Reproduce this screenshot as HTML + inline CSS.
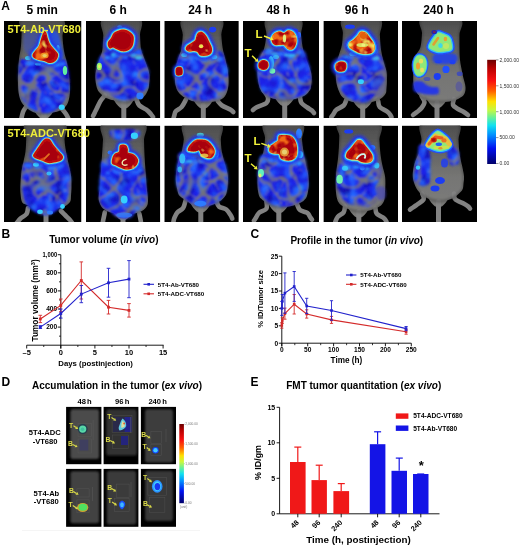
<!DOCTYPE html>
<html><head><meta charset="utf-8"><title>Figure</title>
<style>html,body{margin:0;padding:0;background:#fff;width:520px;height:547px;overflow:hidden}
svg{display:block;font-family:'Liberation Sans', Arial, sans-serif}</style></head>
<body><svg width="520" height="547" viewBox="0 0 520 547">
<rect width="520" height="547" fill="#fff"/>
<defs>
<linearGradient id="jet" x1="0" y1="0" x2="0" y2="1">
<stop offset="0" stop-color="#6a0000"/><stop offset="0.08" stop-color="#b80000"/><stop offset="0.2" stop-color="#f81010"/><stop offset="0.3" stop-color="#ff6000"/>
<stop offset="0.4" stop-color="#ffe000"/><stop offset="0.48" stop-color="#c8f840"/><stop offset="0.56" stop-color="#60f0a0"/><stop offset="0.63" stop-color="#10e0f0"/>
<stop offset="0.72" stop-color="#0090ff"/><stop offset="0.85" stop-color="#0010f0"/><stop offset="1" stop-color="#00006a"/>
</linearGradient>
<linearGradient id="mg" x1="0" y1="0" x2="0" y2="1"><stop offset="0" stop-color="#4a4a4a"/><stop offset="0.3" stop-color="#5f5f5f"/><stop offset="0.7" stop-color="#767674"/><stop offset="1" stop-color="#7a7a7a"/></linearGradient>
<filter id="b1" x="-100%" y="-100%" width="300%" height="300%"><feGaussianBlur stdDeviation="1"/></filter>
<filter id="b05" x="-100%" y="-100%" width="300%" height="300%"><feGaussianBlur stdDeviation="0.5"/></filter>
<filter id="b15" x="-100%" y="-100%" width="300%" height="300%"><feGaussianBlur stdDeviation="1.5"/></filter>
<filter id="b2" x="-30%" y="-30%" width="160%" height="160%"><feGaussianBlur stdDeviation="2"/></filter>
</defs>
<text x="1.2" y="9.8" font-size="12" font-weight="bold" text-anchor="start" fill="#000" >A</text>
<text x="26.6" y="13.8" font-size="12" font-weight="bold" text-anchor="start" fill="#000" >5 min</text>
<text x="109.6" y="13.8" font-size="12" font-weight="bold" text-anchor="start" fill="#000" >6 h</text>
<text x="188.2" y="13.8" font-size="12" font-weight="bold" text-anchor="start" fill="#000" >24 h</text>
<text x="266.4" y="13.8" font-size="12" font-weight="bold" text-anchor="start" fill="#000" >48 h</text>
<text x="344.8" y="13.8" font-size="12" font-weight="bold" text-anchor="start" fill="#000" >96 h</text>
<text x="423.2" y="13.8" font-size="12" font-weight="bold" text-anchor="start" fill="#000" >240 h</text>
<clipPath id="pc0"><rect x="0" y="0" width="77.50" height="97.00"/></clipPath>
<g transform="translate(4,21)"><g clip-path="url(#pc0)">
<rect width="77.50" height="97.00" fill="#000"/>
<g filter="url(#b05)">
<path d="M18.0,-2.0 C24.7,-4.0 51.2,-4.8 58.0,-2.0 C64.8,0.8 58.2,9.7 58.5,15.0 C58.8,20.3 59.2,25.5 60.0,30.0 C60.8,34.5 62.2,37.8 63.0,42.0 C63.8,46.2 64.5,50.7 65.0,55.0 C65.5,59.3 66.0,64.2 66.0,68.0 C66.0,71.8 65.7,75.2 65.0,78.0 C64.3,80.8 63.7,83.0 62.0,85.0 C60.3,87.0 57.8,88.8 55.0,90.0 C52.2,91.2 48.8,91.7 45.0,92.0 C41.2,92.3 35.5,92.7 32.0,92.0 C28.5,91.3 26.3,89.7 24.0,88.0 C21.7,86.3 19.5,84.3 18.0,82.0 C16.5,79.7 15.7,77.3 15.0,74.0 C14.3,70.7 14.1,66.0 14.0,62.0 C13.9,58.0 14.0,54.0 14.2,50.0 C14.4,46.0 14.5,42.2 15.0,38.0 C15.5,33.8 16.6,29.7 17.0,25.0 C17.4,20.3 17.5,14.5 17.7,10.0 C17.9,5.5 11.3,0.0 18.0,-2.0Z" fill="url(#mg)"/>
<path d="M30.0,86.0 C32.3,84.2 47.7,84.2 50.0,86.0 C52.3,87.8 46.3,95.2 44.0,97.0 C41.7,98.8 38.3,98.8 36.0,97.0 C33.7,95.2 27.7,87.8 30.0,86.0Z" fill="#7a7a78"/>
<path d="M22.0,86.0 C21.5,86.8 19.8,88.8 19.0,91.0 C18.2,93.2 17.3,97.7 17.0,99.0" fill="none" stroke="#828282" stroke-width="4.6" stroke-linecap="round" stroke-linejoin="round"/>
<path d="M58.0,88.0 C58.7,88.8 60.8,91.2 62.0,93.0 C63.2,94.8 64.5,98.0 65.0,99.0" fill="none" stroke="#828282" stroke-width="4.6" stroke-linecap="round" stroke-linejoin="round"/>
<path d="M40.0,90.0 C40.0,91.5 40.0,97.5 40.0,99.0" fill="none" stroke="#828282" stroke-width="5" stroke-linecap="round"/>
</g>
<path d="M18.0,-2.0 C24.7,-4.0 51.2,-4.8 58.0,-2.0 C64.8,0.8 58.2,9.7 58.5,15.0 C58.8,20.3 59.2,25.5 60.0,30.0 C60.8,34.5 62.2,37.8 63.0,42.0 C63.8,46.2 64.5,50.7 65.0,55.0 C65.5,59.3 66.0,64.2 66.0,68.0 C66.0,71.8 65.7,75.2 65.0,78.0 C64.3,80.8 63.7,83.0 62.0,85.0 C60.3,87.0 57.8,88.8 55.0,90.0 C52.2,91.2 48.8,91.7 45.0,92.0 C41.2,92.3 35.5,92.7 32.0,92.0 C28.5,91.3 26.3,89.7 24.0,88.0 C21.7,86.3 19.5,84.3 18.0,82.0 C16.5,79.7 15.7,77.3 15.0,74.0 C14.3,70.7 14.1,66.0 14.0,62.0 C13.9,58.0 14.0,54.0 14.2,50.0 C14.4,46.0 14.5,42.2 15.0,38.0 C15.5,33.8 16.6,29.7 17.0,25.0 C17.4,20.3 17.5,14.5 17.7,10.0 C17.9,5.5 11.3,0.0 18.0,-2.0Z" fill="none" stroke="#000" stroke-opacity="0.22" stroke-width="3" filter="url(#b1)"/>
<path d="M21.0,12.0 C23.2,9.3 30.8,9.3 33.0,12.0 C35.2,14.7 35.0,24.3 34.0,28.0 C33.0,31.7 29.3,34.0 27.0,34.0 C24.7,34.0 21.0,31.7 20.0,28.0 C19.0,24.3 18.8,14.7 21.0,12.0Z" fill="#3a50c0" fill-opacity="0.55" filter="url(#b1)"/>
<path d="M44.0,11.0 C45.0,7.8 50.8,9.2 53.0,11.0 C55.2,12.8 56.0,17.8 57.0,22.0 C58.0,26.2 59.7,33.0 59.0,36.0 C58.3,39.0 55.0,41.0 53.0,40.0 C51.0,39.0 48.5,34.8 47.0,30.0 C45.5,25.2 43.0,14.2 44.0,11.0Z" fill="#2050f0" fill-opacity="0.8" filter="url(#b1)"/>
<defs>
<filter id="tg11" x="-5%" y="-5%" width="110%" height="110%" color-interpolation-filters="sRGB"><feTurbulence type="turbulence" baseFrequency="0.056" numOctaves="1" seed="11" result="n"/><feColorMatrix in="n" type="matrix" values="0 0 0 0 0.5 0 0 0 0 0.49 0 0 0 0 0.44 -9 0 0 0 0.85" result="c"/><feComposite in="c" in2="SourceAlpha" operator="in" result="m"/><feGaussianBlur in="m" stdDeviation="0.7"/></filter>
<filter id="tl11" x="-5%" y="-5%" width="110%" height="110%" color-interpolation-filters="sRGB"><feTurbulence type="fractalNoise" baseFrequency="0.12" numOctaves="2" seed="511" result="n"/><feColorMatrix in="n" type="matrix" values="0 0 0 0 0.15 0 0 0 0 0.42 0 0 0 0 1.0 4 0 0 0 -1.8" result="c"/><feComposite in="c" in2="SourceAlpha" operator="in" result="m"/><feGaussianBlur in="m" stdDeviation="0.8"/></filter>
<filter id="td11" x="-5%" y="-5%" width="110%" height="110%" color-interpolation-filters="sRGB"><feTurbulence type="fractalNoise" baseFrequency="0.1" numOctaves="2" seed="911" result="n"/><feColorMatrix in="n" type="matrix" values="0 0 0 0 0.08 0 0 0 0 0.03 0 0 0 0 0.62 4 0 0 0 -2.0" result="c"/><feComposite in="c" in2="SourceAlpha" operator="in" result="m"/><feGaussianBlur in="m" stdDeviation="0.8"/></filter>
<filter id="tc11" x="-5%" y="-5%" width="110%" height="110%" color-interpolation-filters="sRGB"><feTurbulence type="fractalNoise" baseFrequency="0.09" numOctaves="2" seed="711" result="n"/><feColorMatrix in="n" type="matrix" values="0 0 0 0 0.2 0 0 0 0 0.72 0 0 0 0 1.0 5 0 0 0 -3.45" result="c"/><feComposite in="c" in2="SourceAlpha" operator="in" result="m"/><feGaussianBlur in="m" stdDeviation="0.8"/></filter>
<filter id="bb11" x="-30%" y="-30%" width="160%" height="160%"><feGaussianBlur stdDeviation="1.2"/></filter>
</defs>
<g filter="url(#bb11)"><path d="M18.0,38.0 C19.7,37.7 23.7,39.3 26.0,40.0 C28.3,40.7 29.0,41.5 32.0,42.0 C35.0,42.5 40.3,43.2 44.0,43.0 C47.7,42.8 51.3,41.8 54.0,41.0 C56.7,40.2 58.5,37.5 60.0,38.0 C61.5,38.5 62.2,41.2 63.0,44.0 C63.8,46.8 64.7,51.0 65.0,55.0 C65.3,59.0 65.5,64.5 65.0,68.0 C64.5,71.5 63.3,73.3 62.0,76.0 C60.7,78.7 59.0,81.7 57.0,84.0 C55.0,86.3 52.8,88.7 50.0,90.0 C47.2,91.3 43.3,92.2 40.0,92.0 C36.7,91.8 33.0,90.5 30.0,89.0 C27.0,87.5 24.2,85.5 22.0,83.0 C19.8,80.5 18.2,77.5 17.0,74.0 C15.8,70.5 15.3,66.0 15.0,62.0 C14.7,58.0 14.8,53.3 15.0,50.0 C15.2,46.7 15.5,44.0 16.0,42.0 C16.5,40.0 16.3,38.3 18.0,38.0Z" fill="#1c22e8" fill-opacity="1.0"/>
<path d="M18.0,38.0 C19.7,37.7 23.7,39.3 26.0,40.0 C28.3,40.7 29.0,41.5 32.0,42.0 C35.0,42.5 40.3,43.2 44.0,43.0 C47.7,42.8 51.3,41.8 54.0,41.0 C56.7,40.2 58.5,37.5 60.0,38.0 C61.5,38.5 62.2,41.2 63.0,44.0 C63.8,46.8 64.7,51.0 65.0,55.0 C65.3,59.0 65.5,64.5 65.0,68.0 C64.5,71.5 63.3,73.3 62.0,76.0 C60.7,78.7 59.0,81.7 57.0,84.0 C55.0,86.3 52.8,88.7 50.0,90.0 C47.2,91.3 43.3,92.2 40.0,92.0 C36.7,91.8 33.0,90.5 30.0,89.0 C27.0,87.5 24.2,85.5 22.0,83.0 C19.8,80.5 18.2,77.5 17.0,74.0 C15.8,70.5 15.3,66.0 15.0,62.0 C14.7,58.0 14.8,53.3 15.0,50.0 C15.2,46.7 15.5,44.0 16.0,42.0 C16.5,40.0 16.3,38.3 18.0,38.0Z" fill="#000" filter="url(#td11)"/>
<path d="M18.0,38.0 C19.7,37.7 23.7,39.3 26.0,40.0 C28.3,40.7 29.0,41.5 32.0,42.0 C35.0,42.5 40.3,43.2 44.0,43.0 C47.7,42.8 51.3,41.8 54.0,41.0 C56.7,40.2 58.5,37.5 60.0,38.0 C61.5,38.5 62.2,41.2 63.0,44.0 C63.8,46.8 64.7,51.0 65.0,55.0 C65.3,59.0 65.5,64.5 65.0,68.0 C64.5,71.5 63.3,73.3 62.0,76.0 C60.7,78.7 59.0,81.7 57.0,84.0 C55.0,86.3 52.8,88.7 50.0,90.0 C47.2,91.3 43.3,92.2 40.0,92.0 C36.7,91.8 33.0,90.5 30.0,89.0 C27.0,87.5 24.2,85.5 22.0,83.0 C19.8,80.5 18.2,77.5 17.0,74.0 C15.8,70.5 15.3,66.0 15.0,62.0 C14.7,58.0 14.8,53.3 15.0,50.0 C15.2,46.7 15.5,44.0 16.0,42.0 C16.5,40.0 16.3,38.3 18.0,38.0Z" fill="#000" filter="url(#tl11)"/>
<path d="M18.0,38.0 C19.7,37.7 23.7,39.3 26.0,40.0 C28.3,40.7 29.0,41.5 32.0,42.0 C35.0,42.5 40.3,43.2 44.0,43.0 C47.7,42.8 51.3,41.8 54.0,41.0 C56.7,40.2 58.5,37.5 60.0,38.0 C61.5,38.5 62.2,41.2 63.0,44.0 C63.8,46.8 64.7,51.0 65.0,55.0 C65.3,59.0 65.5,64.5 65.0,68.0 C64.5,71.5 63.3,73.3 62.0,76.0 C60.7,78.7 59.0,81.7 57.0,84.0 C55.0,86.3 52.8,88.7 50.0,90.0 C47.2,91.3 43.3,92.2 40.0,92.0 C36.7,91.8 33.0,90.5 30.0,89.0 C27.0,87.5 24.2,85.5 22.0,83.0 C19.8,80.5 18.2,77.5 17.0,74.0 C15.8,70.5 15.3,66.0 15.0,62.0 C14.7,58.0 14.8,53.3 15.0,50.0 C15.2,46.7 15.5,44.0 16.0,42.0 C16.5,40.0 16.3,38.3 18.0,38.0Z" fill="#000" filter="url(#tc11)"/>
<path d="M18.0,38.0 C19.7,37.7 23.7,39.3 26.0,40.0 C28.3,40.7 29.0,41.5 32.0,42.0 C35.0,42.5 40.3,43.2 44.0,43.0 C47.7,42.8 51.3,41.8 54.0,41.0 C56.7,40.2 58.5,37.5 60.0,38.0 C61.5,38.5 62.2,41.2 63.0,44.0 C63.8,46.8 64.7,51.0 65.0,55.0 C65.3,59.0 65.5,64.5 65.0,68.0 C64.5,71.5 63.3,73.3 62.0,76.0 C60.7,78.7 59.0,81.7 57.0,84.0 C55.0,86.3 52.8,88.7 50.0,90.0 C47.2,91.3 43.3,92.2 40.0,92.0 C36.7,91.8 33.0,90.5 30.0,89.0 C27.0,87.5 24.2,85.5 22.0,83.0 C19.8,80.5 18.2,77.5 17.0,74.0 C15.8,70.5 15.3,66.0 15.0,62.0 C14.7,58.0 14.8,53.3 15.0,50.0 C15.2,46.7 15.5,44.0 16.0,42.0 C16.5,40.0 16.3,38.3 18.0,38.0Z" fill="#000" filter="url(#tg11)"/></g>
<ellipse cx="24.5" cy="42.5" rx="4.0" ry="2.1" fill="#2c78ff" fill-opacity="0.8" filter="url(#b1)"/>
<ellipse cx="27.6" cy="42.0" rx="3.7" ry="2.4" fill="#2c78ff" fill-opacity="0.8" filter="url(#b1)"/>
<ellipse cx="38.5" cy="42.9" rx="2.8" ry="2.3" fill="#2c78ff" fill-opacity="0.8" filter="url(#b1)"/>
<ellipse cx="43.8" cy="41.4" rx="2.8" ry="2.1" fill="#2c78ff" fill-opacity="0.8" filter="url(#b1)"/>
<ellipse cx="52.5" cy="43.3" rx="3.9" ry="2.0" fill="#30a8ff" fill-opacity="0.8" filter="url(#b1)"/>
<ellipse cx="58.4" cy="42.9" rx="3.4" ry="2.2" fill="#2c78ff" fill-opacity="0.8" filter="url(#b1)"/>
<ellipse cx="24" cy="37" rx="3" ry="2" fill="#35d0ff" fill-opacity="0.8" filter="url(#b05)"/>
<ellipse cx="54" cy="28" rx="1.6" ry="4" fill="#35d0ff" fill-opacity="0.7" filter="url(#b05)"/>
<ellipse cx="34" cy="43" rx="3" ry="1.6" fill="#35d0ff" fill-opacity="0.7" filter="url(#b05)"/>
<g filter="url(#b05)">
<path d="M39.5,11.0 C40.3,9.8 41.2,9.8 42.0,11.0 C42.8,12.2 43.3,16.0 44.0,18.0 C44.7,20.0 45.0,21.3 46.0,23.0 C47.0,24.7 48.7,26.3 50.0,28.0 C51.3,29.7 53.5,31.3 54.0,33.0 C54.5,34.7 53.7,36.7 53.0,38.0 C52.3,39.3 51.3,40.3 50.0,41.0 C48.7,41.7 46.7,42.2 45.0,42.0 C43.3,41.8 41.7,40.5 40.0,40.0 C38.3,39.5 36.7,39.5 35.0,39.0 C33.3,38.5 31.1,37.8 30.0,37.0 C28.9,36.2 28.3,35.2 28.5,34.0 C28.7,32.8 29.9,31.5 31.0,30.0 C32.1,28.5 34.0,27.0 35.0,25.0 C36.0,23.0 36.2,20.3 37.0,18.0 C37.8,15.7 38.7,12.2 39.5,11.0Z" fill="#1c30f0" stroke="#1c30f0" stroke-width="7.7" stroke-linejoin="round" opacity="0.85" filter="url(#b15)"/>
<path d="M39.5,11.0 C40.3,9.8 41.2,9.8 42.0,11.0 C42.8,12.2 43.3,16.0 44.0,18.0 C44.7,20.0 45.0,21.3 46.0,23.0 C47.0,24.7 48.7,26.3 50.0,28.0 C51.3,29.7 53.5,31.3 54.0,33.0 C54.5,34.7 53.7,36.7 53.0,38.0 C52.3,39.3 51.3,40.3 50.0,41.0 C48.7,41.7 46.7,42.2 45.0,42.0 C43.3,41.8 41.7,40.5 40.0,40.0 C38.3,39.5 36.7,39.5 35.0,39.0 C33.3,38.5 31.1,37.8 30.0,37.0 C28.9,36.2 28.3,35.2 28.5,34.0 C28.7,32.8 29.9,31.5 31.0,30.0 C32.1,28.5 34.0,27.0 35.0,25.0 C36.0,23.0 36.2,20.3 37.0,18.0 C37.8,15.7 38.7,12.2 39.5,11.0Z" fill="#2070ff" stroke="#2070ff" stroke-width="3.9" stroke-linejoin="round" opacity="0.9" filter="url(#b05)"/>
<path d="M39.5,11.0 C40.3,9.8 41.2,9.8 42.0,11.0 C42.8,12.2 43.3,16.0 44.0,18.0 C44.7,20.0 45.0,21.3 46.0,23.0 C47.0,24.7 48.7,26.3 50.0,28.0 C51.3,29.7 53.5,31.3 54.0,33.0 C54.5,34.7 53.7,36.7 53.0,38.0 C52.3,39.3 51.3,40.3 50.0,41.0 C48.7,41.7 46.7,42.2 45.0,42.0 C43.3,41.8 41.7,40.5 40.0,40.0 C38.3,39.5 36.7,39.5 35.0,39.0 C33.3,38.5 31.1,37.8 30.0,37.0 C28.9,36.2 28.3,35.2 28.5,34.0 C28.7,32.8 29.9,31.5 31.0,30.0 C32.1,28.5 34.0,27.0 35.0,25.0 C36.0,23.0 36.2,20.3 37.0,18.0 C37.8,15.7 38.7,12.2 39.5,11.0Z" fill="#40d8f0" stroke="#40d8f0" stroke-width="2.1" stroke-linejoin="round"/>
<path d="M39.5,11.0 C40.3,9.8 41.2,9.8 42.0,11.0 C42.8,12.2 43.3,16.0 44.0,18.0 C44.7,20.0 45.0,21.3 46.0,23.0 C47.0,24.7 48.7,26.3 50.0,28.0 C51.3,29.7 53.5,31.3 54.0,33.0 C54.5,34.7 53.7,36.7 53.0,38.0 C52.3,39.3 51.3,40.3 50.0,41.0 C48.7,41.7 46.7,42.2 45.0,42.0 C43.3,41.8 41.7,40.5 40.0,40.0 C38.3,39.5 36.7,39.5 35.0,39.0 C33.3,38.5 31.1,37.8 30.0,37.0 C28.9,36.2 28.3,35.2 28.5,34.0 C28.7,32.8 29.9,31.5 31.0,30.0 C32.1,28.5 34.0,27.0 35.0,25.0 C36.0,23.0 36.2,20.3 37.0,18.0 C37.8,15.7 38.7,12.2 39.5,11.0Z" fill="#e8e070" stroke="#e8e070" stroke-width="0.9" stroke-linejoin="round"/>
<path d="M39.5,11.0 C40.3,9.8 41.2,9.8 42.0,11.0 C42.8,12.2 43.3,16.0 44.0,18.0 C44.7,20.0 45.0,21.3 46.0,23.0 C47.0,24.7 48.7,26.3 50.0,28.0 C51.3,29.7 53.5,31.3 54.0,33.0 C54.5,34.7 53.7,36.7 53.0,38.0 C52.3,39.3 51.3,40.3 50.0,41.0 C48.7,41.7 46.7,42.2 45.0,42.0 C43.3,41.8 41.7,40.5 40.0,40.0 C38.3,39.5 36.7,39.5 35.0,39.0 C33.3,38.5 31.1,37.8 30.0,37.0 C28.9,36.2 28.3,35.2 28.5,34.0 C28.7,32.8 29.9,31.5 31.0,30.0 C32.1,28.5 34.0,27.0 35.0,25.0 C36.0,23.0 36.2,20.3 37.0,18.0 C37.8,15.7 38.7,12.2 39.5,11.0Z" fill="#c01010"/>
<path d="M39.9,14.6 C40.5,13.7 41.2,13.7 41.9,14.6 C42.5,15.6 42.9,18.6 43.5,20.2 C44.0,21.9 44.2,22.9 45.0,24.2 C45.8,25.6 47.2,26.9 48.2,28.2 C49.3,29.6 51.1,30.9 51.5,32.2 C51.9,33.6 51.2,35.2 50.6,36.2 C50.1,37.3 49.3,38.1 48.2,38.6 C47.2,39.2 45.6,39.6 44.2,39.5 C42.9,39.3 41.6,38.2 40.2,37.9 C38.9,37.5 37.6,37.4 36.2,37.0 C34.9,36.6 33.1,36.1 32.2,35.5 C31.4,34.8 30.9,34.0 31.0,33.0 C31.2,32.1 32.2,31.1 33.0,29.9 C33.9,28.7 35.5,27.5 36.2,25.9 C37.0,24.2 37.2,22.1 37.9,20.2 C38.5,18.4 39.2,15.6 39.9,14.6Z" fill="#a80010" filter="url(#b05)"/>
<defs><filter id="lo1" x="-5%" y="-5%" width="110%" height="110%" color-interpolation-filters="sRGB"><feTurbulence type="fractalNoise" baseFrequency="0.1" numOctaves="2" seed="10" result="n"/><feColorMatrix in="n" type="matrix" values="0 0 0 0 0.95 0 0 0 0 0.42 0 0 0 0 0.08 5 0 0 0 -2.8000000000000003" result="c"/><feComposite in="c" in2="SourceAlpha" operator="in" result="m"/><feGaussianBlur in="m" stdDeviation="0.6"/></filter><filter id="ly1" x="-5%" y="-5%" width="110%" height="110%" color-interpolation-filters="sRGB"><feTurbulence type="fractalNoise" baseFrequency="0.11" numOctaves="2" seed="12" result="n"/><feColorMatrix in="n" type="matrix" values="0 0 0 0 0.95 0 0 0 0 0.88 0 0 0 0 0.35 5 0 0 0 -3.44" result="c"/><feComposite in="c" in2="SourceAlpha" operator="in" result="m"/><feGaussianBlur in="m" stdDeviation="0.6"/></filter></defs>
<path d="M39.5,11.0 C40.3,9.8 41.2,9.8 42.0,11.0 C42.8,12.2 43.3,16.0 44.0,18.0 C44.7,20.0 45.0,21.3 46.0,23.0 C47.0,24.7 48.7,26.3 50.0,28.0 C51.3,29.7 53.5,31.3 54.0,33.0 C54.5,34.7 53.7,36.7 53.0,38.0 C52.3,39.3 51.3,40.3 50.0,41.0 C48.7,41.7 46.7,42.2 45.0,42.0 C43.3,41.8 41.7,40.5 40.0,40.0 C38.3,39.5 36.7,39.5 35.0,39.0 C33.3,38.5 31.1,37.8 30.0,37.0 C28.9,36.2 28.3,35.2 28.5,34.0 C28.7,32.8 29.9,31.5 31.0,30.0 C32.1,28.5 34.0,27.0 35.0,25.0 C36.0,23.0 36.2,20.3 37.0,18.0 C37.8,15.7 38.7,12.2 39.5,11.0Z" fill="#000" filter="url(#lo1)"/>
<path d="M39.5,11.0 C40.3,9.8 41.2,9.8 42.0,11.0 C42.8,12.2 43.3,16.0 44.0,18.0 C44.7,20.0 45.0,21.3 46.0,23.0 C47.0,24.7 48.7,26.3 50.0,28.0 C51.3,29.7 53.5,31.3 54.0,33.0 C54.5,34.7 53.7,36.7 53.0,38.0 C52.3,39.3 51.3,40.3 50.0,41.0 C48.7,41.7 46.7,42.2 45.0,42.0 C43.3,41.8 41.7,40.5 40.0,40.0 C38.3,39.5 36.7,39.5 35.0,39.0 C33.3,38.5 31.1,37.8 30.0,37.0 C28.9,36.2 28.3,35.2 28.5,34.0 C28.7,32.8 29.9,31.5 31.0,30.0 C32.1,28.5 34.0,27.0 35.0,25.0 C36.0,23.0 36.2,20.3 37.0,18.0 C37.8,15.7 38.7,12.2 39.5,11.0Z" fill="#000" filter="url(#ly1)"/>
</g>
<ellipse cx="40.6" cy="34.6" rx="4" ry="3" fill="#f09020" fill-opacity="1" filter="url(#b05)"/>
<ellipse cx="40.6" cy="34.6" rx="2.2" ry="1.6" fill="#e8d060" fill-opacity="1" filter="url(#b05)"/>
<ellipse cx="61" cy="49.5" rx="2.2" ry="4.5" fill="#60f0a0" fill-opacity="1" filter="url(#b05)"/>
<ellipse cx="57.7" cy="86.2" rx="3" ry="2.8" fill="#35d0ff" fill-opacity="1" filter="url(#b05)"/>
</g></g>
<clipPath id="pc1"><rect x="0" y="0" width="74.30" height="97.00"/></clipPath>
<g transform="translate(86,21)"><g clip-path="url(#pc1)">
<rect width="74.30" height="97.00" fill="#000"/>
<g filter="url(#b05)">
<path d="M17.3,-2.0 C23.3,-4.7 47.3,-4.7 53.4,-2.0 C59.5,0.7 53.7,9.0 54.0,14.0 C54.3,19.0 54.4,24.3 55.0,28.0 C55.6,31.7 56.7,33.2 57.7,36.0 C58.7,38.8 60.0,42.0 61.0,45.0 C62.0,48.0 63.2,50.8 63.5,54.0 C63.8,57.2 63.2,61.5 63.0,64.0 C62.8,66.5 62.8,67.1 62.0,69.0 C61.2,70.9 60.0,73.8 58.0,75.5 C56.0,77.2 53.0,78.0 50.0,79.0 C47.0,80.0 43.3,81.3 40.0,81.5 C36.7,81.7 33.3,80.8 30.0,80.0 C26.7,79.2 22.5,78.2 20.0,77.0 C17.5,75.8 16.4,74.4 15.0,73.0 C13.6,71.6 12.4,70.8 11.5,68.6 C10.6,66.4 9.9,62.8 9.6,60.0 C9.3,57.2 9.2,54.8 9.6,52.0 C10.0,49.2 11.2,45.7 12.0,43.0 C12.8,40.3 13.7,38.5 14.4,36.0 C15.2,33.5 16.0,31.7 16.5,28.0 C17.0,24.3 17.2,19.0 17.3,14.0 C17.4,9.0 11.3,0.7 17.3,-2.0Z" fill="url(#mg)"/>
<path d="M27.8,75.5 C30.1,73.7 45.5,73.7 47.8,75.5 C50.1,77.3 44.1,84.7 41.8,86.5 C39.5,88.3 36.1,88.3 33.8,86.5 C31.5,84.7 25.5,77.3 27.8,75.5Z" fill="#7a7a78"/>
<path d="M18.8,74.4 C18.1,75.4 15.7,78.0 14.4,80.2 C13.1,82.4 11.8,85.5 10.8,87.4 C9.9,89.3 9.3,90.4 8.7,91.7 C8.1,93.0 7.3,94.5 7.0,95.0" fill="none" stroke="#828282" stroke-width="4.6" stroke-linecap="round" stroke-linejoin="round"/>
<path d="M50.5,78.7 C51.0,79.7 51.7,82.8 53.4,84.5 C55.1,86.2 58.7,87.3 60.6,88.8 C62.5,90.2 63.9,92.0 65.0,93.2 C66.1,94.4 66.7,95.5 67.0,96.0" fill="none" stroke="#828282" stroke-width="4.6" stroke-linecap="round" stroke-linejoin="round"/>
<path d="M37.8,81.0 C37.8,84.0 37.8,96.0 37.8,99.0" fill="none" stroke="#828282" stroke-width="5" stroke-linecap="round"/>
</g>
<path d="M17.3,-2.0 C23.3,-4.7 47.3,-4.7 53.4,-2.0 C59.5,0.7 53.7,9.0 54.0,14.0 C54.3,19.0 54.4,24.3 55.0,28.0 C55.6,31.7 56.7,33.2 57.7,36.0 C58.7,38.8 60.0,42.0 61.0,45.0 C62.0,48.0 63.2,50.8 63.5,54.0 C63.8,57.2 63.2,61.5 63.0,64.0 C62.8,66.5 62.8,67.1 62.0,69.0 C61.2,70.9 60.0,73.8 58.0,75.5 C56.0,77.2 53.0,78.0 50.0,79.0 C47.0,80.0 43.3,81.3 40.0,81.5 C36.7,81.7 33.3,80.8 30.0,80.0 C26.7,79.2 22.5,78.2 20.0,77.0 C17.5,75.8 16.4,74.4 15.0,73.0 C13.6,71.6 12.4,70.8 11.5,68.6 C10.6,66.4 9.9,62.8 9.6,60.0 C9.3,57.2 9.2,54.8 9.6,52.0 C10.0,49.2 11.2,45.7 12.0,43.0 C12.8,40.3 13.7,38.5 14.4,36.0 C15.2,33.5 16.0,31.7 16.5,28.0 C17.0,24.3 17.2,19.0 17.3,14.0 C17.4,9.0 11.3,0.7 17.3,-2.0Z" fill="none" stroke="#000" stroke-opacity="0.22" stroke-width="3" filter="url(#b1)"/>
<defs>
<filter id="tg21" x="-5%" y="-5%" width="110%" height="110%" color-interpolation-filters="sRGB"><feTurbulence type="turbulence" baseFrequency="0.056" numOctaves="1" seed="21" result="n"/><feColorMatrix in="n" type="matrix" values="0 0 0 0 0.5 0 0 0 0 0.49 0 0 0 0 0.44 -9 0 0 0 0.85" result="c"/><feComposite in="c" in2="SourceAlpha" operator="in" result="m"/><feGaussianBlur in="m" stdDeviation="0.7"/></filter>
<filter id="tl21" x="-5%" y="-5%" width="110%" height="110%" color-interpolation-filters="sRGB"><feTurbulence type="fractalNoise" baseFrequency="0.12" numOctaves="2" seed="521" result="n"/><feColorMatrix in="n" type="matrix" values="0 0 0 0 0.15 0 0 0 0 0.42 0 0 0 0 1.0 4 0 0 0 -1.8" result="c"/><feComposite in="c" in2="SourceAlpha" operator="in" result="m"/><feGaussianBlur in="m" stdDeviation="0.8"/></filter>
<filter id="td21" x="-5%" y="-5%" width="110%" height="110%" color-interpolation-filters="sRGB"><feTurbulence type="fractalNoise" baseFrequency="0.1" numOctaves="2" seed="921" result="n"/><feColorMatrix in="n" type="matrix" values="0 0 0 0 0.08 0 0 0 0 0.03 0 0 0 0 0.62 4 0 0 0 -2.0" result="c"/><feComposite in="c" in2="SourceAlpha" operator="in" result="m"/><feGaussianBlur in="m" stdDeviation="0.8"/></filter>
<filter id="tc21" x="-5%" y="-5%" width="110%" height="110%" color-interpolation-filters="sRGB"><feTurbulence type="fractalNoise" baseFrequency="0.09" numOctaves="2" seed="721" result="n"/><feColorMatrix in="n" type="matrix" values="0 0 0 0 0.2 0 0 0 0 0.72 0 0 0 0 1.0 5 0 0 0 -3.45" result="c"/><feComposite in="c" in2="SourceAlpha" operator="in" result="m"/><feGaussianBlur in="m" stdDeviation="0.8"/></filter>
<filter id="bb21" x="-30%" y="-30%" width="160%" height="160%"><feGaussianBlur stdDeviation="1.2"/></filter>
</defs>
<g filter="url(#bb21)"><path d="M15.0,34.0 C16.7,32.0 19.5,30.5 22.0,30.0 C24.5,29.5 26.2,30.8 30.0,31.0 C33.8,31.2 41.0,31.5 45.0,31.0 C49.0,30.5 52.0,27.2 54.0,28.0 C56.0,28.8 55.8,33.2 57.0,36.0 C58.2,38.8 60.0,42.0 61.0,45.0 C62.0,48.0 62.8,50.8 63.0,54.0 C63.2,57.2 62.8,61.3 62.0,64.0 C61.2,66.7 60.0,68.0 58.0,70.0 C56.0,72.0 53.0,74.5 50.0,76.0 C47.0,77.5 43.3,78.8 40.0,79.0 C36.7,79.2 33.0,78.2 30.0,77.0 C27.0,75.8 24.7,73.8 22.0,72.0 C19.3,70.2 15.9,68.3 14.0,66.0 C12.1,63.7 11.1,60.7 10.5,58.0 C9.9,55.3 10.2,52.7 10.5,50.0 C10.8,47.3 11.2,44.7 12.0,42.0 C12.8,39.3 13.3,36.0 15.0,34.0Z" fill="#1c22e8" fill-opacity="1.0"/>
<path d="M15.0,34.0 C16.7,32.0 19.5,30.5 22.0,30.0 C24.5,29.5 26.2,30.8 30.0,31.0 C33.8,31.2 41.0,31.5 45.0,31.0 C49.0,30.5 52.0,27.2 54.0,28.0 C56.0,28.8 55.8,33.2 57.0,36.0 C58.2,38.8 60.0,42.0 61.0,45.0 C62.0,48.0 62.8,50.8 63.0,54.0 C63.2,57.2 62.8,61.3 62.0,64.0 C61.2,66.7 60.0,68.0 58.0,70.0 C56.0,72.0 53.0,74.5 50.0,76.0 C47.0,77.5 43.3,78.8 40.0,79.0 C36.7,79.2 33.0,78.2 30.0,77.0 C27.0,75.8 24.7,73.8 22.0,72.0 C19.3,70.2 15.9,68.3 14.0,66.0 C12.1,63.7 11.1,60.7 10.5,58.0 C9.9,55.3 10.2,52.7 10.5,50.0 C10.8,47.3 11.2,44.7 12.0,42.0 C12.8,39.3 13.3,36.0 15.0,34.0Z" fill="#000" filter="url(#td21)"/>
<path d="M15.0,34.0 C16.7,32.0 19.5,30.5 22.0,30.0 C24.5,29.5 26.2,30.8 30.0,31.0 C33.8,31.2 41.0,31.5 45.0,31.0 C49.0,30.5 52.0,27.2 54.0,28.0 C56.0,28.8 55.8,33.2 57.0,36.0 C58.2,38.8 60.0,42.0 61.0,45.0 C62.0,48.0 62.8,50.8 63.0,54.0 C63.2,57.2 62.8,61.3 62.0,64.0 C61.2,66.7 60.0,68.0 58.0,70.0 C56.0,72.0 53.0,74.5 50.0,76.0 C47.0,77.5 43.3,78.8 40.0,79.0 C36.7,79.2 33.0,78.2 30.0,77.0 C27.0,75.8 24.7,73.8 22.0,72.0 C19.3,70.2 15.9,68.3 14.0,66.0 C12.1,63.7 11.1,60.7 10.5,58.0 C9.9,55.3 10.2,52.7 10.5,50.0 C10.8,47.3 11.2,44.7 12.0,42.0 C12.8,39.3 13.3,36.0 15.0,34.0Z" fill="#000" filter="url(#tl21)"/>
<path d="M15.0,34.0 C16.7,32.0 19.5,30.5 22.0,30.0 C24.5,29.5 26.2,30.8 30.0,31.0 C33.8,31.2 41.0,31.5 45.0,31.0 C49.0,30.5 52.0,27.2 54.0,28.0 C56.0,28.8 55.8,33.2 57.0,36.0 C58.2,38.8 60.0,42.0 61.0,45.0 C62.0,48.0 62.8,50.8 63.0,54.0 C63.2,57.2 62.8,61.3 62.0,64.0 C61.2,66.7 60.0,68.0 58.0,70.0 C56.0,72.0 53.0,74.5 50.0,76.0 C47.0,77.5 43.3,78.8 40.0,79.0 C36.7,79.2 33.0,78.2 30.0,77.0 C27.0,75.8 24.7,73.8 22.0,72.0 C19.3,70.2 15.9,68.3 14.0,66.0 C12.1,63.7 11.1,60.7 10.5,58.0 C9.9,55.3 10.2,52.7 10.5,50.0 C10.8,47.3 11.2,44.7 12.0,42.0 C12.8,39.3 13.3,36.0 15.0,34.0Z" fill="#000" filter="url(#tc21)"/>
<path d="M15.0,34.0 C16.7,32.0 19.5,30.5 22.0,30.0 C24.5,29.5 26.2,30.8 30.0,31.0 C33.8,31.2 41.0,31.5 45.0,31.0 C49.0,30.5 52.0,27.2 54.0,28.0 C56.0,28.8 55.8,33.2 57.0,36.0 C58.2,38.8 60.0,42.0 61.0,45.0 C62.0,48.0 62.8,50.8 63.0,54.0 C63.2,57.2 62.8,61.3 62.0,64.0 C61.2,66.7 60.0,68.0 58.0,70.0 C56.0,72.0 53.0,74.5 50.0,76.0 C47.0,77.5 43.3,78.8 40.0,79.0 C36.7,79.2 33.0,78.2 30.0,77.0 C27.0,75.8 24.7,73.8 22.0,72.0 C19.3,70.2 15.9,68.3 14.0,66.0 C12.1,63.7 11.1,60.7 10.5,58.0 C9.9,55.3 10.2,52.7 10.5,50.0 C10.8,47.3 11.2,44.7 12.0,42.0 C12.8,39.3 13.3,36.0 15.0,34.0Z" fill="#000" filter="url(#tg21)"/></g>
<ellipse cx="21.3" cy="36.8" rx="2.5" ry="1.8" fill="#30a8ff" fill-opacity="0.8" filter="url(#b1)"/>
<ellipse cx="27.9" cy="33.3" rx="2.9" ry="2.4" fill="#40d0f0" fill-opacity="0.8" filter="url(#b1)"/>
<ellipse cx="31.0" cy="34.9" rx="3.2" ry="1.6" fill="#2c78ff" fill-opacity="0.8" filter="url(#b1)"/>
<ellipse cx="39.3" cy="36.4" rx="2.8" ry="1.6" fill="#2c78ff" fill-opacity="0.8" filter="url(#b1)"/>
<ellipse cx="47.3" cy="34.1" rx="3.2" ry="2.3" fill="#30a8ff" fill-opacity="0.8" filter="url(#b1)"/>
<ellipse cx="52.6" cy="36.8" rx="3.7" ry="2.0" fill="#40d0f0" fill-opacity="0.8" filter="url(#b1)"/>
<ellipse cx="33.8" cy="5.8" rx="2.5" ry="1.6" fill="#35d0ff" fill-opacity="0.7" filter="url(#b05)"/>
<g filter="url(#b05)">
<path d="M29.0,11.0 C30.2,10.3 32.3,9.4 34.0,9.0 C35.7,8.6 37.3,8.4 39.0,8.7 C40.7,9.0 42.6,9.9 44.0,11.0 C45.4,12.1 46.9,13.3 47.5,15.0 C48.1,16.7 47.9,19.2 47.6,21.0 C47.4,22.8 46.9,24.6 46.0,26.0 C45.1,27.4 43.7,28.8 42.0,29.5 C40.3,30.2 38.0,30.6 36.0,30.3 C34.0,30.1 31.5,28.6 30.0,28.0 C28.5,27.4 28.0,26.6 27.0,26.5 C26.0,26.4 24.8,27.8 24.0,27.5 C23.2,27.2 22.3,26.1 22.0,25.0 C21.7,23.9 21.5,22.3 22.0,21.0 C22.5,19.7 24.2,18.3 25.0,17.0 C25.8,15.7 26.3,14.0 27.0,13.0 C27.7,12.0 27.8,11.7 29.0,11.0Z" fill="#1c30f0" stroke="#1c30f0" stroke-width="8.8" stroke-linejoin="round" opacity="0.85" filter="url(#b15)"/>
<path d="M29.0,11.0 C30.2,10.3 32.3,9.4 34.0,9.0 C35.7,8.6 37.3,8.4 39.0,8.7 C40.7,9.0 42.6,9.9 44.0,11.0 C45.4,12.1 46.9,13.3 47.5,15.0 C48.1,16.7 47.9,19.2 47.6,21.0 C47.4,22.8 46.9,24.6 46.0,26.0 C45.1,27.4 43.7,28.8 42.0,29.5 C40.3,30.2 38.0,30.6 36.0,30.3 C34.0,30.1 31.5,28.6 30.0,28.0 C28.5,27.4 28.0,26.6 27.0,26.5 C26.0,26.4 24.8,27.8 24.0,27.5 C23.2,27.2 22.3,26.1 22.0,25.0 C21.7,23.9 21.5,22.3 22.0,21.0 C22.5,19.7 24.2,18.3 25.0,17.0 C25.8,15.7 26.3,14.0 27.0,13.0 C27.7,12.0 27.8,11.7 29.0,11.0Z" fill="#2070ff" stroke="#2070ff" stroke-width="4.4" stroke-linejoin="round" opacity="0.9" filter="url(#b05)"/>
<path d="M29.0,11.0 C30.2,10.3 32.3,9.4 34.0,9.0 C35.7,8.6 37.3,8.4 39.0,8.7 C40.7,9.0 42.6,9.9 44.0,11.0 C45.4,12.1 46.9,13.3 47.5,15.0 C48.1,16.7 47.9,19.2 47.6,21.0 C47.4,22.8 46.9,24.6 46.0,26.0 C45.1,27.4 43.7,28.8 42.0,29.5 C40.3,30.2 38.0,30.6 36.0,30.3 C34.0,30.1 31.5,28.6 30.0,28.0 C28.5,27.4 28.0,26.6 27.0,26.5 C26.0,26.4 24.8,27.8 24.0,27.5 C23.2,27.2 22.3,26.1 22.0,25.0 C21.7,23.9 21.5,22.3 22.0,21.0 C22.5,19.7 24.2,18.3 25.0,17.0 C25.8,15.7 26.3,14.0 27.0,13.0 C27.7,12.0 27.8,11.7 29.0,11.0Z" fill="#40d8f0" stroke="#40d8f0" stroke-width="2.4" stroke-linejoin="round"/>
<path d="M29.0,11.0 C30.2,10.3 32.3,9.4 34.0,9.0 C35.7,8.6 37.3,8.4 39.0,8.7 C40.7,9.0 42.6,9.9 44.0,11.0 C45.4,12.1 46.9,13.3 47.5,15.0 C48.1,16.7 47.9,19.2 47.6,21.0 C47.4,22.8 46.9,24.6 46.0,26.0 C45.1,27.4 43.7,28.8 42.0,29.5 C40.3,30.2 38.0,30.6 36.0,30.3 C34.0,30.1 31.5,28.6 30.0,28.0 C28.5,27.4 28.0,26.6 27.0,26.5 C26.0,26.4 24.8,27.8 24.0,27.5 C23.2,27.2 22.3,26.1 22.0,25.0 C21.7,23.9 21.5,22.3 22.0,21.0 C22.5,19.7 24.2,18.3 25.0,17.0 C25.8,15.7 26.3,14.0 27.0,13.0 C27.7,12.0 27.8,11.7 29.0,11.0Z" fill="#e8e070" stroke="#e8e070" stroke-width="1.0" stroke-linejoin="round"/>
<path d="M29.0,11.0 C30.2,10.3 32.3,9.4 34.0,9.0 C35.7,8.6 37.3,8.4 39.0,8.7 C40.7,9.0 42.6,9.9 44.0,11.0 C45.4,12.1 46.9,13.3 47.5,15.0 C48.1,16.7 47.9,19.2 47.6,21.0 C47.4,22.8 46.9,24.6 46.0,26.0 C45.1,27.4 43.7,28.8 42.0,29.5 C40.3,30.2 38.0,30.6 36.0,30.3 C34.0,30.1 31.5,28.6 30.0,28.0 C28.5,27.4 28.0,26.6 27.0,26.5 C26.0,26.4 24.8,27.8 24.0,27.5 C23.2,27.2 22.3,26.1 22.0,25.0 C21.7,23.9 21.5,22.3 22.0,21.0 C22.5,19.7 24.2,18.3 25.0,17.0 C25.8,15.7 26.3,14.0 27.0,13.0 C27.7,12.0 27.8,11.7 29.0,11.0Z" fill="#c01010"/>
<path d="M30.0,12.8 C30.9,12.3 32.6,11.5 34.0,11.2 C35.3,10.9 36.6,10.7 38.0,11.0 C39.3,11.2 40.8,12.0 42.0,12.8 C43.1,13.6 44.3,14.7 44.8,16.0 C45.3,17.3 45.1,19.3 44.9,20.8 C44.7,22.3 44.3,23.7 43.6,24.8 C42.8,25.9 41.7,27.0 40.4,27.6 C39.0,28.2 37.2,28.4 35.6,28.2 C34.0,28.0 32.0,26.9 30.8,26.4 C29.6,25.9 29.2,25.3 28.4,25.2 C27.6,25.1 26.6,26.2 26.0,26.0 C25.3,25.8 24.6,24.9 24.4,24.0 C24.1,23.1 24.0,21.9 24.4,20.8 C24.8,19.7 26.1,18.7 26.8,17.6 C27.4,16.5 27.8,15.2 28.4,14.4 C28.9,13.6 29.0,13.3 30.0,12.8Z" fill="#a80010" filter="url(#b05)"/>
</g>
<ellipse cx="13.3" cy="45.4" rx="2.6" ry="3.6" fill="#90f070" fill-opacity="1" filter="url(#b05)"/>
<ellipse cx="13.3" cy="45.4" rx="1.3" ry="1.8" fill="#e0f060" fill-opacity="1" filter="url(#b05)"/>
<ellipse cx="54" cy="75" rx="3.6" ry="3.4" fill="#2f7cff" fill-opacity="1" filter="url(#b05)"/>
</g></g>
<clipPath id="pc2"><rect x="0" y="0" width="74.50" height="97.00"/></clipPath>
<g transform="translate(164.3,21)"><g clip-path="url(#pc2)">
<rect width="74.50" height="97.00" fill="#000"/>
<g filter="url(#b05)">
<path d="M18.8,-2.0 C25.1,-4.7 49.9,-4.7 56.3,-2.0 C62.7,0.7 56.6,9.0 57.0,14.0 C57.4,19.0 57.8,24.0 58.5,28.0 C59.2,32.0 60.2,34.3 61.0,38.0 C61.8,41.7 63.0,46.2 63.5,50.0 C64.0,53.8 64.3,57.7 64.2,61.0 C64.1,64.3 63.9,67.3 63.0,70.0 C62.1,72.7 61.2,75.2 59.0,77.0 C56.8,78.8 53.2,79.8 50.0,80.5 C46.8,81.2 43.3,81.5 40.0,81.5 C36.7,81.5 33.2,81.2 30.0,80.5 C26.8,79.8 23.7,78.6 21.0,77.0 C18.3,75.4 15.7,73.3 14.0,71.0 C12.3,68.7 11.5,65.8 11.0,63.0 C10.5,60.2 10.6,57.2 10.8,54.0 C11.0,50.8 11.4,47.0 12.0,44.0 C12.6,41.0 13.6,38.7 14.4,36.0 C15.2,33.3 16.3,31.7 17.0,28.0 C17.7,24.3 18.2,19.0 18.5,14.0 C18.8,9.0 12.5,0.7 18.8,-2.0Z" fill="url(#mg)"/>
<path d="M29.0,75.5 C31.3,73.7 46.7,73.7 49.0,75.5 C51.3,77.3 45.3,84.7 43.0,86.5 C40.7,88.3 37.3,88.3 35.0,86.5 C32.7,84.7 26.7,77.3 29.0,75.5Z" fill="#7a7a78"/>
<path d="M21.6,78.7 C20.9,79.9 19.0,84.1 17.3,86.0 C15.6,87.9 12.7,88.9 11.5,90.3 C10.3,91.7 10.4,93.3 10.0,94.6 C9.6,95.9 9.2,97.4 9.0,98.0" fill="none" stroke="#828282" stroke-width="4.6" stroke-linecap="round" stroke-linejoin="round"/>
<path d="M53.4,80.0 C54.1,80.8 55.5,83.0 57.7,84.5 C59.9,86.0 64.5,87.7 66.4,88.8 C68.3,89.9 68.6,90.6 69.0,91.0" fill="none" stroke="#828282" stroke-width="4.6" stroke-linecap="round" stroke-linejoin="round"/>
<path d="M39.0,84.0 C39.0,86.5 39.0,96.5 39.0,99.0" fill="none" stroke="#828282" stroke-width="5" stroke-linecap="round"/>
</g>
<path d="M18.8,-2.0 C25.1,-4.7 49.9,-4.7 56.3,-2.0 C62.7,0.7 56.6,9.0 57.0,14.0 C57.4,19.0 57.8,24.0 58.5,28.0 C59.2,32.0 60.2,34.3 61.0,38.0 C61.8,41.7 63.0,46.2 63.5,50.0 C64.0,53.8 64.3,57.7 64.2,61.0 C64.1,64.3 63.9,67.3 63.0,70.0 C62.1,72.7 61.2,75.2 59.0,77.0 C56.8,78.8 53.2,79.8 50.0,80.5 C46.8,81.2 43.3,81.5 40.0,81.5 C36.7,81.5 33.2,81.2 30.0,80.5 C26.8,79.8 23.7,78.6 21.0,77.0 C18.3,75.4 15.7,73.3 14.0,71.0 C12.3,68.7 11.5,65.8 11.0,63.0 C10.5,60.2 10.6,57.2 10.8,54.0 C11.0,50.8 11.4,47.0 12.0,44.0 C12.6,41.0 13.6,38.7 14.4,36.0 C15.2,33.3 16.3,31.7 17.0,28.0 C17.7,24.3 18.2,19.0 18.5,14.0 C18.8,9.0 12.5,0.7 18.8,-2.0Z" fill="none" stroke="#000" stroke-opacity="0.22" stroke-width="3" filter="url(#b1)"/>
<ellipse cx="48.4" cy="8.6" rx="3.6" ry="2.8" fill="#1e3cf2" fill-opacity="1" filter="url(#b05)"/>
<defs>
<filter id="tg31" x="-5%" y="-5%" width="110%" height="110%" color-interpolation-filters="sRGB"><feTurbulence type="turbulence" baseFrequency="0.056" numOctaves="1" seed="31" result="n"/><feColorMatrix in="n" type="matrix" values="0 0 0 0 0.5 0 0 0 0 0.49 0 0 0 0 0.44 -9 0 0 0 0.85" result="c"/><feComposite in="c" in2="SourceAlpha" operator="in" result="m"/><feGaussianBlur in="m" stdDeviation="0.7"/></filter>
<filter id="tl31" x="-5%" y="-5%" width="110%" height="110%" color-interpolation-filters="sRGB"><feTurbulence type="fractalNoise" baseFrequency="0.12" numOctaves="2" seed="531" result="n"/><feColorMatrix in="n" type="matrix" values="0 0 0 0 0.15 0 0 0 0 0.42 0 0 0 0 1.0 4 0 0 0 -1.8" result="c"/><feComposite in="c" in2="SourceAlpha" operator="in" result="m"/><feGaussianBlur in="m" stdDeviation="0.8"/></filter>
<filter id="td31" x="-5%" y="-5%" width="110%" height="110%" color-interpolation-filters="sRGB"><feTurbulence type="fractalNoise" baseFrequency="0.1" numOctaves="2" seed="931" result="n"/><feColorMatrix in="n" type="matrix" values="0 0 0 0 0.08 0 0 0 0 0.03 0 0 0 0 0.62 4 0 0 0 -2.0" result="c"/><feComposite in="c" in2="SourceAlpha" operator="in" result="m"/><feGaussianBlur in="m" stdDeviation="0.8"/></filter>
<filter id="tc31" x="-5%" y="-5%" width="110%" height="110%" color-interpolation-filters="sRGB"><feTurbulence type="fractalNoise" baseFrequency="0.09" numOctaves="2" seed="731" result="n"/><feColorMatrix in="n" type="matrix" values="0 0 0 0 0.2 0 0 0 0 0.72 0 0 0 0 1.0 5 0 0 0 -3.45" result="c"/><feComposite in="c" in2="SourceAlpha" operator="in" result="m"/><feGaussianBlur in="m" stdDeviation="0.8"/></filter>
<filter id="bb31" x="-30%" y="-30%" width="160%" height="160%"><feGaussianBlur stdDeviation="1.2"/></filter>
</defs>
<g filter="url(#bb31)"><path d="M15.0,34.0 C16.7,31.8 18.8,31.8 22.0,32.0 C25.2,32.2 30.0,34.5 34.0,35.0 C38.0,35.5 43.0,35.8 46.0,35.0 C49.0,34.2 50.0,30.5 52.0,30.0 C54.0,29.5 56.5,30.3 58.0,32.0 C59.5,33.7 60.1,37.0 61.0,40.0 C61.9,43.0 63.1,46.5 63.5,50.0 C63.9,53.5 63.8,58.0 63.5,61.0 C63.2,64.0 63.1,65.7 62.0,68.0 C60.9,70.3 59.3,73.2 57.0,75.0 C54.7,76.8 51.2,78.2 48.0,79.0 C44.8,79.8 41.3,80.2 38.0,80.0 C34.7,79.8 31.0,79.0 28.0,78.0 C25.0,77.0 22.5,76.0 20.0,74.0 C17.5,72.0 14.5,69.0 13.0,66.0 C11.5,63.0 11.2,59.5 11.0,56.0 C10.8,52.5 11.3,48.7 12.0,45.0 C12.7,41.3 13.3,36.2 15.0,34.0Z" fill="#1c22e8" fill-opacity="1.0"/>
<path d="M15.0,34.0 C16.7,31.8 18.8,31.8 22.0,32.0 C25.2,32.2 30.0,34.5 34.0,35.0 C38.0,35.5 43.0,35.8 46.0,35.0 C49.0,34.2 50.0,30.5 52.0,30.0 C54.0,29.5 56.5,30.3 58.0,32.0 C59.5,33.7 60.1,37.0 61.0,40.0 C61.9,43.0 63.1,46.5 63.5,50.0 C63.9,53.5 63.8,58.0 63.5,61.0 C63.2,64.0 63.1,65.7 62.0,68.0 C60.9,70.3 59.3,73.2 57.0,75.0 C54.7,76.8 51.2,78.2 48.0,79.0 C44.8,79.8 41.3,80.2 38.0,80.0 C34.7,79.8 31.0,79.0 28.0,78.0 C25.0,77.0 22.5,76.0 20.0,74.0 C17.5,72.0 14.5,69.0 13.0,66.0 C11.5,63.0 11.2,59.5 11.0,56.0 C10.8,52.5 11.3,48.7 12.0,45.0 C12.7,41.3 13.3,36.2 15.0,34.0Z" fill="#000" filter="url(#td31)"/>
<path d="M15.0,34.0 C16.7,31.8 18.8,31.8 22.0,32.0 C25.2,32.2 30.0,34.5 34.0,35.0 C38.0,35.5 43.0,35.8 46.0,35.0 C49.0,34.2 50.0,30.5 52.0,30.0 C54.0,29.5 56.5,30.3 58.0,32.0 C59.5,33.7 60.1,37.0 61.0,40.0 C61.9,43.0 63.1,46.5 63.5,50.0 C63.9,53.5 63.8,58.0 63.5,61.0 C63.2,64.0 63.1,65.7 62.0,68.0 C60.9,70.3 59.3,73.2 57.0,75.0 C54.7,76.8 51.2,78.2 48.0,79.0 C44.8,79.8 41.3,80.2 38.0,80.0 C34.7,79.8 31.0,79.0 28.0,78.0 C25.0,77.0 22.5,76.0 20.0,74.0 C17.5,72.0 14.5,69.0 13.0,66.0 C11.5,63.0 11.2,59.5 11.0,56.0 C10.8,52.5 11.3,48.7 12.0,45.0 C12.7,41.3 13.3,36.2 15.0,34.0Z" fill="#000" filter="url(#tl31)"/>
<path d="M15.0,34.0 C16.7,31.8 18.8,31.8 22.0,32.0 C25.2,32.2 30.0,34.5 34.0,35.0 C38.0,35.5 43.0,35.8 46.0,35.0 C49.0,34.2 50.0,30.5 52.0,30.0 C54.0,29.5 56.5,30.3 58.0,32.0 C59.5,33.7 60.1,37.0 61.0,40.0 C61.9,43.0 63.1,46.5 63.5,50.0 C63.9,53.5 63.8,58.0 63.5,61.0 C63.2,64.0 63.1,65.7 62.0,68.0 C60.9,70.3 59.3,73.2 57.0,75.0 C54.7,76.8 51.2,78.2 48.0,79.0 C44.8,79.8 41.3,80.2 38.0,80.0 C34.7,79.8 31.0,79.0 28.0,78.0 C25.0,77.0 22.5,76.0 20.0,74.0 C17.5,72.0 14.5,69.0 13.0,66.0 C11.5,63.0 11.2,59.5 11.0,56.0 C10.8,52.5 11.3,48.7 12.0,45.0 C12.7,41.3 13.3,36.2 15.0,34.0Z" fill="#000" filter="url(#tc31)"/>
<path d="M15.0,34.0 C16.7,31.8 18.8,31.8 22.0,32.0 C25.2,32.2 30.0,34.5 34.0,35.0 C38.0,35.5 43.0,35.8 46.0,35.0 C49.0,34.2 50.0,30.5 52.0,30.0 C54.0,29.5 56.5,30.3 58.0,32.0 C59.5,33.7 60.1,37.0 61.0,40.0 C61.9,43.0 63.1,46.5 63.5,50.0 C63.9,53.5 63.8,58.0 63.5,61.0 C63.2,64.0 63.1,65.7 62.0,68.0 C60.9,70.3 59.3,73.2 57.0,75.0 C54.7,76.8 51.2,78.2 48.0,79.0 C44.8,79.8 41.3,80.2 38.0,80.0 C34.7,79.8 31.0,79.0 28.0,78.0 C25.0,77.0 22.5,76.0 20.0,74.0 C17.5,72.0 14.5,69.0 13.0,66.0 C11.5,63.0 11.2,59.5 11.0,56.0 C10.8,52.5 11.3,48.7 12.0,45.0 C12.7,41.3 13.3,36.2 15.0,34.0Z" fill="#000" filter="url(#tg31)"/></g>
<ellipse cx="20.2" cy="38.6" rx="3.9" ry="1.7" fill="#2c78ff" fill-opacity="0.8" filter="url(#b1)"/>
<ellipse cx="27.0" cy="36.4" rx="2.9" ry="2.4" fill="#2c78ff" fill-opacity="0.8" filter="url(#b1)"/>
<ellipse cx="33.5" cy="36.4" rx="3.4" ry="2.3" fill="#30a8ff" fill-opacity="0.8" filter="url(#b1)"/>
<ellipse cx="40.4" cy="38.5" rx="3.8" ry="2.3" fill="#2c78ff" fill-opacity="0.8" filter="url(#b1)"/>
<ellipse cx="48.8" cy="35.8" rx="3.6" ry="2.3" fill="#2c78ff" fill-opacity="0.8" filter="url(#b1)"/>
<ellipse cx="55.4" cy="37.9" rx="3.2" ry="2.2" fill="#2c78ff" fill-opacity="0.8" filter="url(#b1)"/>
<ellipse cx="20" cy="34" rx="3" ry="2" fill="#35d0ff" fill-opacity="0.7" filter="url(#b05)"/>
<ellipse cx="50" cy="36" rx="3" ry="2" fill="#35d0ff" fill-opacity="0.6" filter="url(#b05)"/>
<g filter="url(#b05)">
<path d="M34.0,11.5 C35.0,10.8 36.7,10.4 38.0,11.0 C39.3,11.6 40.8,13.3 42.0,15.0 C43.2,16.7 44.1,19.0 45.0,21.0 C45.9,23.0 47.3,25.2 47.6,27.0 C47.9,28.8 47.8,30.8 47.0,32.0 C46.2,33.2 44.8,34.1 43.0,34.5 C41.2,34.9 37.7,35.1 36.0,34.5 C34.3,33.9 34.2,31.8 33.0,31.0 C31.8,30.2 30.3,30.1 29.0,30.0 C27.7,29.9 26.2,30.8 25.0,30.5 C23.8,30.2 22.0,29.4 21.6,28.5 C21.2,27.6 21.6,26.1 22.5,25.0 C23.4,23.9 25.6,23.0 27.0,22.0 C28.4,21.0 30.2,20.2 31.0,19.0 C31.8,17.8 31.5,16.2 32.0,15.0 C32.5,13.8 33.0,12.2 34.0,11.5Z" fill="#1c30f0" stroke="#1c30f0" stroke-width="8.8" stroke-linejoin="round" opacity="0.85" filter="url(#b15)"/>
<path d="M34.0,11.5 C35.0,10.8 36.7,10.4 38.0,11.0 C39.3,11.6 40.8,13.3 42.0,15.0 C43.2,16.7 44.1,19.0 45.0,21.0 C45.9,23.0 47.3,25.2 47.6,27.0 C47.9,28.8 47.8,30.8 47.0,32.0 C46.2,33.2 44.8,34.1 43.0,34.5 C41.2,34.9 37.7,35.1 36.0,34.5 C34.3,33.9 34.2,31.8 33.0,31.0 C31.8,30.2 30.3,30.1 29.0,30.0 C27.7,29.9 26.2,30.8 25.0,30.5 C23.8,30.2 22.0,29.4 21.6,28.5 C21.2,27.6 21.6,26.1 22.5,25.0 C23.4,23.9 25.6,23.0 27.0,22.0 C28.4,21.0 30.2,20.2 31.0,19.0 C31.8,17.8 31.5,16.2 32.0,15.0 C32.5,13.8 33.0,12.2 34.0,11.5Z" fill="#2070ff" stroke="#2070ff" stroke-width="4.4" stroke-linejoin="round" opacity="0.9" filter="url(#b05)"/>
<path d="M34.0,11.5 C35.0,10.8 36.7,10.4 38.0,11.0 C39.3,11.6 40.8,13.3 42.0,15.0 C43.2,16.7 44.1,19.0 45.0,21.0 C45.9,23.0 47.3,25.2 47.6,27.0 C47.9,28.8 47.8,30.8 47.0,32.0 C46.2,33.2 44.8,34.1 43.0,34.5 C41.2,34.9 37.7,35.1 36.0,34.5 C34.3,33.9 34.2,31.8 33.0,31.0 C31.8,30.2 30.3,30.1 29.0,30.0 C27.7,29.9 26.2,30.8 25.0,30.5 C23.8,30.2 22.0,29.4 21.6,28.5 C21.2,27.6 21.6,26.1 22.5,25.0 C23.4,23.9 25.6,23.0 27.0,22.0 C28.4,21.0 30.2,20.2 31.0,19.0 C31.8,17.8 31.5,16.2 32.0,15.0 C32.5,13.8 33.0,12.2 34.0,11.5Z" fill="#40d8f0" stroke="#40d8f0" stroke-width="2.4" stroke-linejoin="round"/>
<path d="M34.0,11.5 C35.0,10.8 36.7,10.4 38.0,11.0 C39.3,11.6 40.8,13.3 42.0,15.0 C43.2,16.7 44.1,19.0 45.0,21.0 C45.9,23.0 47.3,25.2 47.6,27.0 C47.9,28.8 47.8,30.8 47.0,32.0 C46.2,33.2 44.8,34.1 43.0,34.5 C41.2,34.9 37.7,35.1 36.0,34.5 C34.3,33.9 34.2,31.8 33.0,31.0 C31.8,30.2 30.3,30.1 29.0,30.0 C27.7,29.9 26.2,30.8 25.0,30.5 C23.8,30.2 22.0,29.4 21.6,28.5 C21.2,27.6 21.6,26.1 22.5,25.0 C23.4,23.9 25.6,23.0 27.0,22.0 C28.4,21.0 30.2,20.2 31.0,19.0 C31.8,17.8 31.5,16.2 32.0,15.0 C32.5,13.8 33.0,12.2 34.0,11.5Z" fill="#e8e070" stroke="#e8e070" stroke-width="1.0" stroke-linejoin="round"/>
<path d="M34.0,11.5 C35.0,10.8 36.7,10.4 38.0,11.0 C39.3,11.6 40.8,13.3 42.0,15.0 C43.2,16.7 44.1,19.0 45.0,21.0 C45.9,23.0 47.3,25.2 47.6,27.0 C47.9,28.8 47.8,30.8 47.0,32.0 C46.2,33.2 44.8,34.1 43.0,34.5 C41.2,34.9 37.7,35.1 36.0,34.5 C34.3,33.9 34.2,31.8 33.0,31.0 C31.8,30.2 30.3,30.1 29.0,30.0 C27.7,29.9 26.2,30.8 25.0,30.5 C23.8,30.2 22.0,29.4 21.6,28.5 C21.2,27.6 21.6,26.1 22.5,25.0 C23.4,23.9 25.6,23.0 27.0,22.0 C28.4,21.0 30.2,20.2 31.0,19.0 C31.8,17.8 31.5,16.2 32.0,15.0 C32.5,13.8 33.0,12.2 34.0,11.5Z" fill="#c01010"/>
<path d="M34.1,14.0 C34.9,13.5 36.3,13.2 37.3,13.6 C38.4,14.1 39.6,15.5 40.5,16.8 C41.5,18.2 42.2,20.0 42.9,21.6 C43.7,23.2 44.7,25.0 45.0,26.4 C45.3,27.9 45.1,29.4 44.5,30.4 C43.9,31.4 42.8,32.1 41.3,32.4 C39.9,32.8 37.1,32.9 35.7,32.4 C34.4,32.0 34.3,30.2 33.3,29.6 C32.4,29.0 31.2,28.9 30.1,28.8 C29.1,28.8 27.9,29.4 26.9,29.2 C25.9,29.0 24.5,28.4 24.2,27.6 C23.9,26.9 24.2,25.7 24.9,24.8 C25.6,24.0 27.4,23.2 28.5,22.4 C29.7,21.6 31.1,21.0 31.7,20.0 C32.4,19.1 32.1,17.8 32.5,16.8 C32.9,15.8 33.3,14.6 34.1,14.0Z" fill="#a80010" filter="url(#b05)"/>
<defs><filter id="lo3" x="-5%" y="-5%" width="110%" height="110%" color-interpolation-filters="sRGB"><feTurbulence type="fractalNoise" baseFrequency="0.1" numOctaves="2" seed="24" result="n"/><feColorMatrix in="n" type="matrix" values="0 0 0 0 0.95 0 0 0 0 0.42 0 0 0 0 0.08 5 0 0 0 -3.14" result="c"/><feComposite in="c" in2="SourceAlpha" operator="in" result="m"/><feGaussianBlur in="m" stdDeviation="0.6"/></filter><filter id="ly3" x="-5%" y="-5%" width="110%" height="110%" color-interpolation-filters="sRGB"><feTurbulence type="fractalNoise" baseFrequency="0.11" numOctaves="2" seed="26" result="n"/><feColorMatrix in="n" type="matrix" values="0 0 0 0 0.95 0 0 0 0 0.88 0 0 0 0 0.35 5 0 0 0 -3.746" result="c"/><feComposite in="c" in2="SourceAlpha" operator="in" result="m"/><feGaussianBlur in="m" stdDeviation="0.6"/></filter></defs>
<path d="M34.0,11.5 C35.0,10.8 36.7,10.4 38.0,11.0 C39.3,11.6 40.8,13.3 42.0,15.0 C43.2,16.7 44.1,19.0 45.0,21.0 C45.9,23.0 47.3,25.2 47.6,27.0 C47.9,28.8 47.8,30.8 47.0,32.0 C46.2,33.2 44.8,34.1 43.0,34.5 C41.2,34.9 37.7,35.1 36.0,34.5 C34.3,33.9 34.2,31.8 33.0,31.0 C31.8,30.2 30.3,30.1 29.0,30.0 C27.7,29.9 26.2,30.8 25.0,30.5 C23.8,30.2 22.0,29.4 21.6,28.5 C21.2,27.6 21.6,26.1 22.5,25.0 C23.4,23.9 25.6,23.0 27.0,22.0 C28.4,21.0 30.2,20.2 31.0,19.0 C31.8,17.8 31.5,16.2 32.0,15.0 C32.5,13.8 33.0,12.2 34.0,11.5Z" fill="#000" filter="url(#lo3)"/>
<path d="M34.0,11.5 C35.0,10.8 36.7,10.4 38.0,11.0 C39.3,11.6 40.8,13.3 42.0,15.0 C43.2,16.7 44.1,19.0 45.0,21.0 C45.9,23.0 47.3,25.2 47.6,27.0 C47.9,28.8 47.8,30.8 47.0,32.0 C46.2,33.2 44.8,34.1 43.0,34.5 C41.2,34.9 37.7,35.1 36.0,34.5 C34.3,33.9 34.2,31.8 33.0,31.0 C31.8,30.2 30.3,30.1 29.0,30.0 C27.7,29.9 26.2,30.8 25.0,30.5 C23.8,30.2 22.0,29.4 21.6,28.5 C21.2,27.6 21.6,26.1 22.5,25.0 C23.4,23.9 25.6,23.0 27.0,22.0 C28.4,21.0 30.2,20.2 31.0,19.0 C31.8,17.8 31.5,16.2 32.0,15.0 C32.5,13.8 33.0,12.2 34.0,11.5Z" fill="#000" filter="url(#ly3)"/>
</g>
<ellipse cx="36.8" cy="25.3" rx="2.2" ry="2" fill="#f0e050" fill-opacity="1" filter="url(#b05)"/>
<g filter="url(#b05)">
<path d="M11.8,47.0 C12.7,45.8 16.5,45.4 17.5,46.5 C18.5,47.6 18.9,52.2 18.0,53.5 C17.1,54.8 13.0,55.1 12.0,54.0 C11.0,52.9 10.9,48.2 11.8,47.0Z" fill="#1c30f0" stroke="#1c30f0" stroke-width="5.5" stroke-linejoin="round" opacity="0.85" filter="url(#b15)"/>
<path d="M11.8,47.0 C12.7,45.8 16.5,45.4 17.5,46.5 C18.5,47.6 18.9,52.2 18.0,53.5 C17.1,54.8 13.0,55.1 12.0,54.0 C11.0,52.9 10.9,48.2 11.8,47.0Z" fill="#2070ff" stroke="#2070ff" stroke-width="2.8" stroke-linejoin="round" opacity="0.9" filter="url(#b05)"/>
<path d="M11.8,47.0 C12.7,45.8 16.5,45.4 17.5,46.5 C18.5,47.6 18.9,52.2 18.0,53.5 C17.1,54.8 13.0,55.1 12.0,54.0 C11.0,52.9 10.9,48.2 11.8,47.0Z" fill="#40d8f0" stroke="#40d8f0" stroke-width="1.5" stroke-linejoin="round"/>
<path d="M11.8,47.0 C12.7,45.8 16.5,45.4 17.5,46.5 C18.5,47.6 18.9,52.2 18.0,53.5 C17.1,54.8 13.0,55.1 12.0,54.0 C11.0,52.9 10.9,48.2 11.8,47.0Z" fill="#e8e070" stroke="#e8e070" stroke-width="0.6" stroke-linejoin="round"/>
<path d="M11.8,47.0 C12.7,45.8 16.5,45.4 17.5,46.5 C18.5,47.6 18.9,52.2 18.0,53.5 C17.1,54.8 13.0,55.1 12.0,54.0 C11.0,52.9 10.9,48.2 11.8,47.0Z" fill="#c01010"/>
<path d="M12.4,47.6 C13.1,46.6 16.1,46.4 17.0,47.2 C17.8,48.1 18.1,51.9 17.4,52.9 C16.6,53.9 13.4,54.1 12.6,53.2 C11.7,52.4 11.7,48.6 12.4,47.6Z" fill="#a80010" filter="url(#b05)"/>
<defs><filter id="lo4" x="-5%" y="-5%" width="110%" height="110%" color-interpolation-filters="sRGB"><feTurbulence type="fractalNoise" baseFrequency="0.1" numOctaves="2" seed="31" result="n"/><feColorMatrix in="n" type="matrix" values="0 0 0 0 0.95 0 0 0 0 0.42 0 0 0 0 0.08 5 0 0 0 -2.8000000000000003" result="c"/><feComposite in="c" in2="SourceAlpha" operator="in" result="m"/><feGaussianBlur in="m" stdDeviation="0.6"/></filter><filter id="ly4" x="-5%" y="-5%" width="110%" height="110%" color-interpolation-filters="sRGB"><feTurbulence type="fractalNoise" baseFrequency="0.11" numOctaves="2" seed="33" result="n"/><feColorMatrix in="n" type="matrix" values="0 0 0 0 0.95 0 0 0 0 0.88 0 0 0 0 0.35 5 0 0 0 -3.44" result="c"/><feComposite in="c" in2="SourceAlpha" operator="in" result="m"/><feGaussianBlur in="m" stdDeviation="0.6"/></filter></defs>
<path d="M11.8,47.0 C12.7,45.8 16.5,45.4 17.5,46.5 C18.5,47.6 18.9,52.2 18.0,53.5 C17.1,54.8 13.0,55.1 12.0,54.0 C11.0,52.9 10.9,48.2 11.8,47.0Z" fill="#000" filter="url(#lo4)"/>
<path d="M11.8,47.0 C12.7,45.8 16.5,45.4 17.5,46.5 C18.5,47.6 18.9,52.2 18.0,53.5 C17.1,54.8 13.0,55.1 12.0,54.0 C11.0,52.9 10.9,48.2 11.8,47.0Z" fill="#000" filter="url(#ly4)"/>
</g>
</g></g>
<clipPath id="pc3"><rect x="0" y="0" width="76.00" height="97.00"/></clipPath>
<g transform="translate(243,21)"><g clip-path="url(#pc3)">
<rect width="76.00" height="97.00" fill="#000"/>
<g filter="url(#b05)">
<path d="M24.0,-2.0 C29.6,-4.7 51.3,-4.7 57.0,-2.0 C62.7,0.7 57.5,9.0 58.0,14.0 C58.5,19.0 59.2,24.0 60.0,28.0 C60.8,32.0 61.8,34.7 63.0,38.0 C64.2,41.3 66.0,45.0 67.0,48.0 C68.0,51.0 68.5,53.2 68.7,56.0 C68.9,58.8 68.3,62.8 68.0,65.0 C67.7,67.2 68.1,67.4 67.0,69.0 C65.9,70.6 63.9,73.3 61.4,74.8 C58.9,76.3 55.2,77.3 52.0,78.0 C48.8,78.7 45.3,79.0 42.0,79.0 C38.7,79.0 35.0,78.7 32.0,78.0 C29.0,77.3 26.2,76.2 24.0,75.0 C21.8,73.8 20.3,72.8 19.0,71.0 C17.7,69.2 16.7,67.2 16.0,64.5 C15.3,61.8 14.8,58.1 14.6,55.0 C14.4,51.9 14.5,49.2 15.0,46.0 C15.5,42.8 16.5,39.0 17.5,36.0 C18.5,33.0 20.0,31.7 21.0,28.0 C22.0,24.3 23.0,19.0 23.5,14.0 C24.0,9.0 18.4,0.7 24.0,-2.0Z" fill="url(#mg)"/>
<path d="M31.7,73.0 C34.0,71.2 49.4,71.2 51.7,73.0 C54.0,74.8 48.0,82.2 45.7,84.0 C43.4,85.8 40.0,85.8 37.7,84.0 C35.4,82.2 29.4,74.8 31.7,73.0Z" fill="#7a7a78"/>
<path d="M20.5,69.0 C21.2,70.2 24.4,74.0 24.9,76.2 C25.4,78.4 25.3,80.3 23.4,82.0 C21.4,83.7 15.4,85.3 13.2,86.5 C11.0,87.7 10.5,88.6 10.0,89.0" fill="none" stroke="#828282" stroke-width="4.6" stroke-linecap="round" stroke-linejoin="round"/>
<path d="M57.0,76.2 C57.2,77.2 57.3,80.3 58.5,82.0 C59.7,83.7 62.6,85.3 64.3,86.5 C66.0,87.7 67.6,88.5 68.7,89.4 C69.8,90.3 70.6,91.6 71.0,92.0" fill="none" stroke="#828282" stroke-width="4.6" stroke-linecap="round" stroke-linejoin="round"/>
<path d="M41.7,80.6 C41.7,83.7 41.7,95.9 41.7,99.0" fill="none" stroke="#828282" stroke-width="5" stroke-linecap="round"/>
</g>
<path d="M24.0,-2.0 C29.6,-4.7 51.3,-4.7 57.0,-2.0 C62.7,0.7 57.5,9.0 58.0,14.0 C58.5,19.0 59.2,24.0 60.0,28.0 C60.8,32.0 61.8,34.7 63.0,38.0 C64.2,41.3 66.0,45.0 67.0,48.0 C68.0,51.0 68.5,53.2 68.7,56.0 C68.9,58.8 68.3,62.8 68.0,65.0 C67.7,67.2 68.1,67.4 67.0,69.0 C65.9,70.6 63.9,73.3 61.4,74.8 C58.9,76.3 55.2,77.3 52.0,78.0 C48.8,78.7 45.3,79.0 42.0,79.0 C38.7,79.0 35.0,78.7 32.0,78.0 C29.0,77.3 26.2,76.2 24.0,75.0 C21.8,73.8 20.3,72.8 19.0,71.0 C17.7,69.2 16.7,67.2 16.0,64.5 C15.3,61.8 14.8,58.1 14.6,55.0 C14.4,51.9 14.5,49.2 15.0,46.0 C15.5,42.8 16.5,39.0 17.5,36.0 C18.5,33.0 20.0,31.7 21.0,28.0 C22.0,24.3 23.0,19.0 23.5,14.0 C24.0,9.0 18.4,0.7 24.0,-2.0Z" fill="none" stroke="#000" stroke-opacity="0.22" stroke-width="3" filter="url(#b1)"/>
<defs>
<filter id="tg41" x="-5%" y="-5%" width="110%" height="110%" color-interpolation-filters="sRGB"><feTurbulence type="turbulence" baseFrequency="0.056" numOctaves="1" seed="41" result="n"/><feColorMatrix in="n" type="matrix" values="0 0 0 0 0.5 0 0 0 0 0.49 0 0 0 0 0.44 -9 0 0 0 0.85" result="c"/><feComposite in="c" in2="SourceAlpha" operator="in" result="m"/><feGaussianBlur in="m" stdDeviation="0.7"/></filter>
<filter id="tl41" x="-5%" y="-5%" width="110%" height="110%" color-interpolation-filters="sRGB"><feTurbulence type="fractalNoise" baseFrequency="0.12" numOctaves="2" seed="541" result="n"/><feColorMatrix in="n" type="matrix" values="0 0 0 0 0.15 0 0 0 0 0.42 0 0 0 0 1.0 4 0 0 0 -1.8" result="c"/><feComposite in="c" in2="SourceAlpha" operator="in" result="m"/><feGaussianBlur in="m" stdDeviation="0.8"/></filter>
<filter id="td41" x="-5%" y="-5%" width="110%" height="110%" color-interpolation-filters="sRGB"><feTurbulence type="fractalNoise" baseFrequency="0.1" numOctaves="2" seed="941" result="n"/><feColorMatrix in="n" type="matrix" values="0 0 0 0 0.08 0 0 0 0 0.03 0 0 0 0 0.62 4 0 0 0 -2.0" result="c"/><feComposite in="c" in2="SourceAlpha" operator="in" result="m"/><feGaussianBlur in="m" stdDeviation="0.8"/></filter>
<filter id="tc41" x="-5%" y="-5%" width="110%" height="110%" color-interpolation-filters="sRGB"><feTurbulence type="fractalNoise" baseFrequency="0.09" numOctaves="2" seed="741" result="n"/><feColorMatrix in="n" type="matrix" values="0 0 0 0 0.2 0 0 0 0 0.72 0 0 0 0 1.0 5 0 0 0 -3.45" result="c"/><feComposite in="c" in2="SourceAlpha" operator="in" result="m"/><feGaussianBlur in="m" stdDeviation="0.8"/></filter>
<filter id="bb41" x="-30%" y="-30%" width="160%" height="160%"><feGaussianBlur stdDeviation="1.2"/></filter>
</defs>
<g filter="url(#bb41)"><path d="M20.0,30.0 C22.0,28.3 25.3,28.0 28.0,28.0 C30.7,28.0 32.7,29.8 36.0,30.0 C39.3,30.2 44.7,29.7 48.0,29.0 C51.3,28.3 53.7,25.5 56.0,26.0 C58.3,26.5 60.3,29.0 62.0,32.0 C63.7,35.0 65.0,40.0 66.0,44.0 C67.0,48.0 67.8,52.3 68.0,56.0 C68.2,59.7 68.0,63.2 67.0,66.0 C66.0,68.8 64.5,71.2 62.0,73.0 C59.5,74.8 55.3,76.2 52.0,77.0 C48.7,77.8 45.3,78.0 42.0,78.0 C38.7,78.0 35.0,77.7 32.0,77.0 C29.0,76.3 26.3,75.5 24.0,74.0 C21.7,72.5 19.5,70.7 18.0,68.0 C16.5,65.3 15.6,61.3 15.0,58.0 C14.4,54.7 14.4,51.3 14.6,48.0 C14.8,44.7 15.1,41.0 16.0,38.0 C16.9,35.0 18.0,31.7 20.0,30.0Z" fill="#1c22e8" fill-opacity="1.0"/>
<path d="M20.0,30.0 C22.0,28.3 25.3,28.0 28.0,28.0 C30.7,28.0 32.7,29.8 36.0,30.0 C39.3,30.2 44.7,29.7 48.0,29.0 C51.3,28.3 53.7,25.5 56.0,26.0 C58.3,26.5 60.3,29.0 62.0,32.0 C63.7,35.0 65.0,40.0 66.0,44.0 C67.0,48.0 67.8,52.3 68.0,56.0 C68.2,59.7 68.0,63.2 67.0,66.0 C66.0,68.8 64.5,71.2 62.0,73.0 C59.5,74.8 55.3,76.2 52.0,77.0 C48.7,77.8 45.3,78.0 42.0,78.0 C38.7,78.0 35.0,77.7 32.0,77.0 C29.0,76.3 26.3,75.5 24.0,74.0 C21.7,72.5 19.5,70.7 18.0,68.0 C16.5,65.3 15.6,61.3 15.0,58.0 C14.4,54.7 14.4,51.3 14.6,48.0 C14.8,44.7 15.1,41.0 16.0,38.0 C16.9,35.0 18.0,31.7 20.0,30.0Z" fill="#000" filter="url(#td41)"/>
<path d="M20.0,30.0 C22.0,28.3 25.3,28.0 28.0,28.0 C30.7,28.0 32.7,29.8 36.0,30.0 C39.3,30.2 44.7,29.7 48.0,29.0 C51.3,28.3 53.7,25.5 56.0,26.0 C58.3,26.5 60.3,29.0 62.0,32.0 C63.7,35.0 65.0,40.0 66.0,44.0 C67.0,48.0 67.8,52.3 68.0,56.0 C68.2,59.7 68.0,63.2 67.0,66.0 C66.0,68.8 64.5,71.2 62.0,73.0 C59.5,74.8 55.3,76.2 52.0,77.0 C48.7,77.8 45.3,78.0 42.0,78.0 C38.7,78.0 35.0,77.7 32.0,77.0 C29.0,76.3 26.3,75.5 24.0,74.0 C21.7,72.5 19.5,70.7 18.0,68.0 C16.5,65.3 15.6,61.3 15.0,58.0 C14.4,54.7 14.4,51.3 14.6,48.0 C14.8,44.7 15.1,41.0 16.0,38.0 C16.9,35.0 18.0,31.7 20.0,30.0Z" fill="#000" filter="url(#tl41)"/>
<path d="M20.0,30.0 C22.0,28.3 25.3,28.0 28.0,28.0 C30.7,28.0 32.7,29.8 36.0,30.0 C39.3,30.2 44.7,29.7 48.0,29.0 C51.3,28.3 53.7,25.5 56.0,26.0 C58.3,26.5 60.3,29.0 62.0,32.0 C63.7,35.0 65.0,40.0 66.0,44.0 C67.0,48.0 67.8,52.3 68.0,56.0 C68.2,59.7 68.0,63.2 67.0,66.0 C66.0,68.8 64.5,71.2 62.0,73.0 C59.5,74.8 55.3,76.2 52.0,77.0 C48.7,77.8 45.3,78.0 42.0,78.0 C38.7,78.0 35.0,77.7 32.0,77.0 C29.0,76.3 26.3,75.5 24.0,74.0 C21.7,72.5 19.5,70.7 18.0,68.0 C16.5,65.3 15.6,61.3 15.0,58.0 C14.4,54.7 14.4,51.3 14.6,48.0 C14.8,44.7 15.1,41.0 16.0,38.0 C16.9,35.0 18.0,31.7 20.0,30.0Z" fill="#000" filter="url(#tc41)"/>
<path d="M20.0,30.0 C22.0,28.3 25.3,28.0 28.0,28.0 C30.7,28.0 32.7,29.8 36.0,30.0 C39.3,30.2 44.7,29.7 48.0,29.0 C51.3,28.3 53.7,25.5 56.0,26.0 C58.3,26.5 60.3,29.0 62.0,32.0 C63.7,35.0 65.0,40.0 66.0,44.0 C67.0,48.0 67.8,52.3 68.0,56.0 C68.2,59.7 68.0,63.2 67.0,66.0 C66.0,68.8 64.5,71.2 62.0,73.0 C59.5,74.8 55.3,76.2 52.0,77.0 C48.7,77.8 45.3,78.0 42.0,78.0 C38.7,78.0 35.0,77.7 32.0,77.0 C29.0,76.3 26.3,75.5 24.0,74.0 C21.7,72.5 19.5,70.7 18.0,68.0 C16.5,65.3 15.6,61.3 15.0,58.0 C14.4,54.7 14.4,51.3 14.6,48.0 C14.8,44.7 15.1,41.0 16.0,38.0 C16.9,35.0 18.0,31.7 20.0,30.0Z" fill="#000" filter="url(#tg41)"/></g>
<ellipse cx="25.0" cy="31.5" rx="3.2" ry="2.0" fill="#2c78ff" fill-opacity="0.8" filter="url(#b1)"/>
<ellipse cx="31.7" cy="33.3" rx="3.9" ry="2.1" fill="#30a8ff" fill-opacity="0.8" filter="url(#b1)"/>
<ellipse cx="37.6" cy="33.1" rx="3.2" ry="2.4" fill="#2c78ff" fill-opacity="0.8" filter="url(#b1)"/>
<ellipse cx="43.3" cy="33.9" rx="2.7" ry="1.7" fill="#40d0f0" fill-opacity="0.8" filter="url(#b1)"/>
<ellipse cx="48.9" cy="34.0" rx="3.9" ry="2.2" fill="#40d0f0" fill-opacity="0.8" filter="url(#b1)"/>
<ellipse cx="56.2" cy="31.2" rx="3.7" ry="2.2" fill="#2c78ff" fill-opacity="0.8" filter="url(#b1)"/>
<ellipse cx="28" cy="42" rx="3" ry="7" fill="#35d0ff" fill-opacity="0.75" filter="url(#b05)"/>
<ellipse cx="29.3" cy="50" rx="3" ry="2.8" fill="#70f0b0" fill-opacity="1" filter="url(#b05)"/>
<ellipse cx="33" cy="36" rx="3" ry="2" fill="#35d0ff" fill-opacity="0.6" filter="url(#b05)"/>
<ellipse cx="52" cy="10" rx="3" ry="2.5" fill="#1e3cf2" fill-opacity="1" filter="url(#b05)"/>
<ellipse cx="56" cy="14" rx="2" ry="3" fill="#2f7cff" fill-opacity="1" filter="url(#b05)"/>
<g filter="url(#b05)">
<path d="M29.0,16.0 C29.5,14.5 30.7,12.9 32.0,12.0 C33.3,11.1 35.5,10.5 37.0,10.5 C38.5,10.5 39.7,12.2 41.0,12.0 C42.3,11.8 43.5,9.7 45.0,9.5 C46.5,9.3 48.7,9.9 50.0,11.0 C51.3,12.1 52.5,14.0 53.0,16.0 C53.5,18.0 53.5,21.0 53.0,23.0 C52.5,25.0 51.3,27.2 50.0,28.0 C48.7,28.8 46.5,28.7 45.0,28.0 C43.5,27.3 42.3,24.7 41.0,24.0 C39.7,23.3 38.5,24.0 37.0,24.0 C35.5,24.0 33.3,24.5 32.0,24.0 C30.7,23.5 29.5,22.3 29.0,21.0 C28.5,19.7 28.5,17.5 29.0,16.0Z" fill="#1c30f0" stroke="#1c30f0" stroke-width="8.8" stroke-linejoin="round" opacity="0.85" filter="url(#b15)"/>
<path d="M29.0,16.0 C29.5,14.5 30.7,12.9 32.0,12.0 C33.3,11.1 35.5,10.5 37.0,10.5 C38.5,10.5 39.7,12.2 41.0,12.0 C42.3,11.8 43.5,9.7 45.0,9.5 C46.5,9.3 48.7,9.9 50.0,11.0 C51.3,12.1 52.5,14.0 53.0,16.0 C53.5,18.0 53.5,21.0 53.0,23.0 C52.5,25.0 51.3,27.2 50.0,28.0 C48.7,28.8 46.5,28.7 45.0,28.0 C43.5,27.3 42.3,24.7 41.0,24.0 C39.7,23.3 38.5,24.0 37.0,24.0 C35.5,24.0 33.3,24.5 32.0,24.0 C30.7,23.5 29.5,22.3 29.0,21.0 C28.5,19.7 28.5,17.5 29.0,16.0Z" fill="#2070ff" stroke="#2070ff" stroke-width="4.4" stroke-linejoin="round" opacity="0.9" filter="url(#b05)"/>
<path d="M29.0,16.0 C29.5,14.5 30.7,12.9 32.0,12.0 C33.3,11.1 35.5,10.5 37.0,10.5 C38.5,10.5 39.7,12.2 41.0,12.0 C42.3,11.8 43.5,9.7 45.0,9.5 C46.5,9.3 48.7,9.9 50.0,11.0 C51.3,12.1 52.5,14.0 53.0,16.0 C53.5,18.0 53.5,21.0 53.0,23.0 C52.5,25.0 51.3,27.2 50.0,28.0 C48.7,28.8 46.5,28.7 45.0,28.0 C43.5,27.3 42.3,24.7 41.0,24.0 C39.7,23.3 38.5,24.0 37.0,24.0 C35.5,24.0 33.3,24.5 32.0,24.0 C30.7,23.5 29.5,22.3 29.0,21.0 C28.5,19.7 28.5,17.5 29.0,16.0Z" fill="#40d8f0" stroke="#40d8f0" stroke-width="2.4" stroke-linejoin="round"/>
<path d="M29.0,16.0 C29.5,14.5 30.7,12.9 32.0,12.0 C33.3,11.1 35.5,10.5 37.0,10.5 C38.5,10.5 39.7,12.2 41.0,12.0 C42.3,11.8 43.5,9.7 45.0,9.5 C46.5,9.3 48.7,9.9 50.0,11.0 C51.3,12.1 52.5,14.0 53.0,16.0 C53.5,18.0 53.5,21.0 53.0,23.0 C52.5,25.0 51.3,27.2 50.0,28.0 C48.7,28.8 46.5,28.7 45.0,28.0 C43.5,27.3 42.3,24.7 41.0,24.0 C39.7,23.3 38.5,24.0 37.0,24.0 C35.5,24.0 33.3,24.5 32.0,24.0 C30.7,23.5 29.5,22.3 29.0,21.0 C28.5,19.7 28.5,17.5 29.0,16.0Z" fill="#e8e070" stroke="#e8e070" stroke-width="1.0" stroke-linejoin="round"/>
<path d="M29.0,16.0 C29.5,14.5 30.7,12.9 32.0,12.0 C33.3,11.1 35.5,10.5 37.0,10.5 C38.5,10.5 39.7,12.2 41.0,12.0 C42.3,11.8 43.5,9.7 45.0,9.5 C46.5,9.3 48.7,9.9 50.0,11.0 C51.3,12.1 52.5,14.0 53.0,16.0 C53.5,18.0 53.5,21.0 53.0,23.0 C52.5,25.0 51.3,27.2 50.0,28.0 C48.7,28.8 46.5,28.7 45.0,28.0 C43.5,27.3 42.3,24.7 41.0,24.0 C39.7,23.3 38.5,24.0 37.0,24.0 C35.5,24.0 33.3,24.5 32.0,24.0 C30.7,23.5 29.5,22.3 29.0,21.0 C28.5,19.7 28.5,17.5 29.0,16.0Z" fill="#c01010"/>
<path d="M31.4,16.5 C31.8,15.3 32.7,14.0 33.8,13.3 C34.9,12.6 36.6,12.1 37.8,12.1 C39.0,12.1 39.9,13.4 41.0,13.3 C42.1,13.2 43.0,11.4 44.2,11.3 C45.4,11.2 47.1,11.6 48.2,12.5 C49.3,13.4 50.2,14.9 50.6,16.5 C51.0,18.1 51.0,20.5 50.6,22.1 C50.2,23.7 49.3,25.4 48.2,26.1 C47.1,26.8 45.4,26.6 44.2,26.1 C43.0,25.6 42.1,23.4 41.0,22.9 C39.9,22.4 39.0,22.9 37.8,22.9 C36.6,22.9 34.9,23.3 33.8,22.9 C32.7,22.5 31.8,21.6 31.4,20.5 C31.0,19.4 31.0,17.7 31.4,16.5Z" fill="#a80010" filter="url(#b05)"/>
<defs><filter id="lo5" x="-5%" y="-5%" width="110%" height="110%" color-interpolation-filters="sRGB"><feTurbulence type="fractalNoise" baseFrequency="0.1" numOctaves="2" seed="38" result="n"/><feColorMatrix in="n" type="matrix" values="0 0 0 0 0.95 0 0 0 0 0.42 0 0 0 0 0.08 5 0 0 0 -2.2" result="c"/><feComposite in="c" in2="SourceAlpha" operator="in" result="m"/><feGaussianBlur in="m" stdDeviation="0.6"/></filter><filter id="ly5" x="-5%" y="-5%" width="110%" height="110%" color-interpolation-filters="sRGB"><feTurbulence type="fractalNoise" baseFrequency="0.11" numOctaves="2" seed="40" result="n"/><feColorMatrix in="n" type="matrix" values="0 0 0 0 0.95 0 0 0 0 0.88 0 0 0 0 0.35 5 0 0 0 -2.9" result="c"/><feComposite in="c" in2="SourceAlpha" operator="in" result="m"/><feGaussianBlur in="m" stdDeviation="0.6"/></filter></defs>
<path d="M29.0,16.0 C29.5,14.5 30.7,12.9 32.0,12.0 C33.3,11.1 35.5,10.5 37.0,10.5 C38.5,10.5 39.7,12.2 41.0,12.0 C42.3,11.8 43.5,9.7 45.0,9.5 C46.5,9.3 48.7,9.9 50.0,11.0 C51.3,12.1 52.5,14.0 53.0,16.0 C53.5,18.0 53.5,21.0 53.0,23.0 C52.5,25.0 51.3,27.2 50.0,28.0 C48.7,28.8 46.5,28.7 45.0,28.0 C43.5,27.3 42.3,24.7 41.0,24.0 C39.7,23.3 38.5,24.0 37.0,24.0 C35.5,24.0 33.3,24.5 32.0,24.0 C30.7,23.5 29.5,22.3 29.0,21.0 C28.5,19.7 28.5,17.5 29.0,16.0Z" fill="#000" filter="url(#lo5)"/>
<path d="M29.0,16.0 C29.5,14.5 30.7,12.9 32.0,12.0 C33.3,11.1 35.5,10.5 37.0,10.5 C38.5,10.5 39.7,12.2 41.0,12.0 C42.3,11.8 43.5,9.7 45.0,9.5 C46.5,9.3 48.7,9.9 50.0,11.0 C51.3,12.1 52.5,14.0 53.0,16.0 C53.5,18.0 53.5,21.0 53.0,23.0 C52.5,25.0 51.3,27.2 50.0,28.0 C48.7,28.8 46.5,28.7 45.0,28.0 C43.5,27.3 42.3,24.7 41.0,24.0 C39.7,23.3 38.5,24.0 37.0,24.0 C35.5,24.0 33.3,24.5 32.0,24.0 C30.7,23.5 29.5,22.3 29.0,21.0 C28.5,19.7 28.5,17.5 29.0,16.0Z" fill="#000" filter="url(#ly5)"/>
</g>
<ellipse cx="41.5" cy="17.5" rx="1.6" ry="4" fill="#e0f080" fill-opacity="1" filter="url(#b05)"/>
<g filter="url(#b05)">
<path d="M16.0,41.5 C16.8,40.3 18.6,39.2 20.0,39.0 C21.4,38.8 23.6,39.5 24.5,40.5 C25.4,41.5 25.8,43.7 25.5,45.0 C25.2,46.3 24.2,47.9 23.0,48.5 C21.8,49.1 19.2,48.9 18.0,48.5 C16.8,48.1 15.8,47.2 15.5,46.0 C15.2,44.8 15.2,42.7 16.0,41.5Z" fill="#1c30f0" stroke="#1c30f0" stroke-width="6.6" stroke-linejoin="round" opacity="0.85" filter="url(#b15)"/>
<path d="M16.0,41.5 C16.8,40.3 18.6,39.2 20.0,39.0 C21.4,38.8 23.6,39.5 24.5,40.5 C25.4,41.5 25.8,43.7 25.5,45.0 C25.2,46.3 24.2,47.9 23.0,48.5 C21.8,49.1 19.2,48.9 18.0,48.5 C16.8,48.1 15.8,47.2 15.5,46.0 C15.2,44.8 15.2,42.7 16.0,41.5Z" fill="#2070ff" stroke="#2070ff" stroke-width="3.3" stroke-linejoin="round" opacity="0.9" filter="url(#b05)"/>
<path d="M16.0,41.5 C16.8,40.3 18.6,39.2 20.0,39.0 C21.4,38.8 23.6,39.5 24.5,40.5 C25.4,41.5 25.8,43.7 25.5,45.0 C25.2,46.3 24.2,47.9 23.0,48.5 C21.8,49.1 19.2,48.9 18.0,48.5 C16.8,48.1 15.8,47.2 15.5,46.0 C15.2,44.8 15.2,42.7 16.0,41.5Z" fill="#40d8f0" stroke="#40d8f0" stroke-width="1.8" stroke-linejoin="round"/>
<path d="M16.0,41.5 C16.8,40.3 18.6,39.2 20.0,39.0 C21.4,38.8 23.6,39.5 24.5,40.5 C25.4,41.5 25.8,43.7 25.5,45.0 C25.2,46.3 24.2,47.9 23.0,48.5 C21.8,49.1 19.2,48.9 18.0,48.5 C16.8,48.1 15.8,47.2 15.5,46.0 C15.2,44.8 15.2,42.7 16.0,41.5Z" fill="#e8e070" stroke="#e8e070" stroke-width="0.8" stroke-linejoin="round"/>
<path d="M16.0,41.5 C16.8,40.3 18.6,39.2 20.0,39.0 C21.4,38.8 23.6,39.5 24.5,40.5 C25.4,41.5 25.8,43.7 25.5,45.0 C25.2,46.3 24.2,47.9 23.0,48.5 C21.8,49.1 19.2,48.9 18.0,48.5 C16.8,48.1 15.8,47.2 15.5,46.0 C15.2,44.8 15.2,42.7 16.0,41.5Z" fill="#c01010"/>
<path d="M16.9,42.0 C17.5,41.1 18.9,40.2 20.1,40.0 C21.2,39.9 22.9,40.4 23.7,41.2 C24.4,42.0 24.7,43.8 24.5,44.8 C24.3,45.9 23.5,47.2 22.5,47.6 C21.5,48.1 19.5,48.0 18.5,47.6 C17.5,47.3 16.7,46.6 16.5,45.6 C16.2,44.7 16.3,43.0 16.9,42.0Z" fill="#a80010" filter="url(#b05)"/>
<defs><filter id="lo6" x="-5%" y="-5%" width="110%" height="110%" color-interpolation-filters="sRGB"><feTurbulence type="fractalNoise" baseFrequency="0.1" numOctaves="2" seed="45" result="n"/><feColorMatrix in="n" type="matrix" values="0 0 0 0 0.95 0 0 0 0 0.42 0 0 0 0 0.08 5 0 0 0 -2.8000000000000003" result="c"/><feComposite in="c" in2="SourceAlpha" operator="in" result="m"/><feGaussianBlur in="m" stdDeviation="0.6"/></filter><filter id="ly6" x="-5%" y="-5%" width="110%" height="110%" color-interpolation-filters="sRGB"><feTurbulence type="fractalNoise" baseFrequency="0.11" numOctaves="2" seed="47" result="n"/><feColorMatrix in="n" type="matrix" values="0 0 0 0 0.95 0 0 0 0 0.88 0 0 0 0 0.35 5 0 0 0 -3.44" result="c"/><feComposite in="c" in2="SourceAlpha" operator="in" result="m"/><feGaussianBlur in="m" stdDeviation="0.6"/></filter></defs>
<path d="M16.0,41.5 C16.8,40.3 18.6,39.2 20.0,39.0 C21.4,38.8 23.6,39.5 24.5,40.5 C25.4,41.5 25.8,43.7 25.5,45.0 C25.2,46.3 24.2,47.9 23.0,48.5 C21.8,49.1 19.2,48.9 18.0,48.5 C16.8,48.1 15.8,47.2 15.5,46.0 C15.2,44.8 15.2,42.7 16.0,41.5Z" fill="#000" filter="url(#lo6)"/>
<path d="M16.0,41.5 C16.8,40.3 18.6,39.2 20.0,39.0 C21.4,38.8 23.6,39.5 24.5,40.5 C25.4,41.5 25.8,43.7 25.5,45.0 C25.2,46.3 24.2,47.9 23.0,48.5 C21.8,49.1 19.2,48.9 18.0,48.5 C16.8,48.1 15.8,47.2 15.5,46.0 C15.2,44.8 15.2,42.7 16.0,41.5Z" fill="#000" filter="url(#ly6)"/>
</g>
<text x="12.4" y="17.4" font-size="11.5" font-weight="bold" fill="#f2f23a">L</text>
<line x1="21" y1="15" x2="27.4" y2="17.5" stroke="#f2f23a" stroke-width="1.4"/><polygon points="30.6,18.7 26.7,19.4 28.2,15.5" fill="#f2f23a"/>
<text x="1.4" y="35.6" font-size="11.5" font-weight="bold" fill="#f2f23a">T</text>
<line x1="9.1" y1="34.7" x2="13.1" y2="38.7" stroke="#f2f23a" stroke-width="1.4"/><polygon points="15.5,41.1 11.6,40.2 14.6,37.2" fill="#f2f23a"/>
</g></g>
<clipPath id="pc4"><rect x="0" y="0" width="74.60" height="97.00"/></clipPath>
<g transform="translate(323.4,21)"><g clip-path="url(#pc4)">
<rect width="74.60" height="97.00" fill="#000"/>
<g filter="url(#b05)">
<path d="M20.0,-2.0 C26.1,-4.3 49.9,-4.7 56.0,-2.0 C62.1,0.7 56.2,9.0 56.5,14.0 C56.8,19.0 56.9,23.7 57.5,28.0 C58.1,32.3 59.1,36.3 60.0,40.0 C60.9,43.7 62.4,46.7 63.0,50.0 C63.6,53.3 63.5,57.0 63.5,60.0 C63.5,63.0 63.2,65.8 63.0,68.0 C62.8,70.2 63.2,71.2 62.0,73.0 C60.8,74.8 58.7,77.1 56.0,78.5 C53.3,79.9 49.3,80.9 46.0,81.5 C42.7,82.1 39.3,82.2 36.0,82.0 C32.7,81.8 28.8,81.0 26.0,80.0 C23.2,79.0 20.8,77.7 19.0,76.0 C17.2,74.3 16.5,72.4 15.5,70.0 C14.5,67.6 13.5,64.4 13.0,61.4 C12.5,58.4 12.4,55.2 12.5,52.0 C12.6,48.8 13.0,45.0 13.5,42.0 C14.0,39.0 14.7,37.0 15.5,34.0 C16.3,31.0 17.8,27.7 18.5,24.0 C19.2,20.3 19.2,16.3 19.5,12.0 C19.8,7.7 13.9,0.3 20.0,-2.0Z" fill="url(#mg)"/>
<path d="M29.3,76.0 C31.6,74.2 47.0,74.2 49.3,76.0 C51.6,77.8 45.6,85.2 43.3,87.0 C41.0,88.8 37.6,88.8 35.3,87.0 C33.0,85.2 27.0,77.8 29.3,76.0Z" fill="#7a7a78"/>
<path d="M23.0,78.7 C22.5,79.7 21.9,82.8 20.2,84.5 C18.5,86.2 14.7,87.3 13.0,88.8 C11.3,90.2 10.8,92.0 10.0,93.2 C9.2,94.4 8.3,95.5 8.0,96.0" fill="none" stroke="#828282" stroke-width="4.6" stroke-linecap="round" stroke-linejoin="round"/>
<path d="M54.8,80.2 C55.0,81.2 54.8,84.3 56.3,86.0 C57.8,87.7 61.8,89.1 63.5,90.3 C65.2,91.5 65.7,92.2 66.4,93.2 C67.2,94.2 67.7,95.5 68.0,96.0" fill="none" stroke="#828282" stroke-width="4.6" stroke-linecap="round" stroke-linejoin="round"/>
<path d="M39.3,84.0 C39.3,86.5 39.3,96.5 39.3,99.0" fill="none" stroke="#828282" stroke-width="5" stroke-linecap="round"/>
</g>
<path d="M20.0,-2.0 C26.1,-4.3 49.9,-4.7 56.0,-2.0 C62.1,0.7 56.2,9.0 56.5,14.0 C56.8,19.0 56.9,23.7 57.5,28.0 C58.1,32.3 59.1,36.3 60.0,40.0 C60.9,43.7 62.4,46.7 63.0,50.0 C63.6,53.3 63.5,57.0 63.5,60.0 C63.5,63.0 63.2,65.8 63.0,68.0 C62.8,70.2 63.2,71.2 62.0,73.0 C60.8,74.8 58.7,77.1 56.0,78.5 C53.3,79.9 49.3,80.9 46.0,81.5 C42.7,82.1 39.3,82.2 36.0,82.0 C32.7,81.8 28.8,81.0 26.0,80.0 C23.2,79.0 20.8,77.7 19.0,76.0 C17.2,74.3 16.5,72.4 15.5,70.0 C14.5,67.6 13.5,64.4 13.0,61.4 C12.5,58.4 12.4,55.2 12.5,52.0 C12.6,48.8 13.0,45.0 13.5,42.0 C14.0,39.0 14.7,37.0 15.5,34.0 C16.3,31.0 17.8,27.7 18.5,24.0 C19.2,20.3 19.2,16.3 19.5,12.0 C19.8,7.7 13.9,0.3 20.0,-2.0Z" fill="none" stroke="#000" stroke-opacity="0.22" stroke-width="3" filter="url(#b1)"/>
<ellipse cx="26.6" cy="5.8" rx="5" ry="2.2" fill="#1e3cf2" fill-opacity="1" filter="url(#b05)"/>
<defs>
<filter id="tg51" x="-5%" y="-5%" width="110%" height="110%" color-interpolation-filters="sRGB"><feTurbulence type="turbulence" baseFrequency="0.056" numOctaves="1" seed="51" result="n"/><feColorMatrix in="n" type="matrix" values="0 0 0 0 0.5 0 0 0 0 0.49 0 0 0 0 0.44 -9 0 0 0 0.85" result="c"/><feComposite in="c" in2="SourceAlpha" operator="in" result="m"/><feGaussianBlur in="m" stdDeviation="0.7"/></filter>
<filter id="tl51" x="-5%" y="-5%" width="110%" height="110%" color-interpolation-filters="sRGB"><feTurbulence type="fractalNoise" baseFrequency="0.12" numOctaves="2" seed="551" result="n"/><feColorMatrix in="n" type="matrix" values="0 0 0 0 0.15 0 0 0 0 0.42 0 0 0 0 1.0 4 0 0 0 -1.8" result="c"/><feComposite in="c" in2="SourceAlpha" operator="in" result="m"/><feGaussianBlur in="m" stdDeviation="0.8"/></filter>
<filter id="td51" x="-5%" y="-5%" width="110%" height="110%" color-interpolation-filters="sRGB"><feTurbulence type="fractalNoise" baseFrequency="0.1" numOctaves="2" seed="951" result="n"/><feColorMatrix in="n" type="matrix" values="0 0 0 0 0.08 0 0 0 0 0.03 0 0 0 0 0.62 4 0 0 0 -2.0" result="c"/><feComposite in="c" in2="SourceAlpha" operator="in" result="m"/><feGaussianBlur in="m" stdDeviation="0.8"/></filter>
<filter id="tc51" x="-5%" y="-5%" width="110%" height="110%" color-interpolation-filters="sRGB"><feTurbulence type="fractalNoise" baseFrequency="0.09" numOctaves="2" seed="751" result="n"/><feColorMatrix in="n" type="matrix" values="0 0 0 0 0.2 0 0 0 0 0.72 0 0 0 0 1.0 5 0 0 0 -3.45" result="c"/><feComposite in="c" in2="SourceAlpha" operator="in" result="m"/><feGaussianBlur in="m" stdDeviation="0.8"/></filter>
<filter id="bb51" x="-30%" y="-30%" width="160%" height="160%"><feGaussianBlur stdDeviation="1.2"/></filter>
</defs>
<g filter="url(#bb51)"><path d="M15.0,38.0 C16.5,35.5 19.5,33.7 22.0,33.0 C24.5,32.3 26.2,33.7 30.0,34.0 C33.8,34.3 41.0,35.3 45.0,35.0 C49.0,34.7 51.8,31.8 54.0,32.0 C56.2,32.2 56.8,33.7 58.0,36.0 C59.2,38.3 60.3,42.7 61.0,46.0 C61.7,49.3 62.8,52.7 62.0,56.0 C61.2,59.3 58.0,62.7 56.0,66.0 C54.0,69.3 52.3,73.5 50.0,76.0 C47.7,78.5 44.7,80.2 42.0,81.0 C39.3,81.8 37.0,81.8 34.0,81.0 C31.0,80.2 26.8,78.2 24.0,76.0 C21.2,73.8 18.8,71.0 17.0,68.0 C15.2,65.0 14.2,61.3 13.5,58.0 C12.8,54.7 12.8,51.3 13.0,48.0 C13.2,44.7 13.5,40.5 15.0,38.0Z" fill="#1c22e8" fill-opacity="1.0"/>
<path d="M15.0,38.0 C16.5,35.5 19.5,33.7 22.0,33.0 C24.5,32.3 26.2,33.7 30.0,34.0 C33.8,34.3 41.0,35.3 45.0,35.0 C49.0,34.7 51.8,31.8 54.0,32.0 C56.2,32.2 56.8,33.7 58.0,36.0 C59.2,38.3 60.3,42.7 61.0,46.0 C61.7,49.3 62.8,52.7 62.0,56.0 C61.2,59.3 58.0,62.7 56.0,66.0 C54.0,69.3 52.3,73.5 50.0,76.0 C47.7,78.5 44.7,80.2 42.0,81.0 C39.3,81.8 37.0,81.8 34.0,81.0 C31.0,80.2 26.8,78.2 24.0,76.0 C21.2,73.8 18.8,71.0 17.0,68.0 C15.2,65.0 14.2,61.3 13.5,58.0 C12.8,54.7 12.8,51.3 13.0,48.0 C13.2,44.7 13.5,40.5 15.0,38.0Z" fill="#000" filter="url(#td51)"/>
<path d="M15.0,38.0 C16.5,35.5 19.5,33.7 22.0,33.0 C24.5,32.3 26.2,33.7 30.0,34.0 C33.8,34.3 41.0,35.3 45.0,35.0 C49.0,34.7 51.8,31.8 54.0,32.0 C56.2,32.2 56.8,33.7 58.0,36.0 C59.2,38.3 60.3,42.7 61.0,46.0 C61.7,49.3 62.8,52.7 62.0,56.0 C61.2,59.3 58.0,62.7 56.0,66.0 C54.0,69.3 52.3,73.5 50.0,76.0 C47.7,78.5 44.7,80.2 42.0,81.0 C39.3,81.8 37.0,81.8 34.0,81.0 C31.0,80.2 26.8,78.2 24.0,76.0 C21.2,73.8 18.8,71.0 17.0,68.0 C15.2,65.0 14.2,61.3 13.5,58.0 C12.8,54.7 12.8,51.3 13.0,48.0 C13.2,44.7 13.5,40.5 15.0,38.0Z" fill="#000" filter="url(#tl51)"/>
<path d="M15.0,38.0 C16.5,35.5 19.5,33.7 22.0,33.0 C24.5,32.3 26.2,33.7 30.0,34.0 C33.8,34.3 41.0,35.3 45.0,35.0 C49.0,34.7 51.8,31.8 54.0,32.0 C56.2,32.2 56.8,33.7 58.0,36.0 C59.2,38.3 60.3,42.7 61.0,46.0 C61.7,49.3 62.8,52.7 62.0,56.0 C61.2,59.3 58.0,62.7 56.0,66.0 C54.0,69.3 52.3,73.5 50.0,76.0 C47.7,78.5 44.7,80.2 42.0,81.0 C39.3,81.8 37.0,81.8 34.0,81.0 C31.0,80.2 26.8,78.2 24.0,76.0 C21.2,73.8 18.8,71.0 17.0,68.0 C15.2,65.0 14.2,61.3 13.5,58.0 C12.8,54.7 12.8,51.3 13.0,48.0 C13.2,44.7 13.5,40.5 15.0,38.0Z" fill="#000" filter="url(#tc51)"/>
<path d="M15.0,38.0 C16.5,35.5 19.5,33.7 22.0,33.0 C24.5,32.3 26.2,33.7 30.0,34.0 C33.8,34.3 41.0,35.3 45.0,35.0 C49.0,34.7 51.8,31.8 54.0,32.0 C56.2,32.2 56.8,33.7 58.0,36.0 C59.2,38.3 60.3,42.7 61.0,46.0 C61.7,49.3 62.8,52.7 62.0,56.0 C61.2,59.3 58.0,62.7 56.0,66.0 C54.0,69.3 52.3,73.5 50.0,76.0 C47.7,78.5 44.7,80.2 42.0,81.0 C39.3,81.8 37.0,81.8 34.0,81.0 C31.0,80.2 26.8,78.2 24.0,76.0 C21.2,73.8 18.8,71.0 17.0,68.0 C15.2,65.0 14.2,61.3 13.5,58.0 C12.8,54.7 12.8,51.3 13.0,48.0 C13.2,44.7 13.5,40.5 15.0,38.0Z" fill="#000" filter="url(#tg51)"/></g>
<ellipse cx="22.2" cy="36.5" rx="3.1" ry="1.9" fill="#30a8ff" fill-opacity="0.8" filter="url(#b1)"/>
<ellipse cx="27.7" cy="36.2" rx="2.7" ry="1.5" fill="#2c78ff" fill-opacity="0.8" filter="url(#b1)"/>
<ellipse cx="35.2" cy="34.9" rx="2.7" ry="1.9" fill="#30a8ff" fill-opacity="0.8" filter="url(#b1)"/>
<ellipse cx="38.7" cy="34.4" rx="3.4" ry="1.6" fill="#30a8ff" fill-opacity="0.8" filter="url(#b1)"/>
<ellipse cx="46.9" cy="33.0" rx="3.4" ry="1.7" fill="#40d0f0" fill-opacity="0.8" filter="url(#b1)"/>
<ellipse cx="52.3" cy="37.1" rx="3.8" ry="2.2" fill="#40d0f0" fill-opacity="0.8" filter="url(#b1)"/>
<ellipse cx="37.5" cy="60.7" rx="3" ry="2.4" fill="#35d0ff" fill-opacity="1" filter="url(#b05)"/>
<ellipse cx="30" cy="33" rx="4" ry="2.2" fill="#35d0ff" fill-opacity="0.7" filter="url(#b05)"/>
<ellipse cx="52" cy="30" rx="2.5" ry="3" fill="#35d0ff" fill-opacity="0.6" filter="url(#b05)"/>
<path d="M50.0,58.0 C51.7,55.3 58.0,54.3 60.0,56.0 C62.0,57.7 62.7,64.7 62.0,68.0 C61.3,71.3 58.0,75.3 56.0,76.0 C54.0,76.7 51.0,75.0 50.0,72.0 C49.0,69.0 48.3,60.7 50.0,58.0Z" fill="#5050b0" fill-opacity="0.4" filter="url(#b1)"/>
<g filter="url(#b05)">
<path d="M37.0,11.0 C38.3,10.4 40.5,10.7 42.0,11.5 C43.5,12.3 44.7,14.2 46.0,16.0 C47.3,17.8 49.2,20.0 50.0,22.0 C50.8,24.0 51.3,26.3 51.0,28.0 C50.7,29.7 49.5,31.2 48.0,32.0 C46.5,32.8 44.0,33.0 42.0,33.0 C40.0,33.0 38.0,32.7 36.0,32.0 C34.0,31.3 31.7,30.0 30.0,29.0 C28.3,28.0 26.7,27.2 26.0,26.0 C25.3,24.8 25.3,23.2 26.0,22.0 C26.7,20.8 28.7,20.2 30.0,19.0 C31.3,17.8 32.8,16.3 34.0,15.0 C35.2,13.7 35.7,11.6 37.0,11.0Z" fill="#1c30f0" stroke="#1c30f0" stroke-width="9.9" stroke-linejoin="round" opacity="0.85" filter="url(#b15)"/>
<path d="M37.0,11.0 C38.3,10.4 40.5,10.7 42.0,11.5 C43.5,12.3 44.7,14.2 46.0,16.0 C47.3,17.8 49.2,20.0 50.0,22.0 C50.8,24.0 51.3,26.3 51.0,28.0 C50.7,29.7 49.5,31.2 48.0,32.0 C46.5,32.8 44.0,33.0 42.0,33.0 C40.0,33.0 38.0,32.7 36.0,32.0 C34.0,31.3 31.7,30.0 30.0,29.0 C28.3,28.0 26.7,27.2 26.0,26.0 C25.3,24.8 25.3,23.2 26.0,22.0 C26.7,20.8 28.7,20.2 30.0,19.0 C31.3,17.8 32.8,16.3 34.0,15.0 C35.2,13.7 35.7,11.6 37.0,11.0Z" fill="#2070ff" stroke="#2070ff" stroke-width="5.0" stroke-linejoin="round" opacity="0.9" filter="url(#b05)"/>
<path d="M37.0,11.0 C38.3,10.4 40.5,10.7 42.0,11.5 C43.5,12.3 44.7,14.2 46.0,16.0 C47.3,17.8 49.2,20.0 50.0,22.0 C50.8,24.0 51.3,26.3 51.0,28.0 C50.7,29.7 49.5,31.2 48.0,32.0 C46.5,32.8 44.0,33.0 42.0,33.0 C40.0,33.0 38.0,32.7 36.0,32.0 C34.0,31.3 31.7,30.0 30.0,29.0 C28.3,28.0 26.7,27.2 26.0,26.0 C25.3,24.8 25.3,23.2 26.0,22.0 C26.7,20.8 28.7,20.2 30.0,19.0 C31.3,17.8 32.8,16.3 34.0,15.0 C35.2,13.7 35.7,11.6 37.0,11.0Z" fill="#40d8f0" stroke="#40d8f0" stroke-width="2.7" stroke-linejoin="round"/>
<path d="M37.0,11.0 C38.3,10.4 40.5,10.7 42.0,11.5 C43.5,12.3 44.7,14.2 46.0,16.0 C47.3,17.8 49.2,20.0 50.0,22.0 C50.8,24.0 51.3,26.3 51.0,28.0 C50.7,29.7 49.5,31.2 48.0,32.0 C46.5,32.8 44.0,33.0 42.0,33.0 C40.0,33.0 38.0,32.7 36.0,32.0 C34.0,31.3 31.7,30.0 30.0,29.0 C28.3,28.0 26.7,27.2 26.0,26.0 C25.3,24.8 25.3,23.2 26.0,22.0 C26.7,20.8 28.7,20.2 30.0,19.0 C31.3,17.8 32.8,16.3 34.0,15.0 C35.2,13.7 35.7,11.6 37.0,11.0Z" fill="#e8e060" stroke="#e8e060" stroke-width="1.1" stroke-linejoin="round"/>
<path d="M37.0,11.0 C38.3,10.4 40.5,10.7 42.0,11.5 C43.5,12.3 44.7,14.2 46.0,16.0 C47.3,17.8 49.2,20.0 50.0,22.0 C50.8,24.0 51.3,26.3 51.0,28.0 C50.7,29.7 49.5,31.2 48.0,32.0 C46.5,32.8 44.0,33.0 42.0,33.0 C40.0,33.0 38.0,32.7 36.0,32.0 C34.0,31.3 31.7,30.0 30.0,29.0 C28.3,28.0 26.7,27.2 26.0,26.0 C25.3,24.8 25.3,23.2 26.0,22.0 C26.7,20.8 28.7,20.2 30.0,19.0 C31.3,17.8 32.8,16.3 34.0,15.0 C35.2,13.7 35.7,11.6 37.0,11.0Z" fill="#c01010"/>
<path d="M37.3,13.4 C38.3,12.9 40.1,13.1 41.3,13.8 C42.5,14.4 43.4,16.0 44.5,17.4 C45.5,18.8 47.0,20.6 47.7,22.2 C48.3,23.8 48.7,25.6 48.5,27.0 C48.2,28.3 47.3,29.5 46.1,30.2 C44.9,30.8 42.9,31.0 41.3,31.0 C39.7,31.0 38.1,30.7 36.5,30.2 C34.9,29.6 33.0,28.6 31.7,27.8 C30.3,27.0 29.0,26.3 28.5,25.4 C27.9,24.4 27.9,23.1 28.5,22.2 C29.0,21.2 30.6,20.7 31.7,19.8 C32.7,18.8 33.9,17.6 34.9,16.6 C35.8,15.5 36.2,13.8 37.3,13.4Z" fill="#a80010" filter="url(#b05)"/>
<defs><filter id="lo7" x="-5%" y="-5%" width="110%" height="110%" color-interpolation-filters="sRGB"><feTurbulence type="fractalNoise" baseFrequency="0.1" numOctaves="2" seed="52" result="n"/><feColorMatrix in="n" type="matrix" values="0 0 0 0 0.95 0 0 0 0 0.42 0 0 0 0 0.08 5 0 0 0 -2.0" result="c"/><feComposite in="c" in2="SourceAlpha" operator="in" result="m"/><feGaussianBlur in="m" stdDeviation="0.6"/></filter><filter id="ly7" x="-5%" y="-5%" width="110%" height="110%" color-interpolation-filters="sRGB"><feTurbulence type="fractalNoise" baseFrequency="0.11" numOctaves="2" seed="54" result="n"/><feColorMatrix in="n" type="matrix" values="0 0 0 0 0.95 0 0 0 0 0.88 0 0 0 0 0.35 5 0 0 0 -2.7199999999999998" result="c"/><feComposite in="c" in2="SourceAlpha" operator="in" result="m"/><feGaussianBlur in="m" stdDeviation="0.6"/></filter></defs>
<path d="M37.0,11.0 C38.3,10.4 40.5,10.7 42.0,11.5 C43.5,12.3 44.7,14.2 46.0,16.0 C47.3,17.8 49.2,20.0 50.0,22.0 C50.8,24.0 51.3,26.3 51.0,28.0 C50.7,29.7 49.5,31.2 48.0,32.0 C46.5,32.8 44.0,33.0 42.0,33.0 C40.0,33.0 38.0,32.7 36.0,32.0 C34.0,31.3 31.7,30.0 30.0,29.0 C28.3,28.0 26.7,27.2 26.0,26.0 C25.3,24.8 25.3,23.2 26.0,22.0 C26.7,20.8 28.7,20.2 30.0,19.0 C31.3,17.8 32.8,16.3 34.0,15.0 C35.2,13.7 35.7,11.6 37.0,11.0Z" fill="#000" filter="url(#lo7)"/>
<path d="M37.0,11.0 C38.3,10.4 40.5,10.7 42.0,11.5 C43.5,12.3 44.7,14.2 46.0,16.0 C47.3,17.8 49.2,20.0 50.0,22.0 C50.8,24.0 51.3,26.3 51.0,28.0 C50.7,29.7 49.5,31.2 48.0,32.0 C46.5,32.8 44.0,33.0 42.0,33.0 C40.0,33.0 38.0,32.7 36.0,32.0 C34.0,31.3 31.7,30.0 30.0,29.0 C28.3,28.0 26.7,27.2 26.0,26.0 C25.3,24.8 25.3,23.2 26.0,22.0 C26.7,20.8 28.7,20.2 30.0,19.0 C31.3,17.8 32.8,16.3 34.0,15.0 C35.2,13.7 35.7,11.6 37.0,11.0Z" fill="#000" filter="url(#ly7)"/>
</g>
<ellipse cx="40" cy="15" rx="3.5" ry="3" fill="#e06010" fill-opacity="1" filter="url(#b05)"/>
<ellipse cx="39" cy="24" rx="6" ry="2" fill="#d8e060" fill-opacity="1" filter="url(#b05)"/>
<ellipse cx="40" cy="24" rx="2" ry="1.5" fill="#f0f080" fill-opacity="1" filter="url(#b05)"/>
<g filter="url(#b05)">
<path d="M12.5,43.0 C13.3,41.8 15.4,40.8 17.0,40.5 C18.6,40.2 21.0,40.6 22.0,41.5 C23.0,42.4 23.2,44.6 23.0,46.0 C22.8,47.4 22.3,49.2 21.0,50.0 C19.7,50.8 16.4,50.8 15.0,50.5 C13.6,50.2 12.7,49.2 12.3,48.0 C11.9,46.8 11.7,44.2 12.5,43.0Z" fill="#1c30f0" stroke="#1c30f0" stroke-width="7.7" stroke-linejoin="round" opacity="0.85" filter="url(#b15)"/>
<path d="M12.5,43.0 C13.3,41.8 15.4,40.8 17.0,40.5 C18.6,40.2 21.0,40.6 22.0,41.5 C23.0,42.4 23.2,44.6 23.0,46.0 C22.8,47.4 22.3,49.2 21.0,50.0 C19.7,50.8 16.4,50.8 15.0,50.5 C13.6,50.2 12.7,49.2 12.3,48.0 C11.9,46.8 11.7,44.2 12.5,43.0Z" fill="#2070ff" stroke="#2070ff" stroke-width="3.9" stroke-linejoin="round" opacity="0.9" filter="url(#b05)"/>
<path d="M12.5,43.0 C13.3,41.8 15.4,40.8 17.0,40.5 C18.6,40.2 21.0,40.6 22.0,41.5 C23.0,42.4 23.2,44.6 23.0,46.0 C22.8,47.4 22.3,49.2 21.0,50.0 C19.7,50.8 16.4,50.8 15.0,50.5 C13.6,50.2 12.7,49.2 12.3,48.0 C11.9,46.8 11.7,44.2 12.5,43.0Z" fill="#40d8f0" stroke="#40d8f0" stroke-width="2.1" stroke-linejoin="round"/>
<path d="M12.5,43.0 C13.3,41.8 15.4,40.8 17.0,40.5 C18.6,40.2 21.0,40.6 22.0,41.5 C23.0,42.4 23.2,44.6 23.0,46.0 C22.8,47.4 22.3,49.2 21.0,50.0 C19.7,50.8 16.4,50.8 15.0,50.5 C13.6,50.2 12.7,49.2 12.3,48.0 C11.9,46.8 11.7,44.2 12.5,43.0Z" fill="#e8e070" stroke="#e8e070" stroke-width="0.9" stroke-linejoin="round"/>
<path d="M12.5,43.0 C13.3,41.8 15.4,40.8 17.0,40.5 C18.6,40.2 21.0,40.6 22.0,41.5 C23.0,42.4 23.2,44.6 23.0,46.0 C22.8,47.4 22.3,49.2 21.0,50.0 C19.7,50.8 16.4,50.8 15.0,50.5 C13.6,50.2 12.7,49.2 12.3,48.0 C11.9,46.8 11.7,44.2 12.5,43.0Z" fill="#c01010"/>
<path d="M13.5,43.5 C14.1,42.5 15.8,41.7 17.1,41.5 C18.4,41.3 20.3,41.6 21.1,42.3 C21.9,43.1 22.0,44.8 21.9,45.9 C21.8,47.1 21.4,48.5 20.3,49.1 C19.2,49.7 16.7,49.8 15.5,49.5 C14.3,49.3 13.7,48.5 13.3,47.5 C13.0,46.5 12.9,44.5 13.5,43.5Z" fill="#a80010" filter="url(#b05)"/>
<defs><filter id="lo8" x="-5%" y="-5%" width="110%" height="110%" color-interpolation-filters="sRGB"><feTurbulence type="fractalNoise" baseFrequency="0.1" numOctaves="2" seed="59" result="n"/><feColorMatrix in="n" type="matrix" values="0 0 0 0 0.95 0 0 0 0 0.42 0 0 0 0 0.08 5 0 0 0 -2.8000000000000003" result="c"/><feComposite in="c" in2="SourceAlpha" operator="in" result="m"/><feGaussianBlur in="m" stdDeviation="0.6"/></filter><filter id="ly8" x="-5%" y="-5%" width="110%" height="110%" color-interpolation-filters="sRGB"><feTurbulence type="fractalNoise" baseFrequency="0.11" numOctaves="2" seed="61" result="n"/><feColorMatrix in="n" type="matrix" values="0 0 0 0 0.95 0 0 0 0 0.88 0 0 0 0 0.35 5 0 0 0 -3.44" result="c"/><feComposite in="c" in2="SourceAlpha" operator="in" result="m"/><feGaussianBlur in="m" stdDeviation="0.6"/></filter></defs>
<path d="M12.5,43.0 C13.3,41.8 15.4,40.8 17.0,40.5 C18.6,40.2 21.0,40.6 22.0,41.5 C23.0,42.4 23.2,44.6 23.0,46.0 C22.8,47.4 22.3,49.2 21.0,50.0 C19.7,50.8 16.4,50.8 15.0,50.5 C13.6,50.2 12.7,49.2 12.3,48.0 C11.9,46.8 11.7,44.2 12.5,43.0Z" fill="#000" filter="url(#lo8)"/>
<path d="M12.5,43.0 C13.3,41.8 15.4,40.8 17.0,40.5 C18.6,40.2 21.0,40.6 22.0,41.5 C23.0,42.4 23.2,44.6 23.0,46.0 C22.8,47.4 22.3,49.2 21.0,50.0 C19.7,50.8 16.4,50.8 15.0,50.5 C13.6,50.2 12.7,49.2 12.3,48.0 C11.9,46.8 11.7,44.2 12.5,43.0Z" fill="#000" filter="url(#ly8)"/>
</g>
</g></g>
<clipPath id="pc5"><rect x="0" y="0" width="75.00" height="97.00"/></clipPath>
<g transform="translate(402,21)"><g clip-path="url(#pc5)">
<rect width="75.00" height="97.00" fill="#000"/>
<g filter="url(#b05)">
<path d="M20.0,-2.0 C26.3,-4.3 51.5,-4.7 57.7,-2.0 C64.0,0.7 57.5,9.0 57.5,14.0 C57.5,19.0 57.4,23.8 57.5,28.0 C57.6,32.2 57.5,34.8 58.0,39.0 C58.5,43.2 59.7,48.9 60.6,53.4 C61.5,57.9 63.3,62.6 63.5,66.0 C63.7,69.4 63.1,71.7 62.0,73.6 C60.9,75.5 59.0,76.4 57.0,77.5 C55.0,78.6 52.8,79.4 50.0,80.0 C47.2,80.6 43.7,80.9 40.0,81.0 C36.3,81.1 31.1,81.2 28.0,80.5 C24.9,79.8 23.6,78.2 21.6,77.0 C19.6,75.8 17.5,75.2 16.0,73.5 C14.5,71.8 13.3,69.2 12.5,67.0 C11.7,64.8 11.5,63.4 11.3,60.6 C11.1,57.8 11.3,53.6 11.3,50.0 C11.3,46.4 11.0,41.8 11.5,39.0 C12.0,36.2 13.3,35.2 14.5,33.0 C15.7,30.8 17.6,29.5 18.5,26.0 C19.4,22.5 19.8,16.7 20.0,12.0 C20.2,7.3 13.7,0.3 20.0,-2.0Z" fill="url(#mg)"/>
<path d="M25.0,75.0 C27.3,73.2 42.7,73.2 45.0,75.0 C47.3,76.8 41.3,84.2 39.0,86.0 C36.7,87.8 33.3,87.8 31.0,86.0 C28.7,84.2 22.7,76.8 25.0,75.0Z" fill="#7a7a78"/>
<path d="M19.5,75.0 C20.0,76.0 22.5,79.0 22.5,81.0 C22.5,83.0 20.8,85.3 19.5,87.0 C18.2,88.7 16.4,89.8 15.0,91.0 C13.6,92.2 11.7,93.5 11.0,94.0" fill="none" stroke="#828282" stroke-width="4.6" stroke-linecap="round" stroke-linejoin="round"/>
<path d="M52.0,78.0 C51.8,79.0 50.3,82.3 51.0,84.0 C51.7,85.7 54.3,86.9 56.0,88.0 C57.7,89.1 59.3,89.5 61.0,90.5 C62.7,91.5 65.2,93.4 66.0,94.0" fill="none" stroke="#828282" stroke-width="4.6" stroke-linecap="round" stroke-linejoin="round"/>
<path d="M35.0,82.0 C35.0,84.8 35.0,96.2 35.0,99.0" fill="none" stroke="#828282" stroke-width="5" stroke-linecap="round"/>
</g>
<path d="M20.0,-2.0 C26.3,-4.3 51.5,-4.7 57.7,-2.0 C64.0,0.7 57.5,9.0 57.5,14.0 C57.5,19.0 57.4,23.8 57.5,28.0 C57.6,32.2 57.5,34.8 58.0,39.0 C58.5,43.2 59.7,48.9 60.6,53.4 C61.5,57.9 63.3,62.6 63.5,66.0 C63.7,69.4 63.1,71.7 62.0,73.6 C60.9,75.5 59.0,76.4 57.0,77.5 C55.0,78.6 52.8,79.4 50.0,80.0 C47.2,80.6 43.7,80.9 40.0,81.0 C36.3,81.1 31.1,81.2 28.0,80.5 C24.9,79.8 23.6,78.2 21.6,77.0 C19.6,75.8 17.5,75.2 16.0,73.5 C14.5,71.8 13.3,69.2 12.5,67.0 C11.7,64.8 11.5,63.4 11.3,60.6 C11.1,57.8 11.3,53.6 11.3,50.0 C11.3,46.4 11.0,41.8 11.5,39.0 C12.0,36.2 13.3,35.2 14.5,33.0 C15.7,30.8 17.6,29.5 18.5,26.0 C19.4,22.5 19.8,16.7 20.0,12.0 C20.2,7.3 13.7,0.3 20.0,-2.0Z" fill="none" stroke="#000" stroke-opacity="0.22" stroke-width="3" filter="url(#b1)"/>
<path d="M12.0,61.0 C13.3,59.4 17.9,60.0 20.0,60.5 C22.1,61.0 22.8,63.1 24.5,64.0 C26.2,64.9 28.1,65.6 30.0,66.0 C31.9,66.4 35.0,65.3 36.0,66.5 C37.0,67.7 37.7,71.8 36.0,73.0 C34.3,74.2 29.0,73.7 26.0,73.5 C23.0,73.3 20.3,72.6 18.0,72.0 C15.7,71.4 13.0,71.8 12.0,70.0 C11.0,68.2 10.7,62.6 12.0,61.0Z" fill="#2030f0" fill-opacity="0.9" filter="url(#b1)"/>
<ellipse cx="35.3" cy="55.5" rx="3.6" ry="3.4" fill="#1e3cf2" fill-opacity="1" filter="url(#b05)"/>
<ellipse cx="44" cy="48.4" rx="3.6" ry="3.6" fill="#2050ff" fill-opacity="1" filter="url(#b05)"/>
<ellipse cx="36.5" cy="40.5" rx="3.5" ry="1.8" fill="#1e3cf2" fill-opacity="1" filter="url(#b05)"/>
<ellipse cx="50.5" cy="41" rx="3" ry="2.2" fill="#1e3cf2" fill-opacity="1" filter="url(#b05)"/>
<ellipse cx="57.7" cy="52.7" rx="3" ry="2.3" fill="#3040d0" fill-opacity="0.7" filter="url(#b05)"/>
<ellipse cx="25" cy="58" rx="3.5" ry="2" fill="#3040d0" fill-opacity="0.6" filter="url(#b05)"/>
<ellipse cx="57" cy="65.6" rx="3.5" ry="5" fill="#4848b0" fill-opacity="0.5" filter="url(#b05)"/>
<path d="M33.0,33.0 C36.3,31.5 49.7,31.5 53.0,33.0 C56.3,34.5 56.3,40.5 53.0,42.0 C49.7,43.5 36.3,43.5 33.0,42.0 C29.7,40.5 29.7,34.5 33.0,33.0Z" fill="#2040f0" fill-opacity="0.85" filter="url(#b1)"/>
<g filter="url(#b05)">
<path d="M36.5,11.5 C37.8,11.2 39.2,12.2 41.0,13.0 C42.8,13.8 45.8,14.5 47.2,16.0 C48.6,17.5 49.1,19.9 49.5,22.0 C49.9,24.1 50.6,27.0 49.5,28.4 C48.4,29.8 45.4,30.1 43.0,30.5 C40.6,30.9 37.6,31.3 35.0,30.7 C32.4,30.1 28.2,28.4 27.2,26.8 C26.2,25.2 28.0,23.0 29.0,21.0 C30.0,19.0 31.8,16.6 33.0,15.0 C34.2,13.4 35.2,11.8 36.5,11.5Z" fill="#2050ff" stroke="#2050ff" stroke-width="5.5" stroke-linejoin="round" opacity="0.95" filter="url(#b05)"/>
<path d="M36.5,11.5 C37.8,11.2 39.2,12.2 41.0,13.0 C42.8,13.8 45.8,14.5 47.2,16.0 C48.6,17.5 49.1,19.9 49.5,22.0 C49.9,24.1 50.6,27.0 49.5,28.4 C48.4,29.8 45.4,30.1 43.0,30.5 C40.6,30.9 37.6,31.3 35.0,30.7 C32.4,30.1 28.2,28.4 27.2,26.8 C26.2,25.2 28.0,23.0 29.0,21.0 C30.0,19.0 31.8,16.6 33.0,15.0 C34.2,13.4 35.2,11.8 36.5,11.5Z" fill="#30c0f8" stroke="#30c0f8" stroke-width="2.5" stroke-linejoin="round"/>
<path d="M36.5,11.5 C37.8,11.2 39.2,12.2 41.0,13.0 C42.8,13.8 45.8,14.5 47.2,16.0 C48.6,17.5 49.1,19.9 49.5,22.0 C49.9,24.1 50.6,27.0 49.5,28.4 C48.4,29.8 45.4,30.1 43.0,30.5 C40.6,30.9 37.6,31.3 35.0,30.7 C32.4,30.1 28.2,28.4 27.2,26.8 C26.2,25.2 28.0,23.0 29.0,21.0 C30.0,19.0 31.8,16.6 33.0,15.0 C34.2,13.4 35.2,11.8 36.5,11.5Z" fill="#90e878"/>
</g>
<line x1="31.5" y1="23.5" x2="36" y2="17" stroke="#e0a030" stroke-width="2.6" stroke-linecap="round" filter="url(#b05)"/>
<ellipse cx="43.4" cy="18" rx="1.8" ry="2.2" fill="#e8a030" fill-opacity="1" filter="url(#b05)"/>
<ellipse cx="38.4" cy="24.5" rx="2.2" ry="2.5" fill="#40d8e8" fill-opacity="1" filter="url(#b05)"/>
<ellipse cx="44" cy="25" rx="3" ry="3" fill="#c8e860" fill-opacity="0.8" filter="url(#b05)"/>
<ellipse cx="32.2" cy="11.1" rx="2.8" ry="2.2" fill="#2820b0" fill-opacity="1" filter="url(#b05)"/>
<ellipse cx="32.2" cy="11.1" rx="1.3" ry="1.1" fill="#802050" fill-opacity="1" filter="url(#b05)"/>
<g filter="url(#b05)">
<path d="M15.0,35.0 C16.3,33.9 18.6,34.0 20.0,34.5 C21.4,35.0 22.8,36.4 23.5,38.0 C24.2,39.6 24.6,41.9 24.5,44.0 C24.4,46.1 23.9,48.8 23.0,50.5 C22.1,52.2 20.4,53.9 19.0,54.5 C17.6,55.1 15.7,55.0 14.5,54.0 C13.3,53.0 12.4,50.7 12.0,48.5 C11.6,46.3 11.5,43.2 12.0,41.0 C12.5,38.8 13.7,36.1 15.0,35.0Z" fill="#2050ff" stroke="#2050ff" stroke-width="4" stroke-linejoin="round" opacity="0.95" filter="url(#b05)"/>
<path d="M15.0,35.0 C16.3,33.9 18.6,34.0 20.0,34.5 C21.4,35.0 22.8,36.4 23.5,38.0 C24.2,39.6 24.6,41.9 24.5,44.0 C24.4,46.1 23.9,48.8 23.0,50.5 C22.1,52.2 20.4,53.9 19.0,54.5 C17.6,55.1 15.7,55.0 14.5,54.0 C13.3,53.0 12.4,50.7 12.0,48.5 C11.6,46.3 11.5,43.2 12.0,41.0 C12.5,38.8 13.7,36.1 15.0,35.0Z" fill="#30c0f8" stroke="#30c0f8" stroke-width="1.8" stroke-linejoin="round"/>
<path d="M15.0,35.0 C16.3,33.9 18.6,34.0 20.0,34.5 C21.4,35.0 22.8,36.4 23.5,38.0 C24.2,39.6 24.6,41.9 24.5,44.0 C24.4,46.1 23.9,48.8 23.0,50.5 C22.1,52.2 20.4,53.9 19.0,54.5 C17.6,55.1 15.7,55.0 14.5,54.0 C13.3,53.0 12.4,50.7 12.0,48.5 C11.6,46.3 11.5,43.2 12.0,41.0 C12.5,38.8 13.7,36.1 15.0,35.0Z" fill="#90e878"/>
</g>
<ellipse cx="16" cy="45" rx="2" ry="3.5" fill="#f0a030" fill-opacity="1" filter="url(#b05)"/>
<ellipse cx="19" cy="40" rx="2.2" ry="2.5" fill="#e8e060" fill-opacity="1" filter="url(#b05)"/>
<ellipse cx="20" cy="49" rx="2" ry="2.5" fill="#e8e060" fill-opacity="1" filter="url(#b05)"/>
</g></g>
<clipPath id="pc6"><rect x="0" y="0" width="77.50" height="96.40"/></clipPath>
<g transform="translate(4,125.6)"><g clip-path="url(#pc6)">
<rect width="77.50" height="96.40" fill="#000"/>
<g filter="url(#b05)">
<path d="M22.5,-2.0 C28.8,-4.3 53.7,-4.7 60.0,-2.0 C66.3,0.7 60.2,9.3 60.5,14.0 C60.8,18.7 61.3,22.0 62.0,26.0 C62.7,30.0 63.7,34.0 64.5,38.0 C65.3,42.0 66.5,46.1 67.0,50.0 C67.5,53.9 67.5,58.1 67.5,61.4 C67.5,64.7 67.2,67.5 67.0,70.0 C66.8,72.5 67.2,74.6 66.0,76.4 C64.8,78.2 62.7,79.9 60.0,81.0 C57.3,82.1 53.3,82.7 50.0,83.0 C46.7,83.3 43.3,83.2 40.0,83.0 C36.7,82.8 33.0,82.7 30.0,82.0 C27.0,81.3 24.0,79.9 22.0,79.0 C20.0,78.1 18.9,78.2 18.0,76.4 C17.1,74.6 16.8,71.1 16.5,68.0 C16.2,64.9 16.3,61.7 16.5,58.0 C16.7,54.3 17.0,49.7 17.5,46.0 C18.0,42.3 18.8,39.3 19.5,36.0 C20.2,32.7 21.0,30.0 21.5,26.0 C22.0,22.0 22.1,16.7 22.3,12.0 C22.5,7.3 16.2,0.3 22.5,-2.0Z" fill="url(#mg)"/>
<path d="M32.0,77.0 C34.3,75.2 49.7,75.2 52.0,77.0 C54.3,78.8 48.3,86.2 46.0,88.0 C43.7,89.8 40.3,89.8 38.0,88.0 C35.7,86.2 29.7,78.8 32.0,77.0Z" fill="#7a7a78"/>
<path d="M24.0,82.4 C23.8,83.4 23.8,86.7 22.5,88.4 C21.2,90.2 18.1,91.5 16.5,92.9 C14.9,94.3 13.6,96.3 13.0,97.0" fill="none" stroke="#828282" stroke-width="4.6" stroke-linecap="round" stroke-linejoin="round"/>
<path d="M57.0,85.4 C57.8,86.2 60.0,88.4 61.5,89.9 C63.0,91.4 64.9,93.2 66.0,94.4 C67.1,95.6 67.7,96.6 68.0,97.0" fill="none" stroke="#828282" stroke-width="4.6" stroke-linecap="round" stroke-linejoin="round"/>
<path d="M42.0,84.0 C42.0,86.5 42.0,96.5 42.0,99.0" fill="none" stroke="#828282" stroke-width="5" stroke-linecap="round"/>
</g>
<path d="M22.5,-2.0 C28.8,-4.3 53.7,-4.7 60.0,-2.0 C66.3,0.7 60.2,9.3 60.5,14.0 C60.8,18.7 61.3,22.0 62.0,26.0 C62.7,30.0 63.7,34.0 64.5,38.0 C65.3,42.0 66.5,46.1 67.0,50.0 C67.5,53.9 67.5,58.1 67.5,61.4 C67.5,64.7 67.2,67.5 67.0,70.0 C66.8,72.5 67.2,74.6 66.0,76.4 C64.8,78.2 62.7,79.9 60.0,81.0 C57.3,82.1 53.3,82.7 50.0,83.0 C46.7,83.3 43.3,83.2 40.0,83.0 C36.7,82.8 33.0,82.7 30.0,82.0 C27.0,81.3 24.0,79.9 22.0,79.0 C20.0,78.1 18.9,78.2 18.0,76.4 C17.1,74.6 16.8,71.1 16.5,68.0 C16.2,64.9 16.3,61.7 16.5,58.0 C16.7,54.3 17.0,49.7 17.5,46.0 C18.0,42.3 18.8,39.3 19.5,36.0 C20.2,32.7 21.0,30.0 21.5,26.0 C22.0,22.0 22.1,16.7 22.3,12.0 C22.5,7.3 16.2,0.3 22.5,-2.0Z" fill="none" stroke="#000" stroke-opacity="0.22" stroke-width="3" filter="url(#b1)"/>
<defs>
<filter id="tg61" x="-5%" y="-5%" width="110%" height="110%" color-interpolation-filters="sRGB"><feTurbulence type="turbulence" baseFrequency="0.056" numOctaves="1" seed="61" result="n"/><feColorMatrix in="n" type="matrix" values="0 0 0 0 0.5 0 0 0 0 0.49 0 0 0 0 0.44 -9 0 0 0 0.85" result="c"/><feComposite in="c" in2="SourceAlpha" operator="in" result="m"/><feGaussianBlur in="m" stdDeviation="0.7"/></filter>
<filter id="tl61" x="-5%" y="-5%" width="110%" height="110%" color-interpolation-filters="sRGB"><feTurbulence type="fractalNoise" baseFrequency="0.12" numOctaves="2" seed="561" result="n"/><feColorMatrix in="n" type="matrix" values="0 0 0 0 0.15 0 0 0 0 0.42 0 0 0 0 1.0 4 0 0 0 -1.8" result="c"/><feComposite in="c" in2="SourceAlpha" operator="in" result="m"/><feGaussianBlur in="m" stdDeviation="0.8"/></filter>
<filter id="td61" x="-5%" y="-5%" width="110%" height="110%" color-interpolation-filters="sRGB"><feTurbulence type="fractalNoise" baseFrequency="0.1" numOctaves="2" seed="961" result="n"/><feColorMatrix in="n" type="matrix" values="0 0 0 0 0.08 0 0 0 0 0.03 0 0 0 0 0.62 4 0 0 0 -2.0" result="c"/><feComposite in="c" in2="SourceAlpha" operator="in" result="m"/><feGaussianBlur in="m" stdDeviation="0.8"/></filter>
<filter id="tc61" x="-5%" y="-5%" width="110%" height="110%" color-interpolation-filters="sRGB"><feTurbulence type="fractalNoise" baseFrequency="0.09" numOctaves="2" seed="761" result="n"/><feColorMatrix in="n" type="matrix" values="0 0 0 0 0.2 0 0 0 0 0.72 0 0 0 0 1.0 5 0 0 0 -3.45" result="c"/><feComposite in="c" in2="SourceAlpha" operator="in" result="m"/><feGaussianBlur in="m" stdDeviation="0.8"/></filter>
<filter id="bb61" x="-30%" y="-30%" width="160%" height="160%"><feGaussianBlur stdDeviation="1.2"/></filter>
</defs>
<g filter="url(#bb61)"><path d="M20.0,38.0 C21.6,36.5 25.3,37.0 28.0,37.0 C30.7,37.0 33.3,37.7 36.0,38.0 C38.7,38.3 41.3,39.0 44.0,39.0 C46.7,39.0 49.7,38.7 52.0,38.0 C54.3,37.3 56.2,35.0 58.0,35.0 C59.8,35.0 61.7,35.8 63.0,38.0 C64.3,40.2 65.5,44.3 66.0,48.0 C66.5,51.7 66.3,56.3 66.0,60.0 C65.7,63.7 64.8,67.0 64.0,70.0 C63.2,73.0 62.7,75.7 61.0,78.0 C59.3,80.3 56.5,82.2 54.0,84.0 C51.5,85.8 48.7,88.2 46.0,89.0 C43.3,89.8 40.7,89.5 38.0,89.0 C35.3,88.5 32.7,87.8 30.0,86.0 C27.3,84.2 23.8,81.0 22.0,78.0 C20.2,75.0 19.7,71.7 19.0,68.0 C18.3,64.3 18.1,59.7 18.0,56.0 C17.9,52.3 18.2,49.0 18.5,46.0 C18.8,43.0 18.4,39.5 20.0,38.0Z" fill="#1c22e8" fill-opacity="1.0"/>
<path d="M20.0,38.0 C21.6,36.5 25.3,37.0 28.0,37.0 C30.7,37.0 33.3,37.7 36.0,38.0 C38.7,38.3 41.3,39.0 44.0,39.0 C46.7,39.0 49.7,38.7 52.0,38.0 C54.3,37.3 56.2,35.0 58.0,35.0 C59.8,35.0 61.7,35.8 63.0,38.0 C64.3,40.2 65.5,44.3 66.0,48.0 C66.5,51.7 66.3,56.3 66.0,60.0 C65.7,63.7 64.8,67.0 64.0,70.0 C63.2,73.0 62.7,75.7 61.0,78.0 C59.3,80.3 56.5,82.2 54.0,84.0 C51.5,85.8 48.7,88.2 46.0,89.0 C43.3,89.8 40.7,89.5 38.0,89.0 C35.3,88.5 32.7,87.8 30.0,86.0 C27.3,84.2 23.8,81.0 22.0,78.0 C20.2,75.0 19.7,71.7 19.0,68.0 C18.3,64.3 18.1,59.7 18.0,56.0 C17.9,52.3 18.2,49.0 18.5,46.0 C18.8,43.0 18.4,39.5 20.0,38.0Z" fill="#000" filter="url(#td61)"/>
<path d="M20.0,38.0 C21.6,36.5 25.3,37.0 28.0,37.0 C30.7,37.0 33.3,37.7 36.0,38.0 C38.7,38.3 41.3,39.0 44.0,39.0 C46.7,39.0 49.7,38.7 52.0,38.0 C54.3,37.3 56.2,35.0 58.0,35.0 C59.8,35.0 61.7,35.8 63.0,38.0 C64.3,40.2 65.5,44.3 66.0,48.0 C66.5,51.7 66.3,56.3 66.0,60.0 C65.7,63.7 64.8,67.0 64.0,70.0 C63.2,73.0 62.7,75.7 61.0,78.0 C59.3,80.3 56.5,82.2 54.0,84.0 C51.5,85.8 48.7,88.2 46.0,89.0 C43.3,89.8 40.7,89.5 38.0,89.0 C35.3,88.5 32.7,87.8 30.0,86.0 C27.3,84.2 23.8,81.0 22.0,78.0 C20.2,75.0 19.7,71.7 19.0,68.0 C18.3,64.3 18.1,59.7 18.0,56.0 C17.9,52.3 18.2,49.0 18.5,46.0 C18.8,43.0 18.4,39.5 20.0,38.0Z" fill="#000" filter="url(#tl61)"/>
<path d="M20.0,38.0 C21.6,36.5 25.3,37.0 28.0,37.0 C30.7,37.0 33.3,37.7 36.0,38.0 C38.7,38.3 41.3,39.0 44.0,39.0 C46.7,39.0 49.7,38.7 52.0,38.0 C54.3,37.3 56.2,35.0 58.0,35.0 C59.8,35.0 61.7,35.8 63.0,38.0 C64.3,40.2 65.5,44.3 66.0,48.0 C66.5,51.7 66.3,56.3 66.0,60.0 C65.7,63.7 64.8,67.0 64.0,70.0 C63.2,73.0 62.7,75.7 61.0,78.0 C59.3,80.3 56.5,82.2 54.0,84.0 C51.5,85.8 48.7,88.2 46.0,89.0 C43.3,89.8 40.7,89.5 38.0,89.0 C35.3,88.5 32.7,87.8 30.0,86.0 C27.3,84.2 23.8,81.0 22.0,78.0 C20.2,75.0 19.7,71.7 19.0,68.0 C18.3,64.3 18.1,59.7 18.0,56.0 C17.9,52.3 18.2,49.0 18.5,46.0 C18.8,43.0 18.4,39.5 20.0,38.0Z" fill="#000" filter="url(#tc61)"/>
<path d="M20.0,38.0 C21.6,36.5 25.3,37.0 28.0,37.0 C30.7,37.0 33.3,37.7 36.0,38.0 C38.7,38.3 41.3,39.0 44.0,39.0 C46.7,39.0 49.7,38.7 52.0,38.0 C54.3,37.3 56.2,35.0 58.0,35.0 C59.8,35.0 61.7,35.8 63.0,38.0 C64.3,40.2 65.5,44.3 66.0,48.0 C66.5,51.7 66.3,56.3 66.0,60.0 C65.7,63.7 64.8,67.0 64.0,70.0 C63.2,73.0 62.7,75.7 61.0,78.0 C59.3,80.3 56.5,82.2 54.0,84.0 C51.5,85.8 48.7,88.2 46.0,89.0 C43.3,89.8 40.7,89.5 38.0,89.0 C35.3,88.5 32.7,87.8 30.0,86.0 C27.3,84.2 23.8,81.0 22.0,78.0 C20.2,75.0 19.7,71.7 19.0,68.0 C18.3,64.3 18.1,59.7 18.0,56.0 C17.9,52.3 18.2,49.0 18.5,46.0 C18.8,43.0 18.4,39.5 20.0,38.0Z" fill="#000" filter="url(#tg61)"/></g>
<ellipse cx="24.1" cy="39.9" rx="4.0" ry="2.0" fill="#2c78ff" fill-opacity="0.8" filter="url(#b1)"/>
<ellipse cx="33.0" cy="41.6" rx="3.0" ry="1.8" fill="#2c78ff" fill-opacity="0.8" filter="url(#b1)"/>
<ellipse cx="36.8" cy="39.7" rx="2.5" ry="2.0" fill="#2c78ff" fill-opacity="0.8" filter="url(#b1)"/>
<ellipse cx="47.6" cy="41.4" rx="3.9" ry="1.9" fill="#30a8ff" fill-opacity="0.8" filter="url(#b1)"/>
<ellipse cx="49.4" cy="39.7" rx="3.5" ry="2.2" fill="#2c78ff" fill-opacity="0.8" filter="url(#b1)"/>
<ellipse cx="56.8" cy="40.2" rx="3.2" ry="1.6" fill="#2c78ff" fill-opacity="0.8" filter="url(#b1)"/>
<ellipse cx="32" cy="39" rx="3" ry="2.2" fill="#35d0ff" fill-opacity="1" filter="url(#b05)"/>
<ellipse cx="43" cy="37.7" rx="3" ry="2.2" fill="#35d0ff" fill-opacity="0.8" filter="url(#b05)"/>
<ellipse cx="45" cy="47.9" rx="2.5" ry="2" fill="#35d0ff" fill-opacity="0.8" filter="url(#b05)"/>
<ellipse cx="58.5" cy="80.9" rx="2.4" ry="2.4" fill="#35d0ff" fill-opacity="1" filter="url(#b05)"/>
<ellipse cx="36" cy="86.1" rx="2.8" ry="2.2" fill="#35d0ff" fill-opacity="1" filter="url(#b05)"/>
<ellipse cx="46" cy="87" rx="3" ry="2" fill="#2f7cff" fill-opacity="1" filter="url(#b05)"/>
<g filter="url(#b05)">
<path d="M42.0,13.0 C43.2,12.8 44.7,12.8 46.0,14.0 C47.3,15.2 48.5,18.0 50.0,20.0 C51.5,22.0 53.5,24.2 55.0,26.0 C56.5,27.8 58.7,29.5 59.0,31.0 C59.3,32.5 58.5,34.0 57.0,35.0 C55.5,36.0 52.2,36.6 50.0,37.0 C47.8,37.4 46.0,37.8 44.0,37.5 C42.0,37.2 40.0,35.8 38.0,35.0 C36.0,34.2 33.5,33.8 32.0,33.0 C30.5,32.2 29.0,31.3 29.0,30.0 C29.0,28.7 30.8,26.8 32.0,25.0 C33.2,23.2 34.8,20.7 36.0,19.0 C37.2,17.3 38.0,16.0 39.0,15.0 C40.0,14.0 40.8,13.2 42.0,13.0Z" fill="#1c30f0" stroke="#1c30f0" stroke-width="7.7" stroke-linejoin="round" opacity="0.85" filter="url(#b15)"/>
<path d="M42.0,13.0 C43.2,12.8 44.7,12.8 46.0,14.0 C47.3,15.2 48.5,18.0 50.0,20.0 C51.5,22.0 53.5,24.2 55.0,26.0 C56.5,27.8 58.7,29.5 59.0,31.0 C59.3,32.5 58.5,34.0 57.0,35.0 C55.5,36.0 52.2,36.6 50.0,37.0 C47.8,37.4 46.0,37.8 44.0,37.5 C42.0,37.2 40.0,35.8 38.0,35.0 C36.0,34.2 33.5,33.8 32.0,33.0 C30.5,32.2 29.0,31.3 29.0,30.0 C29.0,28.7 30.8,26.8 32.0,25.0 C33.2,23.2 34.8,20.7 36.0,19.0 C37.2,17.3 38.0,16.0 39.0,15.0 C40.0,14.0 40.8,13.2 42.0,13.0Z" fill="#2070ff" stroke="#2070ff" stroke-width="3.9" stroke-linejoin="round" opacity="0.9" filter="url(#b05)"/>
<path d="M42.0,13.0 C43.2,12.8 44.7,12.8 46.0,14.0 C47.3,15.2 48.5,18.0 50.0,20.0 C51.5,22.0 53.5,24.2 55.0,26.0 C56.5,27.8 58.7,29.5 59.0,31.0 C59.3,32.5 58.5,34.0 57.0,35.0 C55.5,36.0 52.2,36.6 50.0,37.0 C47.8,37.4 46.0,37.8 44.0,37.5 C42.0,37.2 40.0,35.8 38.0,35.0 C36.0,34.2 33.5,33.8 32.0,33.0 C30.5,32.2 29.0,31.3 29.0,30.0 C29.0,28.7 30.8,26.8 32.0,25.0 C33.2,23.2 34.8,20.7 36.0,19.0 C37.2,17.3 38.0,16.0 39.0,15.0 C40.0,14.0 40.8,13.2 42.0,13.0Z" fill="#40d8f0" stroke="#40d8f0" stroke-width="2.1" stroke-linejoin="round"/>
<path d="M42.0,13.0 C43.2,12.8 44.7,12.8 46.0,14.0 C47.3,15.2 48.5,18.0 50.0,20.0 C51.5,22.0 53.5,24.2 55.0,26.0 C56.5,27.8 58.7,29.5 59.0,31.0 C59.3,32.5 58.5,34.0 57.0,35.0 C55.5,36.0 52.2,36.6 50.0,37.0 C47.8,37.4 46.0,37.8 44.0,37.5 C42.0,37.2 40.0,35.8 38.0,35.0 C36.0,34.2 33.5,33.8 32.0,33.0 C30.5,32.2 29.0,31.3 29.0,30.0 C29.0,28.7 30.8,26.8 32.0,25.0 C33.2,23.2 34.8,20.7 36.0,19.0 C37.2,17.3 38.0,16.0 39.0,15.0 C40.0,14.0 40.8,13.2 42.0,13.0Z" fill="#e8e070" stroke="#e8e070" stroke-width="0.9" stroke-linejoin="round"/>
<path d="M42.0,13.0 C43.2,12.8 44.7,12.8 46.0,14.0 C47.3,15.2 48.5,18.0 50.0,20.0 C51.5,22.0 53.5,24.2 55.0,26.0 C56.5,27.8 58.7,29.5 59.0,31.0 C59.3,32.5 58.5,34.0 57.0,35.0 C55.5,36.0 52.2,36.6 50.0,37.0 C47.8,37.4 46.0,37.8 44.0,37.5 C42.0,37.2 40.0,35.8 38.0,35.0 C36.0,34.2 33.5,33.8 32.0,33.0 C30.5,32.2 29.0,31.3 29.0,30.0 C29.0,28.7 30.8,26.8 32.0,25.0 C33.2,23.2 34.8,20.7 36.0,19.0 C37.2,17.3 38.0,16.0 39.0,15.0 C40.0,14.0 40.8,13.2 42.0,13.0Z" fill="#c01010"/>
<path d="M42.3,15.7 C43.2,15.6 44.4,15.6 45.5,16.5 C46.6,17.4 47.5,19.7 48.7,21.3 C49.9,22.9 51.5,24.6 52.7,26.1 C53.9,27.6 55.6,28.9 55.9,30.1 C56.2,31.3 55.5,32.5 54.3,33.3 C53.1,34.1 50.4,34.6 48.7,34.9 C47.0,35.2 45.5,35.6 43.9,35.3 C42.3,35.0 40.7,33.9 39.1,33.3 C37.5,32.7 35.5,32.4 34.3,31.7 C33.1,31.0 31.9,30.4 31.9,29.3 C31.9,28.2 33.4,26.8 34.3,25.3 C35.2,23.8 36.6,21.8 37.5,20.5 C38.4,19.2 39.1,18.1 39.9,17.3 C40.7,16.5 41.4,15.8 42.3,15.7Z" fill="#a80010" filter="url(#b05)"/>
<defs><filter id="lo11" x="-5%" y="-5%" width="110%" height="110%" color-interpolation-filters="sRGB"><feTurbulence type="fractalNoise" baseFrequency="0.1" numOctaves="2" seed="80" result="n"/><feColorMatrix in="n" type="matrix" values="0 0 0 0 0.95 0 0 0 0 0.42 0 0 0 0 0.08 5 0 0 0 -3.14" result="c"/><feComposite in="c" in2="SourceAlpha" operator="in" result="m"/><feGaussianBlur in="m" stdDeviation="0.6"/></filter><filter id="ly11" x="-5%" y="-5%" width="110%" height="110%" color-interpolation-filters="sRGB"><feTurbulence type="fractalNoise" baseFrequency="0.11" numOctaves="2" seed="82" result="n"/><feColorMatrix in="n" type="matrix" values="0 0 0 0 0.95 0 0 0 0 0.88 0 0 0 0 0.35 5 0 0 0 -3.746" result="c"/><feComposite in="c" in2="SourceAlpha" operator="in" result="m"/><feGaussianBlur in="m" stdDeviation="0.6"/></filter></defs>
<path d="M42.0,13.0 C43.2,12.8 44.7,12.8 46.0,14.0 C47.3,15.2 48.5,18.0 50.0,20.0 C51.5,22.0 53.5,24.2 55.0,26.0 C56.5,27.8 58.7,29.5 59.0,31.0 C59.3,32.5 58.5,34.0 57.0,35.0 C55.5,36.0 52.2,36.6 50.0,37.0 C47.8,37.4 46.0,37.8 44.0,37.5 C42.0,37.2 40.0,35.8 38.0,35.0 C36.0,34.2 33.5,33.8 32.0,33.0 C30.5,32.2 29.0,31.3 29.0,30.0 C29.0,28.7 30.8,26.8 32.0,25.0 C33.2,23.2 34.8,20.7 36.0,19.0 C37.2,17.3 38.0,16.0 39.0,15.0 C40.0,14.0 40.8,13.2 42.0,13.0Z" fill="#000" filter="url(#lo11)"/>
<path d="M42.0,13.0 C43.2,12.8 44.7,12.8 46.0,14.0 C47.3,15.2 48.5,18.0 50.0,20.0 C51.5,22.0 53.5,24.2 55.0,26.0 C56.5,27.8 58.7,29.5 59.0,31.0 C59.3,32.5 58.5,34.0 57.0,35.0 C55.5,36.0 52.2,36.6 50.0,37.0 C47.8,37.4 46.0,37.8 44.0,37.5 C42.0,37.2 40.0,35.8 38.0,35.0 C36.0,34.2 33.5,33.8 32.0,33.0 C30.5,32.2 29.0,31.3 29.0,30.0 C29.0,28.7 30.8,26.8 32.0,25.0 C33.2,23.2 34.8,20.7 36.0,19.0 C37.2,17.3 38.0,16.0 39.0,15.0 C40.0,14.0 40.8,13.2 42.0,13.0Z" fill="#000" filter="url(#ly11)"/>
</g>
<line x1="40.5" y1="33.1" x2="45" y2="28.6" stroke="#e07020" stroke-width="1.8" stroke-linecap="round" filter="url(#b05)"/>
</g></g>
<clipPath id="pc7"><rect x="0" y="0" width="74.30" height="96.40"/></clipPath>
<g transform="translate(86,125.6)"><g clip-path="url(#pc7)">
<rect width="74.30" height="96.40" fill="#000"/>
<g filter="url(#b05)">
<path d="M17.3,-2.0 C24.1,-4.7 50.9,-4.7 57.7,-2.0 C64.5,0.7 57.9,8.7 58.0,14.0 C58.1,19.3 58.2,24.8 58.5,30.0 C58.8,35.2 59.1,39.9 59.5,45.0 C59.9,50.1 60.2,55.8 60.6,60.8 C61.0,65.8 62.1,71.8 62.0,75.3 C61.9,78.8 61.3,80.1 60.0,82.0 C58.7,83.9 56.5,85.4 54.0,86.5 C51.5,87.6 48.2,88.2 45.0,88.5 C41.8,88.8 38.3,88.8 35.0,88.5 C31.7,88.2 28.0,87.9 25.0,87.0 C22.0,86.1 19.0,85.0 17.0,83.0 C15.0,81.0 13.7,77.8 13.0,75.3 C12.3,72.8 12.8,70.4 13.0,68.0 C13.2,65.6 14.1,64.6 14.4,60.8 C14.7,57.0 14.7,50.1 15.0,45.0 C15.3,39.9 15.7,35.2 16.0,30.0 C16.3,24.8 16.8,19.3 17.0,14.0 C17.2,8.7 10.5,0.7 17.3,-2.0Z" fill="url(#mg)"/>
<path d="M27.0,82.5 C29.3,80.7 44.7,80.7 47.0,82.5 C49.3,84.3 43.3,91.7 41.0,93.5 C38.7,95.3 35.3,95.3 33.0,93.5 C30.7,91.7 24.7,84.3 27.0,82.5Z" fill="#7a7a78"/>
<path d="M18.8,86.8 C18.6,88.0 17.7,92.0 17.3,94.0 C16.9,96.0 16.6,98.2 16.5,99.0" fill="none" stroke="#828282" stroke-width="4.6" stroke-linecap="round" stroke-linejoin="round"/>
<path d="M53.4,88.2 C53.6,89.4 54.5,93.7 54.8,95.5 C55.1,97.3 55.0,98.4 55.0,99.0" fill="none" stroke="#828282" stroke-width="4.6" stroke-linecap="round" stroke-linejoin="round"/>
<path d="M37.0,90.0 C37.0,91.5 37.0,97.5 37.0,99.0" fill="none" stroke="#828282" stroke-width="5" stroke-linecap="round"/>
</g>
<path d="M17.3,-2.0 C24.1,-4.7 50.9,-4.7 57.7,-2.0 C64.5,0.7 57.9,8.7 58.0,14.0 C58.1,19.3 58.2,24.8 58.5,30.0 C58.8,35.2 59.1,39.9 59.5,45.0 C59.9,50.1 60.2,55.8 60.6,60.8 C61.0,65.8 62.1,71.8 62.0,75.3 C61.9,78.8 61.3,80.1 60.0,82.0 C58.7,83.9 56.5,85.4 54.0,86.5 C51.5,87.6 48.2,88.2 45.0,88.5 C41.8,88.8 38.3,88.8 35.0,88.5 C31.7,88.2 28.0,87.9 25.0,87.0 C22.0,86.1 19.0,85.0 17.0,83.0 C15.0,81.0 13.7,77.8 13.0,75.3 C12.3,72.8 12.8,70.4 13.0,68.0 C13.2,65.6 14.1,64.6 14.4,60.8 C14.7,57.0 14.7,50.1 15.0,45.0 C15.3,39.9 15.7,35.2 16.0,30.0 C16.3,24.8 16.8,19.3 17.0,14.0 C17.2,8.7 10.5,0.7 17.3,-2.0Z" fill="none" stroke="#000" stroke-opacity="0.22" stroke-width="3" filter="url(#b1)"/>
<defs>
<filter id="tg71" x="-5%" y="-5%" width="110%" height="110%" color-interpolation-filters="sRGB"><feTurbulence type="turbulence" baseFrequency="0.056" numOctaves="1" seed="71" result="n"/><feColorMatrix in="n" type="matrix" values="0 0 0 0 0.5 0 0 0 0 0.49 0 0 0 0 0.44 -9 0 0 0 0.85" result="c"/><feComposite in="c" in2="SourceAlpha" operator="in" result="m"/><feGaussianBlur in="m" stdDeviation="0.7"/></filter>
<filter id="tl71" x="-5%" y="-5%" width="110%" height="110%" color-interpolation-filters="sRGB"><feTurbulence type="fractalNoise" baseFrequency="0.12" numOctaves="2" seed="571" result="n"/><feColorMatrix in="n" type="matrix" values="0 0 0 0 0.15 0 0 0 0 0.42 0 0 0 0 1.0 4 0 0 0 -1.8" result="c"/><feComposite in="c" in2="SourceAlpha" operator="in" result="m"/><feGaussianBlur in="m" stdDeviation="0.8"/></filter>
<filter id="td71" x="-5%" y="-5%" width="110%" height="110%" color-interpolation-filters="sRGB"><feTurbulence type="fractalNoise" baseFrequency="0.1" numOctaves="2" seed="971" result="n"/><feColorMatrix in="n" type="matrix" values="0 0 0 0 0.08 0 0 0 0 0.03 0 0 0 0 0.62 4 0 0 0 -2.0" result="c"/><feComposite in="c" in2="SourceAlpha" operator="in" result="m"/><feGaussianBlur in="m" stdDeviation="0.8"/></filter>
<filter id="tc71" x="-5%" y="-5%" width="110%" height="110%" color-interpolation-filters="sRGB"><feTurbulence type="fractalNoise" baseFrequency="0.09" numOctaves="2" seed="771" result="n"/><feColorMatrix in="n" type="matrix" values="0 0 0 0 0.2 0 0 0 0 0.72 0 0 0 0 1.0 5 0 0 0 -3.45" result="c"/><feComposite in="c" in2="SourceAlpha" operator="in" result="m"/><feGaussianBlur in="m" stdDeviation="0.8"/></filter>
<filter id="bb71" x="-30%" y="-30%" width="160%" height="160%"><feGaussianBlur stdDeviation="1.0"/></filter>
</defs>
<g filter="url(#bb71)"><path d="M24.5,5.0 C26.1,4.0 30.4,4.2 34.0,4.0 C37.6,3.8 42.8,3.6 46.0,3.8 C49.2,4.0 51.8,4.0 53.0,5.0 C54.2,6.0 54.3,8.5 53.5,10.0 C52.7,11.5 50.6,13.2 48.0,14.0 C45.4,14.8 41.3,15.2 38.0,15.0 C34.7,14.8 30.2,13.8 28.0,13.0 C25.8,12.2 25.1,11.3 24.5,10.0 C23.9,8.7 22.9,6.0 24.5,5.0Z" fill="#1c22e8" fill-opacity="1.0"/>
<path d="M24.5,5.0 C26.1,4.0 30.4,4.2 34.0,4.0 C37.6,3.8 42.8,3.6 46.0,3.8 C49.2,4.0 51.8,4.0 53.0,5.0 C54.2,6.0 54.3,8.5 53.5,10.0 C52.7,11.5 50.6,13.2 48.0,14.0 C45.4,14.8 41.3,15.2 38.0,15.0 C34.7,14.8 30.2,13.8 28.0,13.0 C25.8,12.2 25.1,11.3 24.5,10.0 C23.9,8.7 22.9,6.0 24.5,5.0Z" fill="#000" filter="url(#td71)"/>
<path d="M24.5,5.0 C26.1,4.0 30.4,4.2 34.0,4.0 C37.6,3.8 42.8,3.6 46.0,3.8 C49.2,4.0 51.8,4.0 53.0,5.0 C54.2,6.0 54.3,8.5 53.5,10.0 C52.7,11.5 50.6,13.2 48.0,14.0 C45.4,14.8 41.3,15.2 38.0,15.0 C34.7,14.8 30.2,13.8 28.0,13.0 C25.8,12.2 25.1,11.3 24.5,10.0 C23.9,8.7 22.9,6.0 24.5,5.0Z" fill="#000" filter="url(#tl71)"/>
<path d="M24.5,5.0 C26.1,4.0 30.4,4.2 34.0,4.0 C37.6,3.8 42.8,3.6 46.0,3.8 C49.2,4.0 51.8,4.0 53.0,5.0 C54.2,6.0 54.3,8.5 53.5,10.0 C52.7,11.5 50.6,13.2 48.0,14.0 C45.4,14.8 41.3,15.2 38.0,15.0 C34.7,14.8 30.2,13.8 28.0,13.0 C25.8,12.2 25.1,11.3 24.5,10.0 C23.9,8.7 22.9,6.0 24.5,5.0Z" fill="#000" filter="url(#tc71)"/>
<path d="M24.5,5.0 C26.1,4.0 30.4,4.2 34.0,4.0 C37.6,3.8 42.8,3.6 46.0,3.8 C49.2,4.0 51.8,4.0 53.0,5.0 C54.2,6.0 54.3,8.5 53.5,10.0 C52.7,11.5 50.6,13.2 48.0,14.0 C45.4,14.8 41.3,15.2 38.0,15.0 C34.7,14.8 30.2,13.8 28.0,13.0 C25.8,12.2 25.1,11.3 24.5,10.0 C23.9,8.7 22.9,6.0 24.5,5.0Z" fill="#000" filter="url(#tg71)"/></g>
<ellipse cx="48.4" cy="10.2" rx="3.6" ry="3.2" fill="#35d0ff" fill-opacity="1" filter="url(#b05)"/>
<defs>
<filter id="tg72" x="-5%" y="-5%" width="110%" height="110%" color-interpolation-filters="sRGB"><feTurbulence type="turbulence" baseFrequency="0.056" numOctaves="1" seed="72" result="n"/><feColorMatrix in="n" type="matrix" values="0 0 0 0 0.5 0 0 0 0 0.49 0 0 0 0 0.44 -9 0 0 0 0.85" result="c"/><feComposite in="c" in2="SourceAlpha" operator="in" result="m"/><feGaussianBlur in="m" stdDeviation="0.7"/></filter>
<filter id="tl72" x="-5%" y="-5%" width="110%" height="110%" color-interpolation-filters="sRGB"><feTurbulence type="fractalNoise" baseFrequency="0.12" numOctaves="2" seed="572" result="n"/><feColorMatrix in="n" type="matrix" values="0 0 0 0 0.15 0 0 0 0 0.42 0 0 0 0 1.0 4 0 0 0 -1.8" result="c"/><feComposite in="c" in2="SourceAlpha" operator="in" result="m"/><feGaussianBlur in="m" stdDeviation="0.8"/></filter>
<filter id="td72" x="-5%" y="-5%" width="110%" height="110%" color-interpolation-filters="sRGB"><feTurbulence type="fractalNoise" baseFrequency="0.1" numOctaves="2" seed="972" result="n"/><feColorMatrix in="n" type="matrix" values="0 0 0 0 0.08 0 0 0 0 0.03 0 0 0 0 0.62 4 0 0 0 -2.0" result="c"/><feComposite in="c" in2="SourceAlpha" operator="in" result="m"/><feGaussianBlur in="m" stdDeviation="0.8"/></filter>
<filter id="tc72" x="-5%" y="-5%" width="110%" height="110%" color-interpolation-filters="sRGB"><feTurbulence type="fractalNoise" baseFrequency="0.09" numOctaves="2" seed="772" result="n"/><feColorMatrix in="n" type="matrix" values="0 0 0 0 0.2 0 0 0 0 0.72 0 0 0 0 1.0 5 0 0 0 -3.45" result="c"/><feComposite in="c" in2="SourceAlpha" operator="in" result="m"/><feGaussianBlur in="m" stdDeviation="0.8"/></filter>
<filter id="bb72" x="-30%" y="-30%" width="160%" height="160%"><feGaussianBlur stdDeviation="1.2"/></filter>
</defs>
<g filter="url(#bb72)"><path d="M16.0,36.0 C17.6,34.0 22.0,33.7 24.0,34.0 C26.0,34.3 24.0,36.7 28.0,38.0 C32.0,39.3 43.7,42.0 48.0,42.0 C52.3,42.0 52.3,37.3 54.0,38.0 C55.7,38.7 57.0,42.7 58.0,46.0 C59.0,49.3 59.5,54.0 60.0,58.0 C60.5,62.0 61.3,66.3 61.0,70.0 C60.7,73.7 59.8,77.3 58.0,80.0 C56.2,82.7 52.3,84.0 50.0,86.0 C47.7,88.0 47.0,91.0 44.0,92.0 C41.0,93.0 35.3,93.0 32.0,92.0 C28.7,91.0 26.7,88.0 24.0,86.0 C21.3,84.0 17.8,82.7 16.0,80.0 C14.2,77.3 13.4,73.7 13.0,70.0 C12.6,66.3 13.2,62.0 13.5,58.0 C13.8,54.0 14.1,49.7 14.5,46.0 C14.9,42.3 14.4,38.0 16.0,36.0Z" fill="#1c22e8" fill-opacity="1.0"/>
<path d="M16.0,36.0 C17.6,34.0 22.0,33.7 24.0,34.0 C26.0,34.3 24.0,36.7 28.0,38.0 C32.0,39.3 43.7,42.0 48.0,42.0 C52.3,42.0 52.3,37.3 54.0,38.0 C55.7,38.7 57.0,42.7 58.0,46.0 C59.0,49.3 59.5,54.0 60.0,58.0 C60.5,62.0 61.3,66.3 61.0,70.0 C60.7,73.7 59.8,77.3 58.0,80.0 C56.2,82.7 52.3,84.0 50.0,86.0 C47.7,88.0 47.0,91.0 44.0,92.0 C41.0,93.0 35.3,93.0 32.0,92.0 C28.7,91.0 26.7,88.0 24.0,86.0 C21.3,84.0 17.8,82.7 16.0,80.0 C14.2,77.3 13.4,73.7 13.0,70.0 C12.6,66.3 13.2,62.0 13.5,58.0 C13.8,54.0 14.1,49.7 14.5,46.0 C14.9,42.3 14.4,38.0 16.0,36.0Z" fill="#000" filter="url(#td72)"/>
<path d="M16.0,36.0 C17.6,34.0 22.0,33.7 24.0,34.0 C26.0,34.3 24.0,36.7 28.0,38.0 C32.0,39.3 43.7,42.0 48.0,42.0 C52.3,42.0 52.3,37.3 54.0,38.0 C55.7,38.7 57.0,42.7 58.0,46.0 C59.0,49.3 59.5,54.0 60.0,58.0 C60.5,62.0 61.3,66.3 61.0,70.0 C60.7,73.7 59.8,77.3 58.0,80.0 C56.2,82.7 52.3,84.0 50.0,86.0 C47.7,88.0 47.0,91.0 44.0,92.0 C41.0,93.0 35.3,93.0 32.0,92.0 C28.7,91.0 26.7,88.0 24.0,86.0 C21.3,84.0 17.8,82.7 16.0,80.0 C14.2,77.3 13.4,73.7 13.0,70.0 C12.6,66.3 13.2,62.0 13.5,58.0 C13.8,54.0 14.1,49.7 14.5,46.0 C14.9,42.3 14.4,38.0 16.0,36.0Z" fill="#000" filter="url(#tl72)"/>
<path d="M16.0,36.0 C17.6,34.0 22.0,33.7 24.0,34.0 C26.0,34.3 24.0,36.7 28.0,38.0 C32.0,39.3 43.7,42.0 48.0,42.0 C52.3,42.0 52.3,37.3 54.0,38.0 C55.7,38.7 57.0,42.7 58.0,46.0 C59.0,49.3 59.5,54.0 60.0,58.0 C60.5,62.0 61.3,66.3 61.0,70.0 C60.7,73.7 59.8,77.3 58.0,80.0 C56.2,82.7 52.3,84.0 50.0,86.0 C47.7,88.0 47.0,91.0 44.0,92.0 C41.0,93.0 35.3,93.0 32.0,92.0 C28.7,91.0 26.7,88.0 24.0,86.0 C21.3,84.0 17.8,82.7 16.0,80.0 C14.2,77.3 13.4,73.7 13.0,70.0 C12.6,66.3 13.2,62.0 13.5,58.0 C13.8,54.0 14.1,49.7 14.5,46.0 C14.9,42.3 14.4,38.0 16.0,36.0Z" fill="#000" filter="url(#tc72)"/>
<path d="M16.0,36.0 C17.6,34.0 22.0,33.7 24.0,34.0 C26.0,34.3 24.0,36.7 28.0,38.0 C32.0,39.3 43.7,42.0 48.0,42.0 C52.3,42.0 52.3,37.3 54.0,38.0 C55.7,38.7 57.0,42.7 58.0,46.0 C59.0,49.3 59.5,54.0 60.0,58.0 C60.5,62.0 61.3,66.3 61.0,70.0 C60.7,73.7 59.8,77.3 58.0,80.0 C56.2,82.7 52.3,84.0 50.0,86.0 C47.7,88.0 47.0,91.0 44.0,92.0 C41.0,93.0 35.3,93.0 32.0,92.0 C28.7,91.0 26.7,88.0 24.0,86.0 C21.3,84.0 17.8,82.7 16.0,80.0 C14.2,77.3 13.4,73.7 13.0,70.0 C12.6,66.3 13.2,62.0 13.5,58.0 C13.8,54.0 14.1,49.7 14.5,46.0 C14.9,42.3 14.4,38.0 16.0,36.0Z" fill="#000" filter="url(#tg72)"/></g>
<ellipse cx="21.8" cy="47.3" rx="2.5" ry="1.5" fill="#2c78ff" fill-opacity="0.8" filter="url(#b1)"/>
<ellipse cx="28.7" cy="45.1" rx="2.6" ry="2.2" fill="#2c78ff" fill-opacity="0.8" filter="url(#b1)"/>
<ellipse cx="32.3" cy="46.4" rx="3.6" ry="2.4" fill="#2c78ff" fill-opacity="0.8" filter="url(#b1)"/>
<ellipse cx="37.8" cy="44.7" rx="3.4" ry="2.3" fill="#2c78ff" fill-opacity="0.8" filter="url(#b1)"/>
<ellipse cx="45.8" cy="44.8" rx="3.3" ry="1.7" fill="#40d0f0" fill-opacity="0.8" filter="url(#b1)"/>
<ellipse cx="54.4" cy="44.6" rx="2.8" ry="1.7" fill="#2c78ff" fill-opacity="0.8" filter="url(#b1)"/>
<ellipse cx="25.5" cy="32" rx="2" ry="4" fill="#35d0ff" fill-opacity="0.8" filter="url(#b05)"/>
<ellipse cx="24" cy="27" rx="2.4" ry="2" fill="#2f7cff" fill-opacity="1" filter="url(#b05)"/>
<g filter="url(#b05)">
<path d="M34.0,19.6 C35.2,18.5 38.7,18.9 40.0,19.6 C41.3,20.3 41.7,22.8 42.0,24.0 C42.3,25.2 41.0,26.2 42.0,27.0 C43.0,27.8 46.3,27.8 48.0,29.0 C49.7,30.2 51.5,32.3 52.0,34.0 C52.5,35.7 51.8,37.5 51.0,39.0 C50.2,40.5 48.8,41.9 47.0,42.7 C45.2,43.5 42.2,44.1 40.0,44.0 C37.8,43.9 35.7,42.7 34.0,42.0 C32.3,41.3 31.3,40.7 30.0,40.0 C28.7,39.3 26.6,39.3 26.0,38.0 C25.4,36.7 26.0,33.7 26.5,32.0 C27.0,30.3 27.9,29.0 29.0,28.0 C30.1,27.0 32.2,27.4 33.0,26.0 C33.8,24.6 32.8,20.7 34.0,19.6Z" fill="#1c30f0" stroke="#1c30f0" stroke-width="7.7" stroke-linejoin="round" opacity="0.85" filter="url(#b15)"/>
<path d="M34.0,19.6 C35.2,18.5 38.7,18.9 40.0,19.6 C41.3,20.3 41.7,22.8 42.0,24.0 C42.3,25.2 41.0,26.2 42.0,27.0 C43.0,27.8 46.3,27.8 48.0,29.0 C49.7,30.2 51.5,32.3 52.0,34.0 C52.5,35.7 51.8,37.5 51.0,39.0 C50.2,40.5 48.8,41.9 47.0,42.7 C45.2,43.5 42.2,44.1 40.0,44.0 C37.8,43.9 35.7,42.7 34.0,42.0 C32.3,41.3 31.3,40.7 30.0,40.0 C28.7,39.3 26.6,39.3 26.0,38.0 C25.4,36.7 26.0,33.7 26.5,32.0 C27.0,30.3 27.9,29.0 29.0,28.0 C30.1,27.0 32.2,27.4 33.0,26.0 C33.8,24.6 32.8,20.7 34.0,19.6Z" fill="#2070ff" stroke="#2070ff" stroke-width="3.9" stroke-linejoin="round" opacity="0.9" filter="url(#b05)"/>
<path d="M34.0,19.6 C35.2,18.5 38.7,18.9 40.0,19.6 C41.3,20.3 41.7,22.8 42.0,24.0 C42.3,25.2 41.0,26.2 42.0,27.0 C43.0,27.8 46.3,27.8 48.0,29.0 C49.7,30.2 51.5,32.3 52.0,34.0 C52.5,35.7 51.8,37.5 51.0,39.0 C50.2,40.5 48.8,41.9 47.0,42.7 C45.2,43.5 42.2,44.1 40.0,44.0 C37.8,43.9 35.7,42.7 34.0,42.0 C32.3,41.3 31.3,40.7 30.0,40.0 C28.7,39.3 26.6,39.3 26.0,38.0 C25.4,36.7 26.0,33.7 26.5,32.0 C27.0,30.3 27.9,29.0 29.0,28.0 C30.1,27.0 32.2,27.4 33.0,26.0 C33.8,24.6 32.8,20.7 34.0,19.6Z" fill="#40d8f0" stroke="#40d8f0" stroke-width="2.1" stroke-linejoin="round"/>
<path d="M34.0,19.6 C35.2,18.5 38.7,18.9 40.0,19.6 C41.3,20.3 41.7,22.8 42.0,24.0 C42.3,25.2 41.0,26.2 42.0,27.0 C43.0,27.8 46.3,27.8 48.0,29.0 C49.7,30.2 51.5,32.3 52.0,34.0 C52.5,35.7 51.8,37.5 51.0,39.0 C50.2,40.5 48.8,41.9 47.0,42.7 C45.2,43.5 42.2,44.1 40.0,44.0 C37.8,43.9 35.7,42.7 34.0,42.0 C32.3,41.3 31.3,40.7 30.0,40.0 C28.7,39.3 26.6,39.3 26.0,38.0 C25.4,36.7 26.0,33.7 26.5,32.0 C27.0,30.3 27.9,29.0 29.0,28.0 C30.1,27.0 32.2,27.4 33.0,26.0 C33.8,24.6 32.8,20.7 34.0,19.6Z" fill="#e8e070" stroke="#e8e070" stroke-width="0.9" stroke-linejoin="round"/>
<path d="M34.0,19.6 C35.2,18.5 38.7,18.9 40.0,19.6 C41.3,20.3 41.7,22.8 42.0,24.0 C42.3,25.2 41.0,26.2 42.0,27.0 C43.0,27.8 46.3,27.8 48.0,29.0 C49.7,30.2 51.5,32.3 52.0,34.0 C52.5,35.7 51.8,37.5 51.0,39.0 C50.2,40.5 48.8,41.9 47.0,42.7 C45.2,43.5 42.2,44.1 40.0,44.0 C37.8,43.9 35.7,42.7 34.0,42.0 C32.3,41.3 31.3,40.7 30.0,40.0 C28.7,39.3 26.6,39.3 26.0,38.0 C25.4,36.7 26.0,33.7 26.5,32.0 C27.0,30.3 27.9,29.0 29.0,28.0 C30.1,27.0 32.2,27.4 33.0,26.0 C33.8,24.6 32.8,20.7 34.0,19.6Z" fill="#c01010"/>
<path d="M34.9,22.1 C35.8,21.3 38.6,21.6 39.7,22.1 C40.7,22.7 41.0,24.7 41.3,25.7 C41.5,26.7 40.5,27.4 41.3,28.1 C42.1,28.7 44.7,28.7 46.1,29.7 C47.4,30.6 48.9,32.3 49.3,33.7 C49.7,35.0 49.1,36.5 48.5,37.7 C47.8,38.8 46.7,40.0 45.3,40.6 C43.8,41.3 41.4,41.8 39.7,41.7 C37.9,41.6 36.2,40.6 34.9,40.1 C33.5,39.5 32.7,39.0 31.7,38.5 C30.6,37.9 28.9,37.9 28.5,36.9 C28.0,35.8 28.5,33.4 28.9,32.1 C29.3,30.7 30.0,29.7 30.9,28.9 C31.7,28.1 33.4,28.4 34.1,27.3 C34.7,26.1 33.9,23.0 34.9,22.1Z" fill="#a80010" filter="url(#b05)"/>
<defs><filter id="lo12" x="-5%" y="-5%" width="110%" height="110%" color-interpolation-filters="sRGB"><feTurbulence type="fractalNoise" baseFrequency="0.1" numOctaves="2" seed="87" result="n"/><feColorMatrix in="n" type="matrix" values="0 0 0 0 0.95 0 0 0 0 0.42 0 0 0 0 0.08 5 0 0 0 -3.1" result="c"/><feComposite in="c" in2="SourceAlpha" operator="in" result="m"/><feGaussianBlur in="m" stdDeviation="0.6"/></filter><filter id="ly12" x="-5%" y="-5%" width="110%" height="110%" color-interpolation-filters="sRGB"><feTurbulence type="fractalNoise" baseFrequency="0.11" numOctaves="2" seed="89" result="n"/><feColorMatrix in="n" type="matrix" values="0 0 0 0 0.95 0 0 0 0 0.88 0 0 0 0 0.35 5 0 0 0 -3.71" result="c"/><feComposite in="c" in2="SourceAlpha" operator="in" result="m"/><feGaussianBlur in="m" stdDeviation="0.6"/></filter></defs>
<path d="M34.0,19.6 C35.2,18.5 38.7,18.9 40.0,19.6 C41.3,20.3 41.7,22.8 42.0,24.0 C42.3,25.2 41.0,26.2 42.0,27.0 C43.0,27.8 46.3,27.8 48.0,29.0 C49.7,30.2 51.5,32.3 52.0,34.0 C52.5,35.7 51.8,37.5 51.0,39.0 C50.2,40.5 48.8,41.9 47.0,42.7 C45.2,43.5 42.2,44.1 40.0,44.0 C37.8,43.9 35.7,42.7 34.0,42.0 C32.3,41.3 31.3,40.7 30.0,40.0 C28.7,39.3 26.6,39.3 26.0,38.0 C25.4,36.7 26.0,33.7 26.5,32.0 C27.0,30.3 27.9,29.0 29.0,28.0 C30.1,27.0 32.2,27.4 33.0,26.0 C33.8,24.6 32.8,20.7 34.0,19.6Z" fill="#000" filter="url(#lo12)"/>
<path d="M34.0,19.6 C35.2,18.5 38.7,18.9 40.0,19.6 C41.3,20.3 41.7,22.8 42.0,24.0 C42.3,25.2 41.0,26.2 42.0,27.0 C43.0,27.8 46.3,27.8 48.0,29.0 C49.7,30.2 51.5,32.3 52.0,34.0 C52.5,35.7 51.8,37.5 51.0,39.0 C50.2,40.5 48.8,41.9 47.0,42.7 C45.2,43.5 42.2,44.1 40.0,44.0 C37.8,43.9 35.7,42.7 34.0,42.0 C32.3,41.3 31.3,40.7 30.0,40.0 C28.7,39.3 26.6,39.3 26.0,38.0 C25.4,36.7 26.0,33.7 26.5,32.0 C27.0,30.3 27.9,29.0 29.0,28.0 C30.1,27.0 32.2,27.4 33.0,26.0 C33.8,24.6 32.8,20.7 34.0,19.6Z" fill="#000" filter="url(#ly12)"/>
</g>
<path d="M40.5,33.5 Q35,35 36.5,38.5 Q38,40.5 41.5,39" fill="none" stroke="#f0f0b0" stroke-width="1.4" filter="url(#b05)"/>
<ellipse cx="38.2" cy="73.8" rx="3.4" ry="4" fill="#35d0ff" fill-opacity="1" filter="url(#b05)"/>
<ellipse cx="38.2" cy="89.5" rx="8" ry="2.6" fill="#2f7cff" fill-opacity="0.8" filter="url(#b05)"/>
</g></g>
<clipPath id="pc8"><rect x="0" y="0" width="74.50" height="96.40"/></clipPath>
<g transform="translate(164.3,125.6)"><g clip-path="url(#pc8)">
<rect width="74.50" height="96.40" fill="#000"/>
<g filter="url(#b05)">
<path d="M20.0,-2.0 C26.1,-4.7 49.9,-4.7 56.0,-2.0 C62.1,0.7 56.2,9.3 56.5,14.0 C56.8,18.7 56.8,22.0 57.5,26.0 C58.2,30.0 59.5,34.0 60.5,38.0 C61.5,42.0 63.0,46.7 63.5,50.0 C64.0,53.3 63.7,55.3 63.5,58.0 C63.3,60.7 63.0,63.9 62.5,66.0 C62.0,68.2 61.9,69.2 60.6,70.9 C59.4,72.6 57.4,74.5 55.0,76.0 C52.6,77.5 49.2,79.2 46.0,80.0 C42.8,80.8 39.0,81.2 36.0,81.0 C33.0,80.8 30.4,80.0 28.0,79.0 C25.6,78.0 23.8,76.5 21.6,75.0 C19.4,73.5 16.4,71.8 15.0,70.0 C13.6,68.2 13.6,66.5 13.0,64.0 C12.4,61.5 11.7,58.0 11.5,55.0 C11.3,52.0 11.6,49.2 12.0,46.0 C12.4,42.8 13.2,39.0 14.0,36.0 C14.8,33.0 16.1,31.7 17.0,28.0 C17.9,24.3 19.0,19.0 19.5,14.0 C20.0,9.0 13.9,0.7 20.0,-2.0Z" fill="url(#mg)"/>
<path d="M26.5,75.0 C28.8,73.2 44.2,73.2 46.5,75.0 C48.8,76.8 42.8,84.2 40.5,86.0 C38.2,87.8 34.8,87.8 32.5,86.0 C30.2,84.2 24.2,76.8 26.5,75.0Z" fill="#7a7a78"/>
<path d="M21.6,73.8 C21.1,75.2 20.2,80.3 18.8,82.5 C17.4,84.7 14.5,85.1 13.0,86.8 C11.5,88.5 10.7,90.9 10.0,92.6 C9.3,94.3 9.2,96.3 9.0,97.0" fill="none" stroke="#828282" stroke-width="4.6" stroke-linecap="round" stroke-linejoin="round"/>
<path d="M52.0,75.3 C52.5,76.2 53.1,79.6 54.8,81.0 C56.5,82.4 60.1,82.5 62.0,83.9 C63.9,85.4 65.4,88.2 66.4,89.7 C67.4,91.2 67.7,92.5 68.0,93.0" fill="none" stroke="#828282" stroke-width="4.6" stroke-linecap="round" stroke-linejoin="round"/>
<path d="M36.5,81.0 C36.5,84.0 36.5,96.0 36.5,99.0" fill="none" stroke="#828282" stroke-width="5" stroke-linecap="round"/>
</g>
<path d="M20.0,-2.0 C26.1,-4.7 49.9,-4.7 56.0,-2.0 C62.1,0.7 56.2,9.3 56.5,14.0 C56.8,18.7 56.8,22.0 57.5,26.0 C58.2,30.0 59.5,34.0 60.5,38.0 C61.5,42.0 63.0,46.7 63.5,50.0 C64.0,53.3 63.7,55.3 63.5,58.0 C63.3,60.7 63.0,63.9 62.5,66.0 C62.0,68.2 61.9,69.2 60.6,70.9 C59.4,72.6 57.4,74.5 55.0,76.0 C52.6,77.5 49.2,79.2 46.0,80.0 C42.8,80.8 39.0,81.2 36.0,81.0 C33.0,80.8 30.4,80.0 28.0,79.0 C25.6,78.0 23.8,76.5 21.6,75.0 C19.4,73.5 16.4,71.8 15.0,70.0 C13.6,68.2 13.6,66.5 13.0,64.0 C12.4,61.5 11.7,58.0 11.5,55.0 C11.3,52.0 11.6,49.2 12.0,46.0 C12.4,42.8 13.2,39.0 14.0,36.0 C14.8,33.0 16.1,31.7 17.0,28.0 C17.9,24.3 19.0,19.0 19.5,14.0 C20.0,9.0 13.9,0.7 20.0,-2.0Z" fill="none" stroke="#000" stroke-opacity="0.22" stroke-width="3" filter="url(#b1)"/>
<ellipse cx="36" cy="9.5" rx="3.6" ry="2.4" fill="#50d0c0" fill-opacity="1" filter="url(#b05)"/>
<defs>
<filter id="tg81" x="-5%" y="-5%" width="110%" height="110%" color-interpolation-filters="sRGB"><feTurbulence type="turbulence" baseFrequency="0.056" numOctaves="1" seed="81" result="n"/><feColorMatrix in="n" type="matrix" values="0 0 0 0 0.5 0 0 0 0 0.49 0 0 0 0 0.44 -9 0 0 0 0.85" result="c"/><feComposite in="c" in2="SourceAlpha" operator="in" result="m"/><feGaussianBlur in="m" stdDeviation="0.7"/></filter>
<filter id="tl81" x="-5%" y="-5%" width="110%" height="110%" color-interpolation-filters="sRGB"><feTurbulence type="fractalNoise" baseFrequency="0.12" numOctaves="2" seed="581" result="n"/><feColorMatrix in="n" type="matrix" values="0 0 0 0 0.15 0 0 0 0 0.42 0 0 0 0 1.0 4 0 0 0 -1.8" result="c"/><feComposite in="c" in2="SourceAlpha" operator="in" result="m"/><feGaussianBlur in="m" stdDeviation="0.8"/></filter>
<filter id="td81" x="-5%" y="-5%" width="110%" height="110%" color-interpolation-filters="sRGB"><feTurbulence type="fractalNoise" baseFrequency="0.1" numOctaves="2" seed="981" result="n"/><feColorMatrix in="n" type="matrix" values="0 0 0 0 0.08 0 0 0 0 0.03 0 0 0 0 0.62 4 0 0 0 -2.0" result="c"/><feComposite in="c" in2="SourceAlpha" operator="in" result="m"/><feGaussianBlur in="m" stdDeviation="0.8"/></filter>
<filter id="tc81" x="-5%" y="-5%" width="110%" height="110%" color-interpolation-filters="sRGB"><feTurbulence type="fractalNoise" baseFrequency="0.09" numOctaves="2" seed="781" result="n"/><feColorMatrix in="n" type="matrix" values="0 0 0 0 0.2 0 0 0 0 0.72 0 0 0 0 1.0 5 0 0 0 -3.45" result="c"/><feComposite in="c" in2="SourceAlpha" operator="in" result="m"/><feGaussianBlur in="m" stdDeviation="0.8"/></filter>
<filter id="bb81" x="-30%" y="-30%" width="160%" height="160%"><feGaussianBlur stdDeviation="1.2"/></filter>
</defs>
<g filter="url(#bb81)"><path d="M14.5,28.0 C15.9,26.5 19.8,25.7 22.0,26.0 C24.2,26.3 25.0,28.7 28.0,30.0 C31.0,31.3 36.7,33.7 40.0,34.0 C43.3,34.3 45.7,33.7 48.0,32.0 C50.3,30.3 52.3,24.0 54.0,24.0 C55.7,24.0 56.7,29.0 58.0,32.0 C59.3,35.0 61.2,38.3 62.0,42.0 C62.8,45.7 63.0,50.3 63.0,54.0 C63.0,57.7 62.8,61.0 62.0,64.0 C61.2,67.0 60.0,69.7 58.0,72.0 C56.0,74.3 53.0,76.5 50.0,78.0 C47.0,79.5 43.3,80.8 40.0,81.0 C36.7,81.2 33.0,80.2 30.0,79.0 C27.0,77.8 24.5,76.0 22.0,74.0 C19.5,72.0 16.7,70.0 15.0,67.0 C13.3,64.0 12.4,59.8 12.0,56.0 C11.6,52.2 12.2,47.5 12.5,44.0 C12.8,40.5 13.2,37.7 13.5,35.0 C13.8,32.3 13.1,29.5 14.5,28.0Z" fill="#1c22e8" fill-opacity="1.0"/>
<path d="M14.5,28.0 C15.9,26.5 19.8,25.7 22.0,26.0 C24.2,26.3 25.0,28.7 28.0,30.0 C31.0,31.3 36.7,33.7 40.0,34.0 C43.3,34.3 45.7,33.7 48.0,32.0 C50.3,30.3 52.3,24.0 54.0,24.0 C55.7,24.0 56.7,29.0 58.0,32.0 C59.3,35.0 61.2,38.3 62.0,42.0 C62.8,45.7 63.0,50.3 63.0,54.0 C63.0,57.7 62.8,61.0 62.0,64.0 C61.2,67.0 60.0,69.7 58.0,72.0 C56.0,74.3 53.0,76.5 50.0,78.0 C47.0,79.5 43.3,80.8 40.0,81.0 C36.7,81.2 33.0,80.2 30.0,79.0 C27.0,77.8 24.5,76.0 22.0,74.0 C19.5,72.0 16.7,70.0 15.0,67.0 C13.3,64.0 12.4,59.8 12.0,56.0 C11.6,52.2 12.2,47.5 12.5,44.0 C12.8,40.5 13.2,37.7 13.5,35.0 C13.8,32.3 13.1,29.5 14.5,28.0Z" fill="#000" filter="url(#td81)"/>
<path d="M14.5,28.0 C15.9,26.5 19.8,25.7 22.0,26.0 C24.2,26.3 25.0,28.7 28.0,30.0 C31.0,31.3 36.7,33.7 40.0,34.0 C43.3,34.3 45.7,33.7 48.0,32.0 C50.3,30.3 52.3,24.0 54.0,24.0 C55.7,24.0 56.7,29.0 58.0,32.0 C59.3,35.0 61.2,38.3 62.0,42.0 C62.8,45.7 63.0,50.3 63.0,54.0 C63.0,57.7 62.8,61.0 62.0,64.0 C61.2,67.0 60.0,69.7 58.0,72.0 C56.0,74.3 53.0,76.5 50.0,78.0 C47.0,79.5 43.3,80.8 40.0,81.0 C36.7,81.2 33.0,80.2 30.0,79.0 C27.0,77.8 24.5,76.0 22.0,74.0 C19.5,72.0 16.7,70.0 15.0,67.0 C13.3,64.0 12.4,59.8 12.0,56.0 C11.6,52.2 12.2,47.5 12.5,44.0 C12.8,40.5 13.2,37.7 13.5,35.0 C13.8,32.3 13.1,29.5 14.5,28.0Z" fill="#000" filter="url(#tl81)"/>
<path d="M14.5,28.0 C15.9,26.5 19.8,25.7 22.0,26.0 C24.2,26.3 25.0,28.7 28.0,30.0 C31.0,31.3 36.7,33.7 40.0,34.0 C43.3,34.3 45.7,33.7 48.0,32.0 C50.3,30.3 52.3,24.0 54.0,24.0 C55.7,24.0 56.7,29.0 58.0,32.0 C59.3,35.0 61.2,38.3 62.0,42.0 C62.8,45.7 63.0,50.3 63.0,54.0 C63.0,57.7 62.8,61.0 62.0,64.0 C61.2,67.0 60.0,69.7 58.0,72.0 C56.0,74.3 53.0,76.5 50.0,78.0 C47.0,79.5 43.3,80.8 40.0,81.0 C36.7,81.2 33.0,80.2 30.0,79.0 C27.0,77.8 24.5,76.0 22.0,74.0 C19.5,72.0 16.7,70.0 15.0,67.0 C13.3,64.0 12.4,59.8 12.0,56.0 C11.6,52.2 12.2,47.5 12.5,44.0 C12.8,40.5 13.2,37.7 13.5,35.0 C13.8,32.3 13.1,29.5 14.5,28.0Z" fill="#000" filter="url(#tc81)"/>
<path d="M14.5,28.0 C15.9,26.5 19.8,25.7 22.0,26.0 C24.2,26.3 25.0,28.7 28.0,30.0 C31.0,31.3 36.7,33.7 40.0,34.0 C43.3,34.3 45.7,33.7 48.0,32.0 C50.3,30.3 52.3,24.0 54.0,24.0 C55.7,24.0 56.7,29.0 58.0,32.0 C59.3,35.0 61.2,38.3 62.0,42.0 C62.8,45.7 63.0,50.3 63.0,54.0 C63.0,57.7 62.8,61.0 62.0,64.0 C61.2,67.0 60.0,69.7 58.0,72.0 C56.0,74.3 53.0,76.5 50.0,78.0 C47.0,79.5 43.3,80.8 40.0,81.0 C36.7,81.2 33.0,80.2 30.0,79.0 C27.0,77.8 24.5,76.0 22.0,74.0 C19.5,72.0 16.7,70.0 15.0,67.0 C13.3,64.0 12.4,59.8 12.0,56.0 C11.6,52.2 12.2,47.5 12.5,44.0 C12.8,40.5 13.2,37.7 13.5,35.0 C13.8,32.3 13.1,29.5 14.5,28.0Z" fill="#000" filter="url(#tg81)"/></g>
<ellipse cx="20.1" cy="37.0" rx="2.9" ry="2.1" fill="#2c78ff" fill-opacity="0.8" filter="url(#b1)"/>
<ellipse cx="24.8" cy="35.7" rx="3.8" ry="1.6" fill="#40d0f0" fill-opacity="0.8" filter="url(#b1)"/>
<ellipse cx="30.9" cy="36.8" rx="2.7" ry="2.4" fill="#2c78ff" fill-opacity="0.8" filter="url(#b1)"/>
<ellipse cx="37.3" cy="35.4" rx="3.3" ry="1.9" fill="#2c78ff" fill-opacity="0.8" filter="url(#b1)"/>
<ellipse cx="45.4" cy="33.8" rx="3.3" ry="1.5" fill="#2c78ff" fill-opacity="0.8" filter="url(#b1)"/>
<ellipse cx="50.1" cy="32.1" rx="3.7" ry="2.4" fill="#30a8ff" fill-opacity="0.8" filter="url(#b1)"/>
<ellipse cx="18" cy="33" rx="3" ry="5" fill="#35d0ff" fill-opacity="0.8" filter="url(#b05)"/>
<ellipse cx="15.5" cy="44" rx="2.2" ry="3" fill="#35d0ff" fill-opacity="0.7" filter="url(#b05)"/>
<ellipse cx="52" cy="28" rx="2.5" ry="4" fill="#35d0ff" fill-opacity="0.6" filter="url(#b05)"/>
<g filter="url(#b05)">
<path d="M24.5,21.0 C25.4,19.5 27.6,17.2 29.0,16.0 C30.4,14.8 31.5,14.3 33.0,14.0 C34.5,13.7 36.3,13.8 38.0,14.0 C39.7,14.2 41.4,14.3 43.0,15.2 C44.6,16.1 46.4,17.9 47.6,19.6 C48.9,21.3 50.3,23.6 50.5,25.4 C50.7,27.2 49.8,29.2 49.0,30.4 C48.2,31.6 47.3,32.3 46.0,32.6 C44.7,32.9 42.5,32.6 41.0,32.0 C39.5,31.4 38.1,30.2 37.0,29.0 C35.9,27.8 35.6,25.2 34.6,24.7 C33.6,24.2 32.3,25.8 31.0,26.0 C29.7,26.2 28.2,26.2 27.0,26.0 C25.8,25.8 23.9,25.8 23.5,25.0 C23.1,24.2 23.6,22.5 24.5,21.0Z" fill="#1c30f0" stroke="#1c30f0" stroke-width="8.8" stroke-linejoin="round" opacity="0.85" filter="url(#b15)"/>
<path d="M24.5,21.0 C25.4,19.5 27.6,17.2 29.0,16.0 C30.4,14.8 31.5,14.3 33.0,14.0 C34.5,13.7 36.3,13.8 38.0,14.0 C39.7,14.2 41.4,14.3 43.0,15.2 C44.6,16.1 46.4,17.9 47.6,19.6 C48.9,21.3 50.3,23.6 50.5,25.4 C50.7,27.2 49.8,29.2 49.0,30.4 C48.2,31.6 47.3,32.3 46.0,32.6 C44.7,32.9 42.5,32.6 41.0,32.0 C39.5,31.4 38.1,30.2 37.0,29.0 C35.9,27.8 35.6,25.2 34.6,24.7 C33.6,24.2 32.3,25.8 31.0,26.0 C29.7,26.2 28.2,26.2 27.0,26.0 C25.8,25.8 23.9,25.8 23.5,25.0 C23.1,24.2 23.6,22.5 24.5,21.0Z" fill="#2070ff" stroke="#2070ff" stroke-width="4.4" stroke-linejoin="round" opacity="0.9" filter="url(#b05)"/>
<path d="M24.5,21.0 C25.4,19.5 27.6,17.2 29.0,16.0 C30.4,14.8 31.5,14.3 33.0,14.0 C34.5,13.7 36.3,13.8 38.0,14.0 C39.7,14.2 41.4,14.3 43.0,15.2 C44.6,16.1 46.4,17.9 47.6,19.6 C48.9,21.3 50.3,23.6 50.5,25.4 C50.7,27.2 49.8,29.2 49.0,30.4 C48.2,31.6 47.3,32.3 46.0,32.6 C44.7,32.9 42.5,32.6 41.0,32.0 C39.5,31.4 38.1,30.2 37.0,29.0 C35.9,27.8 35.6,25.2 34.6,24.7 C33.6,24.2 32.3,25.8 31.0,26.0 C29.7,26.2 28.2,26.2 27.0,26.0 C25.8,25.8 23.9,25.8 23.5,25.0 C23.1,24.2 23.6,22.5 24.5,21.0Z" fill="#40d8f0" stroke="#40d8f0" stroke-width="2.4" stroke-linejoin="round"/>
<path d="M24.5,21.0 C25.4,19.5 27.6,17.2 29.0,16.0 C30.4,14.8 31.5,14.3 33.0,14.0 C34.5,13.7 36.3,13.8 38.0,14.0 C39.7,14.2 41.4,14.3 43.0,15.2 C44.6,16.1 46.4,17.9 47.6,19.6 C48.9,21.3 50.3,23.6 50.5,25.4 C50.7,27.2 49.8,29.2 49.0,30.4 C48.2,31.6 47.3,32.3 46.0,32.6 C44.7,32.9 42.5,32.6 41.0,32.0 C39.5,31.4 38.1,30.2 37.0,29.0 C35.9,27.8 35.6,25.2 34.6,24.7 C33.6,24.2 32.3,25.8 31.0,26.0 C29.7,26.2 28.2,26.2 27.0,26.0 C25.8,25.8 23.9,25.8 23.5,25.0 C23.1,24.2 23.6,22.5 24.5,21.0Z" fill="#e8e070" stroke="#e8e070" stroke-width="1.0" stroke-linejoin="round"/>
<path d="M24.5,21.0 C25.4,19.5 27.6,17.2 29.0,16.0 C30.4,14.8 31.5,14.3 33.0,14.0 C34.5,13.7 36.3,13.8 38.0,14.0 C39.7,14.2 41.4,14.3 43.0,15.2 C44.6,16.1 46.4,17.9 47.6,19.6 C48.9,21.3 50.3,23.6 50.5,25.4 C50.7,27.2 49.8,29.2 49.0,30.4 C48.2,31.6 47.3,32.3 46.0,32.6 C44.7,32.9 42.5,32.6 41.0,32.0 C39.5,31.4 38.1,30.2 37.0,29.0 C35.9,27.8 35.6,25.2 34.6,24.7 C33.6,24.2 32.3,25.8 31.0,26.0 C29.7,26.2 28.2,26.2 27.0,26.0 C25.8,25.8 23.9,25.8 23.5,25.0 C23.1,24.2 23.6,22.5 24.5,21.0Z" fill="#c01010"/>
<path d="M27.0,21.5 C27.7,20.3 29.5,18.4 30.6,17.5 C31.7,16.5 32.6,16.1 33.8,15.9 C35.0,15.6 36.5,15.7 37.8,15.9 C39.1,16.0 40.5,16.1 41.8,16.8 C43.1,17.6 44.5,19.0 45.5,20.4 C46.5,21.7 47.6,23.6 47.8,25.0 C48.0,26.4 47.2,28.0 46.6,29.0 C46.0,30.0 45.3,30.5 44.2,30.8 C43.1,31.0 41.4,30.8 40.2,30.3 C39.0,29.8 37.8,28.9 37.0,27.9 C36.1,26.9 35.9,24.8 35.1,24.4 C34.3,24.0 33.2,25.3 32.2,25.5 C31.2,25.7 30.0,25.6 29.0,25.5 C28.0,25.3 26.5,25.3 26.2,24.7 C25.9,24.0 26.3,22.7 27.0,21.5Z" fill="#a80010" filter="url(#b05)"/>
<defs><filter id="lo13" x="-5%" y="-5%" width="110%" height="110%" color-interpolation-filters="sRGB"><feTurbulence type="fractalNoise" baseFrequency="0.1" numOctaves="2" seed="94" result="n"/><feColorMatrix in="n" type="matrix" values="0 0 0 0 0.95 0 0 0 0 0.42 0 0 0 0 0.08 5 0 0 0 -3.1" result="c"/><feComposite in="c" in2="SourceAlpha" operator="in" result="m"/><feGaussianBlur in="m" stdDeviation="0.6"/></filter><filter id="ly13" x="-5%" y="-5%" width="110%" height="110%" color-interpolation-filters="sRGB"><feTurbulence type="fractalNoise" baseFrequency="0.11" numOctaves="2" seed="96" result="n"/><feColorMatrix in="n" type="matrix" values="0 0 0 0 0.95 0 0 0 0 0.88 0 0 0 0 0.35 5 0 0 0 -3.71" result="c"/><feComposite in="c" in2="SourceAlpha" operator="in" result="m"/><feGaussianBlur in="m" stdDeviation="0.6"/></filter></defs>
<path d="M24.5,21.0 C25.4,19.5 27.6,17.2 29.0,16.0 C30.4,14.8 31.5,14.3 33.0,14.0 C34.5,13.7 36.3,13.8 38.0,14.0 C39.7,14.2 41.4,14.3 43.0,15.2 C44.6,16.1 46.4,17.9 47.6,19.6 C48.9,21.3 50.3,23.6 50.5,25.4 C50.7,27.2 49.8,29.2 49.0,30.4 C48.2,31.6 47.3,32.3 46.0,32.6 C44.7,32.9 42.5,32.6 41.0,32.0 C39.5,31.4 38.1,30.2 37.0,29.0 C35.9,27.8 35.6,25.2 34.6,24.7 C33.6,24.2 32.3,25.8 31.0,26.0 C29.7,26.2 28.2,26.2 27.0,26.0 C25.8,25.8 23.9,25.8 23.5,25.0 C23.1,24.2 23.6,22.5 24.5,21.0Z" fill="#000" filter="url(#lo13)"/>
<path d="M24.5,21.0 C25.4,19.5 27.6,17.2 29.0,16.0 C30.4,14.8 31.5,14.3 33.0,14.0 C34.5,13.7 36.3,13.8 38.0,14.0 C39.7,14.2 41.4,14.3 43.0,15.2 C44.6,16.1 46.4,17.9 47.6,19.6 C48.9,21.3 50.3,23.6 50.5,25.4 C50.7,27.2 49.8,29.2 49.0,30.4 C48.2,31.6 47.3,32.3 46.0,32.6 C44.7,32.9 42.5,32.6 41.0,32.0 C39.5,31.4 38.1,30.2 37.0,29.0 C35.9,27.8 35.6,25.2 34.6,24.7 C33.6,24.2 32.3,25.8 31.0,26.0 C29.7,26.2 28.2,26.2 27.0,26.0 C25.8,25.8 23.9,25.8 23.5,25.0 C23.1,24.2 23.6,22.5 24.5,21.0Z" fill="#000" filter="url(#ly13)"/>
</g>
<ellipse cx="40" cy="30" rx="4" ry="2" fill="#f0e050" fill-opacity="0.8" filter="url(#b05)"/>
<ellipse cx="36" cy="78" rx="6" ry="2.8" fill="#2f7cff" fill-opacity="1" filter="url(#b05)"/>
</g></g>
<clipPath id="pc9"><rect x="0" y="0" width="76.00" height="96.40"/></clipPath>
<g transform="translate(243,125.6)"><g clip-path="url(#pc9)">
<rect width="76.00" height="96.40" fill="#000"/>
<g filter="url(#b05)">
<path d="M22.0,-2.0 C28.1,-4.3 52.3,-4.7 58.5,-2.0 C64.7,0.7 58.7,9.3 59.0,14.0 C59.3,18.7 59.9,22.0 60.5,26.0 C61.1,30.0 61.8,34.3 62.5,38.0 C63.2,41.7 64.5,44.7 65.0,48.0 C65.5,51.3 65.8,55.0 65.8,58.0 C65.8,61.0 65.5,63.5 65.0,66.0 C64.5,68.5 64.2,70.8 62.9,72.7 C61.6,74.6 59.5,76.2 57.0,77.5 C54.5,78.8 51.2,79.8 48.0,80.5 C44.8,81.2 41.0,81.6 38.0,81.5 C35.0,81.4 32.5,80.8 30.0,80.0 C27.5,79.2 25.0,78.2 23.0,77.0 C21.0,75.8 19.2,74.2 18.0,73.0 C16.8,71.8 16.6,71.6 16.0,69.8 C15.4,68.0 14.8,65.0 14.6,62.0 C14.4,59.0 14.4,55.3 14.6,52.0 C14.8,48.7 14.9,45.2 15.5,42.0 C16.1,38.8 17.1,36.0 18.0,33.0 C18.9,30.0 20.3,27.5 21.0,24.0 C21.7,20.5 21.8,16.3 22.0,12.0 C22.2,7.7 15.9,0.3 22.0,-2.0Z" fill="url(#mg)"/>
<path d="M25.8,75.5 C28.1,73.7 43.5,73.7 45.8,75.5 C48.1,77.3 42.1,84.7 39.8,86.5 C37.5,88.3 34.1,88.3 31.8,86.5 C29.5,84.7 23.5,77.3 25.8,75.5Z" fill="#7a7a78"/>
<path d="M23.4,75.6 C23.4,76.8 24.6,81.0 23.4,83.0 C22.2,85.0 17.7,85.8 16.0,87.3 C14.3,88.8 14.0,90.4 13.2,91.7 C12.4,93.0 11.4,94.5 11.0,95.0" fill="none" stroke="#828282" stroke-width="4.6" stroke-linecap="round" stroke-linejoin="round"/>
<path d="M54.0,78.6 C54.5,79.6 55.3,83.0 57.0,84.4 C58.7,85.9 62.6,86.1 64.3,87.3 C66.0,88.5 66.5,90.6 67.3,91.7 C68.1,92.8 68.7,93.6 69.0,94.0" fill="none" stroke="#828282" stroke-width="4.6" stroke-linecap="round" stroke-linejoin="round"/>
<path d="M35.8,83.0 C35.8,85.7 35.8,96.3 35.8,99.0" fill="none" stroke="#828282" stroke-width="5" stroke-linecap="round"/>
</g>
<path d="M22.0,-2.0 C28.1,-4.3 52.3,-4.7 58.5,-2.0 C64.7,0.7 58.7,9.3 59.0,14.0 C59.3,18.7 59.9,22.0 60.5,26.0 C61.1,30.0 61.8,34.3 62.5,38.0 C63.2,41.7 64.5,44.7 65.0,48.0 C65.5,51.3 65.8,55.0 65.8,58.0 C65.8,61.0 65.5,63.5 65.0,66.0 C64.5,68.5 64.2,70.8 62.9,72.7 C61.6,74.6 59.5,76.2 57.0,77.5 C54.5,78.8 51.2,79.8 48.0,80.5 C44.8,81.2 41.0,81.6 38.0,81.5 C35.0,81.4 32.5,80.8 30.0,80.0 C27.5,79.2 25.0,78.2 23.0,77.0 C21.0,75.8 19.2,74.2 18.0,73.0 C16.8,71.8 16.6,71.6 16.0,69.8 C15.4,68.0 14.8,65.0 14.6,62.0 C14.4,59.0 14.4,55.3 14.6,52.0 C14.8,48.7 14.9,45.2 15.5,42.0 C16.1,38.8 17.1,36.0 18.0,33.0 C18.9,30.0 20.3,27.5 21.0,24.0 C21.7,20.5 21.8,16.3 22.0,12.0 C22.2,7.7 15.9,0.3 22.0,-2.0Z" fill="none" stroke="#000" stroke-opacity="0.22" stroke-width="3" filter="url(#b1)"/>
<defs>
<filter id="tg91" x="-5%" y="-5%" width="110%" height="110%" color-interpolation-filters="sRGB"><feTurbulence type="turbulence" baseFrequency="0.056" numOctaves="1" seed="91" result="n"/><feColorMatrix in="n" type="matrix" values="0 0 0 0 0.5 0 0 0 0 0.49 0 0 0 0 0.44 -9 0 0 0 0.85" result="c"/><feComposite in="c" in2="SourceAlpha" operator="in" result="m"/><feGaussianBlur in="m" stdDeviation="0.7"/></filter>
<filter id="tl91" x="-5%" y="-5%" width="110%" height="110%" color-interpolation-filters="sRGB"><feTurbulence type="fractalNoise" baseFrequency="0.12" numOctaves="2" seed="591" result="n"/><feColorMatrix in="n" type="matrix" values="0 0 0 0 0.15 0 0 0 0 0.42 0 0 0 0 1.0 4 0 0 0 -1.8" result="c"/><feComposite in="c" in2="SourceAlpha" operator="in" result="m"/><feGaussianBlur in="m" stdDeviation="0.8"/></filter>
<filter id="td91" x="-5%" y="-5%" width="110%" height="110%" color-interpolation-filters="sRGB"><feTurbulence type="fractalNoise" baseFrequency="0.1" numOctaves="2" seed="991" result="n"/><feColorMatrix in="n" type="matrix" values="0 0 0 0 0.08 0 0 0 0 0.03 0 0 0 0 0.62 4 0 0 0 -2.0" result="c"/><feComposite in="c" in2="SourceAlpha" operator="in" result="m"/><feGaussianBlur in="m" stdDeviation="0.8"/></filter>
<filter id="tc91" x="-5%" y="-5%" width="110%" height="110%" color-interpolation-filters="sRGB"><feTurbulence type="fractalNoise" baseFrequency="0.09" numOctaves="2" seed="791" result="n"/><feColorMatrix in="n" type="matrix" values="0 0 0 0 0.2 0 0 0 0 0.72 0 0 0 0 1.0 5 0 0 0 -3.45" result="c"/><feComposite in="c" in2="SourceAlpha" operator="in" result="m"/><feGaussianBlur in="m" stdDeviation="0.8"/></filter>
<filter id="bb91" x="-30%" y="-30%" width="160%" height="160%"><feGaussianBlur stdDeviation="1.2"/></filter>
</defs>
<g filter="url(#bb91)"><path d="M18.0,30.0 C19.7,28.7 23.7,27.5 26.0,28.0 C28.3,28.5 29.0,31.8 32.0,33.0 C35.0,34.2 40.3,35.2 44.0,35.0 C47.7,34.8 51.7,33.5 54.0,32.0 C56.3,30.5 56.7,25.7 58.0,26.0 C59.3,26.3 60.9,30.7 62.0,34.0 C63.1,37.3 64.0,42.0 64.5,46.0 C65.0,50.0 65.2,54.3 65.0,58.0 C64.8,61.7 64.2,65.2 63.0,68.0 C61.8,70.8 60.5,73.0 58.0,75.0 C55.5,77.0 51.3,79.0 48.0,80.0 C44.7,81.0 41.0,81.2 38.0,81.0 C35.0,80.8 32.7,80.2 30.0,79.0 C27.3,77.8 24.2,76.2 22.0,74.0 C19.8,71.8 18.2,69.0 17.0,66.0 C15.8,63.0 15.3,59.5 15.0,56.0 C14.7,52.5 14.8,48.3 15.0,45.0 C15.2,41.7 15.5,38.5 16.0,36.0 C16.5,33.5 16.3,31.3 18.0,30.0Z" fill="#1c22e8" fill-opacity="1.0"/>
<path d="M18.0,30.0 C19.7,28.7 23.7,27.5 26.0,28.0 C28.3,28.5 29.0,31.8 32.0,33.0 C35.0,34.2 40.3,35.2 44.0,35.0 C47.7,34.8 51.7,33.5 54.0,32.0 C56.3,30.5 56.7,25.7 58.0,26.0 C59.3,26.3 60.9,30.7 62.0,34.0 C63.1,37.3 64.0,42.0 64.5,46.0 C65.0,50.0 65.2,54.3 65.0,58.0 C64.8,61.7 64.2,65.2 63.0,68.0 C61.8,70.8 60.5,73.0 58.0,75.0 C55.5,77.0 51.3,79.0 48.0,80.0 C44.7,81.0 41.0,81.2 38.0,81.0 C35.0,80.8 32.7,80.2 30.0,79.0 C27.3,77.8 24.2,76.2 22.0,74.0 C19.8,71.8 18.2,69.0 17.0,66.0 C15.8,63.0 15.3,59.5 15.0,56.0 C14.7,52.5 14.8,48.3 15.0,45.0 C15.2,41.7 15.5,38.5 16.0,36.0 C16.5,33.5 16.3,31.3 18.0,30.0Z" fill="#000" filter="url(#td91)"/>
<path d="M18.0,30.0 C19.7,28.7 23.7,27.5 26.0,28.0 C28.3,28.5 29.0,31.8 32.0,33.0 C35.0,34.2 40.3,35.2 44.0,35.0 C47.7,34.8 51.7,33.5 54.0,32.0 C56.3,30.5 56.7,25.7 58.0,26.0 C59.3,26.3 60.9,30.7 62.0,34.0 C63.1,37.3 64.0,42.0 64.5,46.0 C65.0,50.0 65.2,54.3 65.0,58.0 C64.8,61.7 64.2,65.2 63.0,68.0 C61.8,70.8 60.5,73.0 58.0,75.0 C55.5,77.0 51.3,79.0 48.0,80.0 C44.7,81.0 41.0,81.2 38.0,81.0 C35.0,80.8 32.7,80.2 30.0,79.0 C27.3,77.8 24.2,76.2 22.0,74.0 C19.8,71.8 18.2,69.0 17.0,66.0 C15.8,63.0 15.3,59.5 15.0,56.0 C14.7,52.5 14.8,48.3 15.0,45.0 C15.2,41.7 15.5,38.5 16.0,36.0 C16.5,33.5 16.3,31.3 18.0,30.0Z" fill="#000" filter="url(#tl91)"/>
<path d="M18.0,30.0 C19.7,28.7 23.7,27.5 26.0,28.0 C28.3,28.5 29.0,31.8 32.0,33.0 C35.0,34.2 40.3,35.2 44.0,35.0 C47.7,34.8 51.7,33.5 54.0,32.0 C56.3,30.5 56.7,25.7 58.0,26.0 C59.3,26.3 60.9,30.7 62.0,34.0 C63.1,37.3 64.0,42.0 64.5,46.0 C65.0,50.0 65.2,54.3 65.0,58.0 C64.8,61.7 64.2,65.2 63.0,68.0 C61.8,70.8 60.5,73.0 58.0,75.0 C55.5,77.0 51.3,79.0 48.0,80.0 C44.7,81.0 41.0,81.2 38.0,81.0 C35.0,80.8 32.7,80.2 30.0,79.0 C27.3,77.8 24.2,76.2 22.0,74.0 C19.8,71.8 18.2,69.0 17.0,66.0 C15.8,63.0 15.3,59.5 15.0,56.0 C14.7,52.5 14.8,48.3 15.0,45.0 C15.2,41.7 15.5,38.5 16.0,36.0 C16.5,33.5 16.3,31.3 18.0,30.0Z" fill="#000" filter="url(#tc91)"/>
<path d="M18.0,30.0 C19.7,28.7 23.7,27.5 26.0,28.0 C28.3,28.5 29.0,31.8 32.0,33.0 C35.0,34.2 40.3,35.2 44.0,35.0 C47.7,34.8 51.7,33.5 54.0,32.0 C56.3,30.5 56.7,25.7 58.0,26.0 C59.3,26.3 60.9,30.7 62.0,34.0 C63.1,37.3 64.0,42.0 64.5,46.0 C65.0,50.0 65.2,54.3 65.0,58.0 C64.8,61.7 64.2,65.2 63.0,68.0 C61.8,70.8 60.5,73.0 58.0,75.0 C55.5,77.0 51.3,79.0 48.0,80.0 C44.7,81.0 41.0,81.2 38.0,81.0 C35.0,80.8 32.7,80.2 30.0,79.0 C27.3,77.8 24.2,76.2 22.0,74.0 C19.8,71.8 18.2,69.0 17.0,66.0 C15.8,63.0 15.3,59.5 15.0,56.0 C14.7,52.5 14.8,48.3 15.0,45.0 C15.2,41.7 15.5,38.5 16.0,36.0 C16.5,33.5 16.3,31.3 18.0,30.0Z" fill="#000" filter="url(#tg91)"/></g>
<ellipse cx="21.4" cy="35.7" rx="2.6" ry="1.5" fill="#2c78ff" fill-opacity="0.8" filter="url(#b1)"/>
<ellipse cx="28.1" cy="34.5" rx="3.6" ry="2.4" fill="#2c78ff" fill-opacity="0.8" filter="url(#b1)"/>
<ellipse cx="35.0" cy="34.7" rx="2.7" ry="2.5" fill="#2c78ff" fill-opacity="0.8" filter="url(#b1)"/>
<ellipse cx="43.5" cy="33.3" rx="2.6" ry="1.9" fill="#2c78ff" fill-opacity="0.8" filter="url(#b1)"/>
<ellipse cx="50.6" cy="36.6" rx="3.0" ry="2.5" fill="#30a8ff" fill-opacity="0.8" filter="url(#b1)"/>
<ellipse cx="56.1" cy="37.7" rx="2.9" ry="2.4" fill="#30a8ff" fill-opacity="0.8" filter="url(#b1)"/>
<ellipse cx="56" cy="8" rx="3" ry="5" fill="#2f7cff" fill-opacity="1" filter="url(#b05)"/>
<ellipse cx="57" cy="29" rx="3" ry="3.6" fill="#35d0ff" fill-opacity="1" filter="url(#b05)"/>
<g filter="url(#b05)">
<path d="M36.0,10.0 C37.2,9.1 40.0,9.4 42.0,9.5 C44.0,9.6 46.3,9.6 48.0,10.5 C49.7,11.4 51.0,13.1 52.0,15.0 C53.0,16.9 53.8,19.5 54.0,22.0 C54.2,24.5 54.2,28.0 53.5,30.0 C52.8,32.0 51.6,33.2 50.0,34.0 C48.4,34.8 46.0,35.2 44.0,35.0 C42.0,34.8 39.3,34.1 38.0,33.0 C36.7,31.9 37.2,29.3 36.0,28.5 C34.8,27.7 32.6,28.4 31.0,28.0 C29.4,27.6 27.2,27.2 26.5,26.0 C25.8,24.8 26.2,22.3 27.0,21.0 C27.8,19.7 29.7,19.0 31.0,18.0 C32.3,17.0 34.2,16.3 35.0,15.0 C35.8,13.7 34.8,10.9 36.0,10.0Z" fill="#1c30f0" stroke="#1c30f0" stroke-width="8.8" stroke-linejoin="round" opacity="0.85" filter="url(#b15)"/>
<path d="M36.0,10.0 C37.2,9.1 40.0,9.4 42.0,9.5 C44.0,9.6 46.3,9.6 48.0,10.5 C49.7,11.4 51.0,13.1 52.0,15.0 C53.0,16.9 53.8,19.5 54.0,22.0 C54.2,24.5 54.2,28.0 53.5,30.0 C52.8,32.0 51.6,33.2 50.0,34.0 C48.4,34.8 46.0,35.2 44.0,35.0 C42.0,34.8 39.3,34.1 38.0,33.0 C36.7,31.9 37.2,29.3 36.0,28.5 C34.8,27.7 32.6,28.4 31.0,28.0 C29.4,27.6 27.2,27.2 26.5,26.0 C25.8,24.8 26.2,22.3 27.0,21.0 C27.8,19.7 29.7,19.0 31.0,18.0 C32.3,17.0 34.2,16.3 35.0,15.0 C35.8,13.7 34.8,10.9 36.0,10.0Z" fill="#2070ff" stroke="#2070ff" stroke-width="4.4" stroke-linejoin="round" opacity="0.9" filter="url(#b05)"/>
<path d="M36.0,10.0 C37.2,9.1 40.0,9.4 42.0,9.5 C44.0,9.6 46.3,9.6 48.0,10.5 C49.7,11.4 51.0,13.1 52.0,15.0 C53.0,16.9 53.8,19.5 54.0,22.0 C54.2,24.5 54.2,28.0 53.5,30.0 C52.8,32.0 51.6,33.2 50.0,34.0 C48.4,34.8 46.0,35.2 44.0,35.0 C42.0,34.8 39.3,34.1 38.0,33.0 C36.7,31.9 37.2,29.3 36.0,28.5 C34.8,27.7 32.6,28.4 31.0,28.0 C29.4,27.6 27.2,27.2 26.5,26.0 C25.8,24.8 26.2,22.3 27.0,21.0 C27.8,19.7 29.7,19.0 31.0,18.0 C32.3,17.0 34.2,16.3 35.0,15.0 C35.8,13.7 34.8,10.9 36.0,10.0Z" fill="#40d8f0" stroke="#40d8f0" stroke-width="2.4" stroke-linejoin="round"/>
<path d="M36.0,10.0 C37.2,9.1 40.0,9.4 42.0,9.5 C44.0,9.6 46.3,9.6 48.0,10.5 C49.7,11.4 51.0,13.1 52.0,15.0 C53.0,16.9 53.8,19.5 54.0,22.0 C54.2,24.5 54.2,28.0 53.5,30.0 C52.8,32.0 51.6,33.2 50.0,34.0 C48.4,34.8 46.0,35.2 44.0,35.0 C42.0,34.8 39.3,34.1 38.0,33.0 C36.7,31.9 37.2,29.3 36.0,28.5 C34.8,27.7 32.6,28.4 31.0,28.0 C29.4,27.6 27.2,27.2 26.5,26.0 C25.8,24.8 26.2,22.3 27.0,21.0 C27.8,19.7 29.7,19.0 31.0,18.0 C32.3,17.0 34.2,16.3 35.0,15.0 C35.8,13.7 34.8,10.9 36.0,10.0Z" fill="#e8e070" stroke="#e8e070" stroke-width="1.0" stroke-linejoin="round"/>
<path d="M36.0,10.0 C37.2,9.1 40.0,9.4 42.0,9.5 C44.0,9.6 46.3,9.6 48.0,10.5 C49.7,11.4 51.0,13.1 52.0,15.0 C53.0,16.9 53.8,19.5 54.0,22.0 C54.2,24.5 54.2,28.0 53.5,30.0 C52.8,32.0 51.6,33.2 50.0,34.0 C48.4,34.8 46.0,35.2 44.0,35.0 C42.0,34.8 39.3,34.1 38.0,33.0 C36.7,31.9 37.2,29.3 36.0,28.5 C34.8,27.7 32.6,28.4 31.0,28.0 C29.4,27.6 27.2,27.2 26.5,26.0 C25.8,24.8 26.2,22.3 27.0,21.0 C27.8,19.7 29.7,19.0 31.0,18.0 C32.3,17.0 34.2,16.3 35.0,15.0 C35.8,13.7 34.8,10.9 36.0,10.0Z" fill="#c01010"/>
<path d="M36.9,12.5 C37.8,11.7 40.1,12.0 41.7,12.1 C43.3,12.1 45.1,12.1 46.5,12.9 C47.8,13.6 48.9,14.9 49.7,16.5 C50.5,18.0 51.1,20.1 51.3,22.1 C51.5,24.1 51.4,26.9 50.9,28.5 C50.3,30.1 49.3,31.0 48.1,31.7 C46.8,32.3 44.9,32.6 43.3,32.5 C41.7,32.3 39.5,31.7 38.5,30.9 C37.4,30.0 37.8,27.9 36.9,27.3 C35.9,26.6 34.1,27.2 32.9,26.9 C31.6,26.5 29.8,26.2 29.3,25.3 C28.7,24.3 29.1,22.3 29.7,21.3 C30.3,20.2 31.8,19.7 32.9,18.9 C33.9,18.1 35.4,17.5 36.1,16.5 C36.7,15.4 35.9,13.2 36.9,12.5Z" fill="#a80010" filter="url(#b05)"/>
<defs><filter id="lo14" x="-5%" y="-5%" width="110%" height="110%" color-interpolation-filters="sRGB"><feTurbulence type="fractalNoise" baseFrequency="0.1" numOctaves="2" seed="101" result="n"/><feColorMatrix in="n" type="matrix" values="0 0 0 0 0.95 0 0 0 0 0.42 0 0 0 0 0.08 5 0 0 0 -2.4000000000000004" result="c"/><feComposite in="c" in2="SourceAlpha" operator="in" result="m"/><feGaussianBlur in="m" stdDeviation="0.6"/></filter><filter id="ly14" x="-5%" y="-5%" width="110%" height="110%" color-interpolation-filters="sRGB"><feTurbulence type="fractalNoise" baseFrequency="0.11" numOctaves="2" seed="103" result="n"/><feColorMatrix in="n" type="matrix" values="0 0 0 0 0.95 0 0 0 0 0.88 0 0 0 0 0.35 5 0 0 0 -3.0799999999999996" result="c"/><feComposite in="c" in2="SourceAlpha" operator="in" result="m"/><feGaussianBlur in="m" stdDeviation="0.6"/></filter></defs>
<path d="M36.0,10.0 C37.2,9.1 40.0,9.4 42.0,9.5 C44.0,9.6 46.3,9.6 48.0,10.5 C49.7,11.4 51.0,13.1 52.0,15.0 C53.0,16.9 53.8,19.5 54.0,22.0 C54.2,24.5 54.2,28.0 53.5,30.0 C52.8,32.0 51.6,33.2 50.0,34.0 C48.4,34.8 46.0,35.2 44.0,35.0 C42.0,34.8 39.3,34.1 38.0,33.0 C36.7,31.9 37.2,29.3 36.0,28.5 C34.8,27.7 32.6,28.4 31.0,28.0 C29.4,27.6 27.2,27.2 26.5,26.0 C25.8,24.8 26.2,22.3 27.0,21.0 C27.8,19.7 29.7,19.0 31.0,18.0 C32.3,17.0 34.2,16.3 35.0,15.0 C35.8,13.7 34.8,10.9 36.0,10.0Z" fill="#000" filter="url(#lo14)"/>
<path d="M36.0,10.0 C37.2,9.1 40.0,9.4 42.0,9.5 C44.0,9.6 46.3,9.6 48.0,10.5 C49.7,11.4 51.0,13.1 52.0,15.0 C53.0,16.9 53.8,19.5 54.0,22.0 C54.2,24.5 54.2,28.0 53.5,30.0 C52.8,32.0 51.6,33.2 50.0,34.0 C48.4,34.8 46.0,35.2 44.0,35.0 C42.0,34.8 39.3,34.1 38.0,33.0 C36.7,31.9 37.2,29.3 36.0,28.5 C34.8,27.7 32.6,28.4 31.0,28.0 C29.4,27.6 27.2,27.2 26.5,26.0 C25.8,24.8 26.2,22.3 27.0,21.0 C27.8,19.7 29.7,19.0 31.0,18.0 C32.3,17.0 34.2,16.3 35.0,15.0 C35.8,13.7 34.8,10.9 36.0,10.0Z" fill="#000" filter="url(#ly14)"/>
</g>
<ellipse cx="41.5" cy="26.5" rx="4.5" ry="4.5" fill="#e09030" fill-opacity="1" filter="url(#b05)"/>
<ellipse cx="41.5" cy="26.5" rx="2.5" ry="2.5" fill="#e8d070" fill-opacity="1" filter="url(#b05)"/>
<ellipse cx="18" cy="47.5" rx="3" ry="4" fill="#60f0c0" fill-opacity="1" filter="url(#b05)"/>
<ellipse cx="17" cy="50" rx="1.5" ry="2" fill="#e0f070" fill-opacity="1" filter="url(#b05)"/>
<text x="10.6" y="19.9" font-size="11.5" font-weight="bold" fill="#f2f23a">L</text>
<line x1="18.3" y1="17.7" x2="24.6" y2="20.1" stroke="#f2f23a" stroke-width="1.4"/><polygon points="27.8,21.3 23.9,22.1 25.4,18.1" fill="#f2f23a"/>
<text x="1.6" y="36" font-size="11.5" font-weight="bold" fill="#f2f23a">T</text>
<line x1="8" y1="38.1" x2="12.1" y2="41.7" stroke="#f2f23a" stroke-width="1.4"/><polygon points="14.6,44 10.7,43.3 13.5,40.2" fill="#f2f23a"/>
</g></g>
<clipPath id="pc10"><rect x="0" y="0" width="74.60" height="96.40"/></clipPath>
<g transform="translate(323.4,125.6)"><g clip-path="url(#pc10)">
<rect width="74.60" height="96.40" fill="#000"/>
<g filter="url(#b05)">
<path d="M16.0,-2.0 C22.6,-4.0 48.9,-4.7 55.6,-2.0 C62.3,0.7 55.8,9.0 56.0,14.0 C56.2,19.0 56.5,23.7 57.0,28.0 C57.5,32.3 58.2,36.3 59.0,40.0 C59.8,43.7 61.0,47.0 61.5,50.0 C62.0,53.0 62.0,55.0 62.0,58.0 C62.0,61.0 61.7,65.1 61.5,68.0 C61.3,70.9 61.5,73.1 60.6,75.3 C59.7,77.5 58.4,79.4 56.0,81.0 C53.6,82.6 49.3,84.2 46.0,85.0 C42.7,85.8 39.3,86.2 36.0,86.0 C32.7,85.8 28.8,84.9 26.0,84.0 C23.2,83.1 20.9,82.0 19.0,80.5 C17.1,79.0 15.5,77.7 14.4,75.3 C13.3,72.9 12.8,69.2 12.5,66.0 C12.2,62.8 12.2,59.5 12.3,56.0 C12.4,52.5 12.6,48.7 13.0,45.0 C13.4,41.3 14.1,37.8 14.5,34.0 C14.9,30.2 15.3,26.0 15.5,22.0 C15.7,18.0 15.8,14.0 15.9,10.0 C16.0,6.0 9.4,0.0 16.0,-2.0Z" fill="url(#mg)"/>
<path d="M25.4,80.0 C27.7,78.2 43.1,78.2 45.4,80.0 C47.7,81.8 41.7,89.2 39.4,91.0 C37.1,92.8 33.7,92.8 31.4,91.0 C29.1,89.2 23.1,81.8 25.4,80.0Z" fill="#7a7a78"/>
<path d="M21.6,81.0 C21.4,82.0 21.4,85.1 20.2,86.8 C19.0,88.5 15.8,89.6 14.4,91.1 C13.0,92.6 12.4,95.2 12.0,96.0" fill="none" stroke="#828282" stroke-width="4.6" stroke-linecap="round" stroke-linejoin="round"/>
<path d="M52.0,82.5 C52.2,83.5 52.0,86.5 53.4,88.2 C54.8,89.9 59.0,91.3 60.6,92.6 C62.2,93.9 62.6,95.4 63.0,96.0" fill="none" stroke="#828282" stroke-width="4.6" stroke-linecap="round" stroke-linejoin="round"/>
<path d="M35.4,86.0 C35.4,88.2 35.4,96.8 35.4,99.0" fill="none" stroke="#828282" stroke-width="5" stroke-linecap="round"/>
</g>
<path d="M16.0,-2.0 C22.6,-4.0 48.9,-4.7 55.6,-2.0 C62.3,0.7 55.8,9.0 56.0,14.0 C56.2,19.0 56.5,23.7 57.0,28.0 C57.5,32.3 58.2,36.3 59.0,40.0 C59.8,43.7 61.0,47.0 61.5,50.0 C62.0,53.0 62.0,55.0 62.0,58.0 C62.0,61.0 61.7,65.1 61.5,68.0 C61.3,70.9 61.5,73.1 60.6,75.3 C59.7,77.5 58.4,79.4 56.0,81.0 C53.6,82.6 49.3,84.2 46.0,85.0 C42.7,85.8 39.3,86.2 36.0,86.0 C32.7,85.8 28.8,84.9 26.0,84.0 C23.2,83.1 20.9,82.0 19.0,80.5 C17.1,79.0 15.5,77.7 14.4,75.3 C13.3,72.9 12.8,69.2 12.5,66.0 C12.2,62.8 12.2,59.5 12.3,56.0 C12.4,52.5 12.6,48.7 13.0,45.0 C13.4,41.3 14.1,37.8 14.5,34.0 C14.9,30.2 15.3,26.0 15.5,22.0 C15.7,18.0 15.8,14.0 15.9,10.0 C16.0,6.0 9.4,0.0 16.0,-2.0Z" fill="none" stroke="#000" stroke-opacity="0.22" stroke-width="3" filter="url(#b1)"/>
<ellipse cx="25.3" cy="5.8" rx="4.5" ry="2.2" fill="#1e3cf2" fill-opacity="1" filter="url(#b05)"/>
<defs>
<filter id="tg101" x="-5%" y="-5%" width="110%" height="110%" color-interpolation-filters="sRGB"><feTurbulence type="turbulence" baseFrequency="0.056" numOctaves="1" seed="101" result="n"/><feColorMatrix in="n" type="matrix" values="0 0 0 0 0.5 0 0 0 0 0.49 0 0 0 0 0.44 -9 0 0 0 0.85" result="c"/><feComposite in="c" in2="SourceAlpha" operator="in" result="m"/><feGaussianBlur in="m" stdDeviation="0.7"/></filter>
<filter id="tl101" x="-5%" y="-5%" width="110%" height="110%" color-interpolation-filters="sRGB"><feTurbulence type="fractalNoise" baseFrequency="0.12" numOctaves="2" seed="601" result="n"/><feColorMatrix in="n" type="matrix" values="0 0 0 0 0.15 0 0 0 0 0.42 0 0 0 0 1.0 4 0 0 0 -1.8" result="c"/><feComposite in="c" in2="SourceAlpha" operator="in" result="m"/><feGaussianBlur in="m" stdDeviation="0.8"/></filter>
<filter id="td101" x="-5%" y="-5%" width="110%" height="110%" color-interpolation-filters="sRGB"><feTurbulence type="fractalNoise" baseFrequency="0.1" numOctaves="2" seed="1001" result="n"/><feColorMatrix in="n" type="matrix" values="0 0 0 0 0.08 0 0 0 0 0.03 0 0 0 0 0.62 4 0 0 0 -2.0" result="c"/><feComposite in="c" in2="SourceAlpha" operator="in" result="m"/><feGaussianBlur in="m" stdDeviation="0.8"/></filter>
<filter id="tc101" x="-5%" y="-5%" width="110%" height="110%" color-interpolation-filters="sRGB"><feTurbulence type="fractalNoise" baseFrequency="0.09" numOctaves="2" seed="801" result="n"/><feColorMatrix in="n" type="matrix" values="0 0 0 0 0.2 0 0 0 0 0.72 0 0 0 0 1.0 5 0 0 0 -3.45" result="c"/><feComposite in="c" in2="SourceAlpha" operator="in" result="m"/><feGaussianBlur in="m" stdDeviation="0.8"/></filter>
<filter id="bb101" x="-30%" y="-30%" width="160%" height="160%"><feGaussianBlur stdDeviation="1.2"/></filter>
</defs>
<g filter="url(#bb101)"><path d="M18.0,37.0 C19.9,35.7 23.3,35.5 26.0,36.0 C28.7,36.5 31.0,39.3 34.0,40.0 C37.0,40.7 41.3,40.8 44.0,40.0 C46.7,39.2 48.0,35.3 50.0,35.0 C52.0,34.7 54.7,36.2 56.0,38.0 C57.3,39.8 58.2,43.2 58.0,46.0 C57.8,48.8 56.0,52.3 55.0,55.0 C54.0,57.7 52.2,59.5 52.0,62.0 C51.8,64.5 54.3,67.3 54.0,70.0 C53.7,72.7 51.7,76.2 50.0,78.0 C48.3,79.8 46.3,80.7 44.0,81.0 C41.7,81.3 39.0,80.5 36.0,80.0 C33.0,79.5 29.0,79.3 26.0,78.0 C23.0,76.7 20.0,74.7 18.0,72.0 C16.0,69.3 14.8,65.3 14.0,62.0 C13.2,58.7 12.9,55.0 13.0,52.0 C13.1,49.0 13.7,46.5 14.5,44.0 C15.3,41.5 16.1,38.3 18.0,37.0Z" fill="#1c22e8" fill-opacity="1.0"/>
<path d="M18.0,37.0 C19.9,35.7 23.3,35.5 26.0,36.0 C28.7,36.5 31.0,39.3 34.0,40.0 C37.0,40.7 41.3,40.8 44.0,40.0 C46.7,39.2 48.0,35.3 50.0,35.0 C52.0,34.7 54.7,36.2 56.0,38.0 C57.3,39.8 58.2,43.2 58.0,46.0 C57.8,48.8 56.0,52.3 55.0,55.0 C54.0,57.7 52.2,59.5 52.0,62.0 C51.8,64.5 54.3,67.3 54.0,70.0 C53.7,72.7 51.7,76.2 50.0,78.0 C48.3,79.8 46.3,80.7 44.0,81.0 C41.7,81.3 39.0,80.5 36.0,80.0 C33.0,79.5 29.0,79.3 26.0,78.0 C23.0,76.7 20.0,74.7 18.0,72.0 C16.0,69.3 14.8,65.3 14.0,62.0 C13.2,58.7 12.9,55.0 13.0,52.0 C13.1,49.0 13.7,46.5 14.5,44.0 C15.3,41.5 16.1,38.3 18.0,37.0Z" fill="#000" filter="url(#td101)"/>
<path d="M18.0,37.0 C19.9,35.7 23.3,35.5 26.0,36.0 C28.7,36.5 31.0,39.3 34.0,40.0 C37.0,40.7 41.3,40.8 44.0,40.0 C46.7,39.2 48.0,35.3 50.0,35.0 C52.0,34.7 54.7,36.2 56.0,38.0 C57.3,39.8 58.2,43.2 58.0,46.0 C57.8,48.8 56.0,52.3 55.0,55.0 C54.0,57.7 52.2,59.5 52.0,62.0 C51.8,64.5 54.3,67.3 54.0,70.0 C53.7,72.7 51.7,76.2 50.0,78.0 C48.3,79.8 46.3,80.7 44.0,81.0 C41.7,81.3 39.0,80.5 36.0,80.0 C33.0,79.5 29.0,79.3 26.0,78.0 C23.0,76.7 20.0,74.7 18.0,72.0 C16.0,69.3 14.8,65.3 14.0,62.0 C13.2,58.7 12.9,55.0 13.0,52.0 C13.1,49.0 13.7,46.5 14.5,44.0 C15.3,41.5 16.1,38.3 18.0,37.0Z" fill="#000" filter="url(#tl101)"/>
<path d="M18.0,37.0 C19.9,35.7 23.3,35.5 26.0,36.0 C28.7,36.5 31.0,39.3 34.0,40.0 C37.0,40.7 41.3,40.8 44.0,40.0 C46.7,39.2 48.0,35.3 50.0,35.0 C52.0,34.7 54.7,36.2 56.0,38.0 C57.3,39.8 58.2,43.2 58.0,46.0 C57.8,48.8 56.0,52.3 55.0,55.0 C54.0,57.7 52.2,59.5 52.0,62.0 C51.8,64.5 54.3,67.3 54.0,70.0 C53.7,72.7 51.7,76.2 50.0,78.0 C48.3,79.8 46.3,80.7 44.0,81.0 C41.7,81.3 39.0,80.5 36.0,80.0 C33.0,79.5 29.0,79.3 26.0,78.0 C23.0,76.7 20.0,74.7 18.0,72.0 C16.0,69.3 14.8,65.3 14.0,62.0 C13.2,58.7 12.9,55.0 13.0,52.0 C13.1,49.0 13.7,46.5 14.5,44.0 C15.3,41.5 16.1,38.3 18.0,37.0Z" fill="#000" filter="url(#tc101)"/>
<path d="M18.0,37.0 C19.9,35.7 23.3,35.5 26.0,36.0 C28.7,36.5 31.0,39.3 34.0,40.0 C37.0,40.7 41.3,40.8 44.0,40.0 C46.7,39.2 48.0,35.3 50.0,35.0 C52.0,34.7 54.7,36.2 56.0,38.0 C57.3,39.8 58.2,43.2 58.0,46.0 C57.8,48.8 56.0,52.3 55.0,55.0 C54.0,57.7 52.2,59.5 52.0,62.0 C51.8,64.5 54.3,67.3 54.0,70.0 C53.7,72.7 51.7,76.2 50.0,78.0 C48.3,79.8 46.3,80.7 44.0,81.0 C41.7,81.3 39.0,80.5 36.0,80.0 C33.0,79.5 29.0,79.3 26.0,78.0 C23.0,76.7 20.0,74.7 18.0,72.0 C16.0,69.3 14.8,65.3 14.0,62.0 C13.2,58.7 12.9,55.0 13.0,52.0 C13.1,49.0 13.7,46.5 14.5,44.0 C15.3,41.5 16.1,38.3 18.0,37.0Z" fill="#000" filter="url(#tg101)"/></g>
<ellipse cx="22.9" cy="42.1" rx="3.6" ry="2.2" fill="#40d0f0" fill-opacity="0.8" filter="url(#b1)"/>
<ellipse cx="25.3" cy="41.8" rx="2.5" ry="1.7" fill="#2c78ff" fill-opacity="0.8" filter="url(#b1)"/>
<ellipse cx="32.8" cy="41.3" rx="3.6" ry="1.8" fill="#30a8ff" fill-opacity="0.8" filter="url(#b1)"/>
<ellipse cx="37.4" cy="40.2" rx="2.9" ry="2.1" fill="#2c78ff" fill-opacity="0.8" filter="url(#b1)"/>
<ellipse cx="43.8" cy="42.8" rx="2.6" ry="1.7" fill="#40d0f0" fill-opacity="0.8" filter="url(#b1)"/>
<ellipse cx="51.8" cy="40.0" rx="2.9" ry="2.1" fill="#40d0f0" fill-opacity="0.8" filter="url(#b1)"/>
<path d="M53.0,62.0 C54.0,60.0 59.5,60.3 61.0,62.0 C62.5,63.7 63.0,70.0 62.0,72.0 C61.0,74.0 56.5,75.7 55.0,74.0 C53.5,72.3 52.0,64.0 53.0,62.0Z" fill="#4040c8" fill-opacity="0.6" filter="url(#b1)"/>
<ellipse cx="49" cy="22" rx="3" ry="2.6" fill="#2f7cff" fill-opacity="1" filter="url(#b05)"/>
<ellipse cx="21.6" cy="42.7" rx="3" ry="2.5" fill="#35d0ff" fill-opacity="0.8" filter="url(#b05)"/>
<ellipse cx="53.4" cy="39.8" rx="2.5" ry="3" fill="#35d0ff" fill-opacity="0.8" filter="url(#b05)"/>
<ellipse cx="39" cy="42.7" rx="2.5" ry="2.2" fill="#2f7cff" fill-opacity="1" filter="url(#b05)"/>
<ellipse cx="16.2" cy="53.6" rx="3.2" ry="4.5" fill="#70f0b0" fill-opacity="1" filter="url(#b05)"/>
<g filter="url(#b05)">
<path d="M34.6,14.5 C35.6,14.2 36.8,14.1 38.0,15.0 C39.2,15.9 40.7,18.3 42.0,20.0 C43.3,21.7 44.8,23.3 46.0,25.0 C47.2,26.7 48.6,28.3 49.0,30.0 C49.4,31.7 49.3,33.8 48.5,35.0 C47.7,36.2 45.8,36.8 44.0,37.0 C42.2,37.2 39.7,36.9 38.0,36.5 C36.3,36.1 35.7,34.9 34.0,34.5 C32.3,34.1 29.8,34.4 28.0,34.0 C26.2,33.6 23.8,33.2 23.0,32.0 C22.2,30.8 22.7,28.7 23.5,27.0 C24.3,25.3 26.6,23.7 28.0,22.0 C29.4,20.3 30.9,18.2 32.0,17.0 C33.1,15.8 33.6,14.8 34.6,14.5Z" fill="#1c30f0" stroke="#1c30f0" stroke-width="9.9" stroke-linejoin="round" opacity="0.85" filter="url(#b15)"/>
<path d="M34.6,14.5 C35.6,14.2 36.8,14.1 38.0,15.0 C39.2,15.9 40.7,18.3 42.0,20.0 C43.3,21.7 44.8,23.3 46.0,25.0 C47.2,26.7 48.6,28.3 49.0,30.0 C49.4,31.7 49.3,33.8 48.5,35.0 C47.7,36.2 45.8,36.8 44.0,37.0 C42.2,37.2 39.7,36.9 38.0,36.5 C36.3,36.1 35.7,34.9 34.0,34.5 C32.3,34.1 29.8,34.4 28.0,34.0 C26.2,33.6 23.8,33.2 23.0,32.0 C22.2,30.8 22.7,28.7 23.5,27.0 C24.3,25.3 26.6,23.7 28.0,22.0 C29.4,20.3 30.9,18.2 32.0,17.0 C33.1,15.8 33.6,14.8 34.6,14.5Z" fill="#2070ff" stroke="#2070ff" stroke-width="5.0" stroke-linejoin="round" opacity="0.9" filter="url(#b05)"/>
<path d="M34.6,14.5 C35.6,14.2 36.8,14.1 38.0,15.0 C39.2,15.9 40.7,18.3 42.0,20.0 C43.3,21.7 44.8,23.3 46.0,25.0 C47.2,26.7 48.6,28.3 49.0,30.0 C49.4,31.7 49.3,33.8 48.5,35.0 C47.7,36.2 45.8,36.8 44.0,37.0 C42.2,37.2 39.7,36.9 38.0,36.5 C36.3,36.1 35.7,34.9 34.0,34.5 C32.3,34.1 29.8,34.4 28.0,34.0 C26.2,33.6 23.8,33.2 23.0,32.0 C22.2,30.8 22.7,28.7 23.5,27.0 C24.3,25.3 26.6,23.7 28.0,22.0 C29.4,20.3 30.9,18.2 32.0,17.0 C33.1,15.8 33.6,14.8 34.6,14.5Z" fill="#40d8f0" stroke="#40d8f0" stroke-width="2.7" stroke-linejoin="round"/>
<path d="M34.6,14.5 C35.6,14.2 36.8,14.1 38.0,15.0 C39.2,15.9 40.7,18.3 42.0,20.0 C43.3,21.7 44.8,23.3 46.0,25.0 C47.2,26.7 48.6,28.3 49.0,30.0 C49.4,31.7 49.3,33.8 48.5,35.0 C47.7,36.2 45.8,36.8 44.0,37.0 C42.2,37.2 39.7,36.9 38.0,36.5 C36.3,36.1 35.7,34.9 34.0,34.5 C32.3,34.1 29.8,34.4 28.0,34.0 C26.2,33.6 23.8,33.2 23.0,32.0 C22.2,30.8 22.7,28.7 23.5,27.0 C24.3,25.3 26.6,23.7 28.0,22.0 C29.4,20.3 30.9,18.2 32.0,17.0 C33.1,15.8 33.6,14.8 34.6,14.5Z" fill="#e8e070" stroke="#e8e070" stroke-width="1.1" stroke-linejoin="round"/>
<path d="M34.6,14.5 C35.6,14.2 36.8,14.1 38.0,15.0 C39.2,15.9 40.7,18.3 42.0,20.0 C43.3,21.7 44.8,23.3 46.0,25.0 C47.2,26.7 48.6,28.3 49.0,30.0 C49.4,31.7 49.3,33.8 48.5,35.0 C47.7,36.2 45.8,36.8 44.0,37.0 C42.2,37.2 39.7,36.9 38.0,36.5 C36.3,36.1 35.7,34.9 34.0,34.5 C32.3,34.1 29.8,34.4 28.0,34.0 C26.2,33.6 23.8,33.2 23.0,32.0 C22.2,30.8 22.7,28.7 23.5,27.0 C24.3,25.3 26.6,23.7 28.0,22.0 C29.4,20.3 30.9,18.2 32.0,17.0 C33.1,15.8 33.6,14.8 34.6,14.5Z" fill="#c01010"/>
<path d="M34.9,17.0 C35.7,16.8 36.7,16.7 37.7,17.4 C38.7,18.2 39.8,20.1 40.9,21.4 C41.9,22.8 43.1,24.1 44.1,25.4 C45.0,26.8 46.1,28.1 46.5,29.4 C46.8,30.8 46.7,32.5 46.1,33.4 C45.4,34.4 43.9,34.8 42.5,35.0 C41.1,35.2 39.0,35.0 37.7,34.6 C36.3,34.3 35.8,33.4 34.5,33.0 C33.1,32.7 31.1,33.0 29.7,32.6 C28.2,32.3 26.3,32.0 25.7,31.0 C25.1,30.1 25.4,28.4 26.1,27.0 C26.7,25.7 28.5,24.4 29.7,23.0 C30.8,21.7 32.0,20.0 32.9,19.0 C33.7,18.0 34.1,17.3 34.9,17.0Z" fill="#a80010" filter="url(#b05)"/>
<defs><filter id="lo15" x="-5%" y="-5%" width="110%" height="110%" color-interpolation-filters="sRGB"><feTurbulence type="fractalNoise" baseFrequency="0.1" numOctaves="2" seed="108" result="n"/><feColorMatrix in="n" type="matrix" values="0 0 0 0 0.95 0 0 0 0 0.42 0 0 0 0 0.08 5 0 0 0 -2.6" result="c"/><feComposite in="c" in2="SourceAlpha" operator="in" result="m"/><feGaussianBlur in="m" stdDeviation="0.6"/></filter><filter id="ly15" x="-5%" y="-5%" width="110%" height="110%" color-interpolation-filters="sRGB"><feTurbulence type="fractalNoise" baseFrequency="0.11" numOctaves="2" seed="110" result="n"/><feColorMatrix in="n" type="matrix" values="0 0 0 0 0.95 0 0 0 0 0.88 0 0 0 0 0.35 5 0 0 0 -3.26" result="c"/><feComposite in="c" in2="SourceAlpha" operator="in" result="m"/><feGaussianBlur in="m" stdDeviation="0.6"/></filter></defs>
<path d="M34.6,14.5 C35.6,14.2 36.8,14.1 38.0,15.0 C39.2,15.9 40.7,18.3 42.0,20.0 C43.3,21.7 44.8,23.3 46.0,25.0 C47.2,26.7 48.6,28.3 49.0,30.0 C49.4,31.7 49.3,33.8 48.5,35.0 C47.7,36.2 45.8,36.8 44.0,37.0 C42.2,37.2 39.7,36.9 38.0,36.5 C36.3,36.1 35.7,34.9 34.0,34.5 C32.3,34.1 29.8,34.4 28.0,34.0 C26.2,33.6 23.8,33.2 23.0,32.0 C22.2,30.8 22.7,28.7 23.5,27.0 C24.3,25.3 26.6,23.7 28.0,22.0 C29.4,20.3 30.9,18.2 32.0,17.0 C33.1,15.8 33.6,14.8 34.6,14.5Z" fill="#000" filter="url(#lo15)"/>
<path d="M34.6,14.5 C35.6,14.2 36.8,14.1 38.0,15.0 C39.2,15.9 40.7,18.3 42.0,20.0 C43.3,21.7 44.8,23.3 46.0,25.0 C47.2,26.7 48.6,28.3 49.0,30.0 C49.4,31.7 49.3,33.8 48.5,35.0 C47.7,36.2 45.8,36.8 44.0,37.0 C42.2,37.2 39.7,36.9 38.0,36.5 C36.3,36.1 35.7,34.9 34.0,34.5 C32.3,34.1 29.8,34.4 28.0,34.0 C26.2,33.6 23.8,33.2 23.0,32.0 C22.2,30.8 22.7,28.7 23.5,27.0 C24.3,25.3 26.6,23.7 28.0,22.0 C29.4,20.3 30.9,18.2 32.0,17.0 C33.1,15.8 33.6,14.8 34.6,14.5Z" fill="#000" filter="url(#ly15)"/>
</g>
<path d="M33,33.5 Q36,28 40.5,28.5 Q43,30 41,33" fill="none" stroke="#d0f8f0" stroke-width="1.8" filter="url(#b05)"/>
</g></g>
<clipPath id="pc11"><rect x="0" y="0" width="75.00" height="96.40"/></clipPath>
<g transform="translate(402,125.6)"><g clip-path="url(#pc11)">
<rect width="75.00" height="96.40" fill="#000"/>
<g filter="url(#b05)">
<path d="M20.0,-2.0 C26.1,-4.7 49.9,-4.7 56.0,-2.0 C62.1,0.7 56.2,9.0 56.5,14.0 C56.8,19.0 56.9,23.7 57.5,28.0 C58.1,32.3 59.2,36.2 60.0,40.0 C60.8,43.8 61.8,47.7 62.0,50.7 C62.2,53.7 61.7,55.8 61.5,58.0 C61.3,60.2 61.4,62.0 60.6,63.7 C59.9,65.4 58.4,66.6 57.0,68.0 C55.6,69.4 54.2,70.8 52.0,72.0 C49.8,73.2 46.9,74.4 44.0,75.0 C41.1,75.6 37.6,75.8 34.6,75.5 C31.6,75.2 28.6,74.2 26.0,73.0 C23.4,71.8 20.9,70.2 19.0,68.5 C17.1,66.8 15.7,64.9 14.5,63.0 C13.3,61.1 12.6,59.0 12.0,57.0 C11.4,55.0 10.9,53.2 10.8,50.7 C10.7,48.2 11.0,44.8 11.5,42.0 C12.0,39.2 13.0,36.7 14.0,34.0 C15.0,31.3 16.6,29.3 17.5,26.0 C18.4,22.7 19.1,18.7 19.5,14.0 C19.9,9.3 13.9,0.7 20.0,-2.0Z" fill="url(#mg)"/>
<path d="M26.5,69.5 C28.8,67.7 44.2,67.7 46.5,69.5 C48.8,71.3 42.8,78.7 40.5,80.5 C38.2,82.3 34.8,82.3 32.5,80.5 C30.2,78.7 24.2,71.3 26.5,69.5Z" fill="#7a7a78"/>
<path d="M20.2,68.0 C20.4,69.0 22.6,71.9 21.6,73.8 C20.6,75.7 16.3,78.1 14.4,79.6 C12.5,81.0 11.1,81.8 10.0,82.5 C8.9,83.2 8.3,83.8 8.0,84.0" fill="none" stroke="#828282" stroke-width="4.6" stroke-linecap="round" stroke-linejoin="round"/>
<path d="M52.0,68.0 C52.2,69.0 51.7,72.1 53.4,73.8 C55.1,75.5 59.8,76.9 62.0,78.1 C64.2,79.3 65.4,80.2 66.4,81.0 C67.4,81.8 67.7,82.7 68.0,83.0" fill="none" stroke="#828282" stroke-width="4.6" stroke-linecap="round" stroke-linejoin="round"/>
<path d="M36.5,76.0 C36.5,79.8 36.5,95.2 36.5,99.0" fill="none" stroke="#828282" stroke-width="5" stroke-linecap="round"/>
</g>
<path d="M20.0,-2.0 C26.1,-4.7 49.9,-4.7 56.0,-2.0 C62.1,0.7 56.2,9.0 56.5,14.0 C56.8,19.0 56.9,23.7 57.5,28.0 C58.1,32.3 59.2,36.2 60.0,40.0 C60.8,43.8 61.8,47.7 62.0,50.7 C62.2,53.7 61.7,55.8 61.5,58.0 C61.3,60.2 61.4,62.0 60.6,63.7 C59.9,65.4 58.4,66.6 57.0,68.0 C55.6,69.4 54.2,70.8 52.0,72.0 C49.8,73.2 46.9,74.4 44.0,75.0 C41.1,75.6 37.6,75.8 34.6,75.5 C31.6,75.2 28.6,74.2 26.0,73.0 C23.4,71.8 20.9,70.2 19.0,68.5 C17.1,66.8 15.7,64.9 14.5,63.0 C13.3,61.1 12.6,59.0 12.0,57.0 C11.4,55.0 10.9,53.2 10.8,50.7 C10.7,48.2 11.0,44.8 11.5,42.0 C12.0,39.2 13.0,36.7 14.0,34.0 C15.0,31.3 16.6,29.3 17.5,26.0 C18.4,22.7 19.1,18.7 19.5,14.0 C19.9,9.3 13.9,0.7 20.0,-2.0Z" fill="none" stroke="#000" stroke-opacity="0.22" stroke-width="3" filter="url(#b1)"/>
<defs>
<filter id="tg111" x="-5%" y="-5%" width="110%" height="110%" color-interpolation-filters="sRGB"><feTurbulence type="turbulence" baseFrequency="0.056" numOctaves="1" seed="111" result="n"/><feColorMatrix in="n" type="matrix" values="0 0 0 0 0.5 0 0 0 0 0.49 0 0 0 0 0.44 -9 0 0 0 0.85" result="c"/><feComposite in="c" in2="SourceAlpha" operator="in" result="m"/><feGaussianBlur in="m" stdDeviation="0.7"/></filter>
<filter id="tl111" x="-5%" y="-5%" width="110%" height="110%" color-interpolation-filters="sRGB"><feTurbulence type="fractalNoise" baseFrequency="0.12" numOctaves="2" seed="611" result="n"/><feColorMatrix in="n" type="matrix" values="0 0 0 0 0.15 0 0 0 0 0.42 0 0 0 0 1.0 4 0 0 0 -1.8" result="c"/><feComposite in="c" in2="SourceAlpha" operator="in" result="m"/><feGaussianBlur in="m" stdDeviation="0.8"/></filter>
<filter id="td111" x="-5%" y="-5%" width="110%" height="110%" color-interpolation-filters="sRGB"><feTurbulence type="fractalNoise" baseFrequency="0.1" numOctaves="2" seed="1011" result="n"/><feColorMatrix in="n" type="matrix" values="0 0 0 0 0.08 0 0 0 0 0.03 0 0 0 0 0.62 4 0 0 0 -2.0" result="c"/><feComposite in="c" in2="SourceAlpha" operator="in" result="m"/><feGaussianBlur in="m" stdDeviation="0.8"/></filter>
<filter id="tc111" x="-5%" y="-5%" width="110%" height="110%" color-interpolation-filters="sRGB"><feTurbulence type="fractalNoise" baseFrequency="0.09" numOctaves="2" seed="811" result="n"/><feColorMatrix in="n" type="matrix" values="0 0 0 0 0.2 0 0 0 0 0.72 0 0 0 0 1.0 5 0 0 0 -3.45" result="c"/><feComposite in="c" in2="SourceAlpha" operator="in" result="m"/><feGaussianBlur in="m" stdDeviation="0.8"/></filter>
<filter id="bb111" x="-30%" y="-30%" width="160%" height="160%"><feGaussianBlur stdDeviation="1.2"/></filter>
</defs>
<g filter="url(#bb111)"><path d="M17.0,20.0 C18.3,18.5 22.2,17.3 24.0,19.0 C25.8,20.7 27.3,26.2 28.0,30.0 C28.7,33.8 28.0,38.3 28.0,42.0 C28.0,45.7 28.2,49.3 28.0,52.0 C27.8,54.7 28.3,56.7 27.0,58.0 C25.7,59.3 22.3,60.3 20.0,60.0 C17.7,59.7 14.2,58.3 13.0,56.0 C11.8,53.7 12.3,49.3 12.5,46.0 C12.7,42.7 13.4,39.0 14.0,36.0 C14.6,33.0 15.5,30.7 16.0,28.0 C16.5,25.3 15.7,21.5 17.0,20.0Z" fill="#1c22e8" fill-opacity="1.0"/>
<path d="M17.0,20.0 C18.3,18.5 22.2,17.3 24.0,19.0 C25.8,20.7 27.3,26.2 28.0,30.0 C28.7,33.8 28.0,38.3 28.0,42.0 C28.0,45.7 28.2,49.3 28.0,52.0 C27.8,54.7 28.3,56.7 27.0,58.0 C25.7,59.3 22.3,60.3 20.0,60.0 C17.7,59.7 14.2,58.3 13.0,56.0 C11.8,53.7 12.3,49.3 12.5,46.0 C12.7,42.7 13.4,39.0 14.0,36.0 C14.6,33.0 15.5,30.7 16.0,28.0 C16.5,25.3 15.7,21.5 17.0,20.0Z" fill="#000" filter="url(#td111)"/>
<path d="M17.0,20.0 C18.3,18.5 22.2,17.3 24.0,19.0 C25.8,20.7 27.3,26.2 28.0,30.0 C28.7,33.8 28.0,38.3 28.0,42.0 C28.0,45.7 28.2,49.3 28.0,52.0 C27.8,54.7 28.3,56.7 27.0,58.0 C25.7,59.3 22.3,60.3 20.0,60.0 C17.7,59.7 14.2,58.3 13.0,56.0 C11.8,53.7 12.3,49.3 12.5,46.0 C12.7,42.7 13.4,39.0 14.0,36.0 C14.6,33.0 15.5,30.7 16.0,28.0 C16.5,25.3 15.7,21.5 17.0,20.0Z" fill="#000" filter="url(#tl111)"/>
<path d="M17.0,20.0 C18.3,18.5 22.2,17.3 24.0,19.0 C25.8,20.7 27.3,26.2 28.0,30.0 C28.7,33.8 28.0,38.3 28.0,42.0 C28.0,45.7 28.2,49.3 28.0,52.0 C27.8,54.7 28.3,56.7 27.0,58.0 C25.7,59.3 22.3,60.3 20.0,60.0 C17.7,59.7 14.2,58.3 13.0,56.0 C11.8,53.7 12.3,49.3 12.5,46.0 C12.7,42.7 13.4,39.0 14.0,36.0 C14.6,33.0 15.5,30.7 16.0,28.0 C16.5,25.3 15.7,21.5 17.0,20.0Z" fill="#000" filter="url(#tc111)"/>
<path d="M17.0,20.0 C18.3,18.5 22.2,17.3 24.0,19.0 C25.8,20.7 27.3,26.2 28.0,30.0 C28.7,33.8 28.0,38.3 28.0,42.0 C28.0,45.7 28.2,49.3 28.0,52.0 C27.8,54.7 28.3,56.7 27.0,58.0 C25.7,59.3 22.3,60.3 20.0,60.0 C17.7,59.7 14.2,58.3 13.0,56.0 C11.8,53.7 12.3,49.3 12.5,46.0 C12.7,42.7 13.4,39.0 14.0,36.0 C14.6,33.0 15.5,30.7 16.0,28.0 C16.5,25.3 15.7,21.5 17.0,20.0Z" fill="#000" filter="url(#tg111)"/></g>
<defs>
<filter id="tg112" x="-5%" y="-5%" width="110%" height="110%" color-interpolation-filters="sRGB"><feTurbulence type="turbulence" baseFrequency="0.056" numOctaves="1" seed="112" result="n"/><feColorMatrix in="n" type="matrix" values="0 0 0 0 0.5 0 0 0 0 0.49 0 0 0 0 0.44 -9 0 0 0 0.85" result="c"/><feComposite in="c" in2="SourceAlpha" operator="in" result="m"/><feGaussianBlur in="m" stdDeviation="0.7"/></filter>
<filter id="tl112" x="-5%" y="-5%" width="110%" height="110%" color-interpolation-filters="sRGB"><feTurbulence type="fractalNoise" baseFrequency="0.12" numOctaves="2" seed="612" result="n"/><feColorMatrix in="n" type="matrix" values="0 0 0 0 0.15 0 0 0 0 0.42 0 0 0 0 1.0 4 0 0 0 -1.8" result="c"/><feComposite in="c" in2="SourceAlpha" operator="in" result="m"/><feGaussianBlur in="m" stdDeviation="0.8"/></filter>
<filter id="td112" x="-5%" y="-5%" width="110%" height="110%" color-interpolation-filters="sRGB"><feTurbulence type="fractalNoise" baseFrequency="0.1" numOctaves="2" seed="1012" result="n"/><feColorMatrix in="n" type="matrix" values="0 0 0 0 0.08 0 0 0 0 0.03 0 0 0 0 0.62 4 0 0 0 -2.0" result="c"/><feComposite in="c" in2="SourceAlpha" operator="in" result="m"/><feGaussianBlur in="m" stdDeviation="0.8"/></filter>
<filter id="tc112" x="-5%" y="-5%" width="110%" height="110%" color-interpolation-filters="sRGB"><feTurbulence type="fractalNoise" baseFrequency="0.09" numOctaves="2" seed="812" result="n"/><feColorMatrix in="n" type="matrix" values="0 0 0 0 0.2 0 0 0 0 0.72 0 0 0 0 1.0 5 0 0 0 -3.45" result="c"/><feComposite in="c" in2="SourceAlpha" operator="in" result="m"/><feGaussianBlur in="m" stdDeviation="0.8"/></filter>
<filter id="bb112" x="-30%" y="-30%" width="160%" height="160%"><feGaussianBlur stdDeviation="1.2"/></filter>
</defs>
<g filter="url(#bb112)"><path d="M46.0,22.0 C47.3,20.0 52.2,20.7 54.0,22.0 C55.8,23.3 56.7,27.3 57.0,30.0 C57.3,32.7 57.2,36.3 56.0,38.0 C54.8,39.7 51.7,40.7 50.0,40.0 C48.3,39.3 46.7,37.0 46.0,34.0 C45.3,31.0 44.7,24.0 46.0,22.0Z" fill="#1c22e8" fill-opacity="1.0"/>
<path d="M46.0,22.0 C47.3,20.0 52.2,20.7 54.0,22.0 C55.8,23.3 56.7,27.3 57.0,30.0 C57.3,32.7 57.2,36.3 56.0,38.0 C54.8,39.7 51.7,40.7 50.0,40.0 C48.3,39.3 46.7,37.0 46.0,34.0 C45.3,31.0 44.7,24.0 46.0,22.0Z" fill="#000" filter="url(#td112)"/>
<path d="M46.0,22.0 C47.3,20.0 52.2,20.7 54.0,22.0 C55.8,23.3 56.7,27.3 57.0,30.0 C57.3,32.7 57.2,36.3 56.0,38.0 C54.8,39.7 51.7,40.7 50.0,40.0 C48.3,39.3 46.7,37.0 46.0,34.0 C45.3,31.0 44.7,24.0 46.0,22.0Z" fill="#000" filter="url(#tl112)"/>
<path d="M46.0,22.0 C47.3,20.0 52.2,20.7 54.0,22.0 C55.8,23.3 56.7,27.3 57.0,30.0 C57.3,32.7 57.2,36.3 56.0,38.0 C54.8,39.7 51.7,40.7 50.0,40.0 C48.3,39.3 46.7,37.0 46.0,34.0 C45.3,31.0 44.7,24.0 46.0,22.0Z" fill="#000" filter="url(#tc112)"/>
<path d="M46.0,22.0 C47.3,20.0 52.2,20.7 54.0,22.0 C55.8,23.3 56.7,27.3 57.0,30.0 C57.3,32.7 57.2,36.3 56.0,38.0 C54.8,39.7 51.7,40.7 50.0,40.0 C48.3,39.3 46.7,37.0 46.0,34.0 C45.3,31.0 44.7,24.0 46.0,22.0Z" fill="#000" filter="url(#tg112)"/></g>
<ellipse cx="38" cy="55" rx="5" ry="3.5" fill="#1e3cf2" fill-opacity="1" filter="url(#b05)"/>
<ellipse cx="33" cy="63" rx="4.5" ry="3" fill="#1e3cf2" fill-opacity="1" filter="url(#b05)"/>
<ellipse cx="42.5" cy="37.5" rx="3.5" ry="4.5" fill="#1e3cf2" fill-opacity="0.85" filter="url(#b05)"/>
<ellipse cx="16" cy="42" rx="2.2" ry="2.2" fill="#35d0ff" fill-opacity="1" filter="url(#b05)"/>
<g filter="url(#b05)">
<path d="M35.7,5.5 C37.4,5.4 39.3,7.2 41.0,8.5 C42.7,9.8 44.7,11.3 46.0,13.0 C47.3,14.7 48.8,16.9 49.0,18.5 C49.2,20.1 48.3,21.4 47.0,22.5 C45.7,23.6 43.0,24.6 41.0,25.0 C39.0,25.4 37.2,25.4 35.0,25.0 C32.8,24.6 29.8,23.3 28.0,22.5 C26.2,21.7 24.7,21.4 24.5,20.0 C24.3,18.6 25.9,15.8 27.0,14.0 C28.1,12.2 29.6,10.4 31.0,9.0 C32.5,7.6 34.0,5.6 35.7,5.5Z" fill="#2050ff" stroke="#2050ff" stroke-width="5" stroke-linejoin="round" opacity="0.95" filter="url(#b05)"/>
<path d="M35.7,5.5 C37.4,5.4 39.3,7.2 41.0,8.5 C42.7,9.8 44.7,11.3 46.0,13.0 C47.3,14.7 48.8,16.9 49.0,18.5 C49.2,20.1 48.3,21.4 47.0,22.5 C45.7,23.6 43.0,24.6 41.0,25.0 C39.0,25.4 37.2,25.4 35.0,25.0 C32.8,24.6 29.8,23.3 28.0,22.5 C26.2,21.7 24.7,21.4 24.5,20.0 C24.3,18.6 25.9,15.8 27.0,14.0 C28.1,12.2 29.6,10.4 31.0,9.0 C32.5,7.6 34.0,5.6 35.7,5.5Z" fill="#30c0f8" stroke="#30c0f8" stroke-width="2.2" stroke-linejoin="round"/>
<path d="M35.7,5.5 C37.4,5.4 39.3,7.2 41.0,8.5 C42.7,9.8 44.7,11.3 46.0,13.0 C47.3,14.7 48.8,16.9 49.0,18.5 C49.2,20.1 48.3,21.4 47.0,22.5 C45.7,23.6 43.0,24.6 41.0,25.0 C39.0,25.4 37.2,25.4 35.0,25.0 C32.8,24.6 29.8,23.3 28.0,22.5 C26.2,21.7 24.7,21.4 24.5,20.0 C24.3,18.6 25.9,15.8 27.0,14.0 C28.1,12.2 29.6,10.4 31.0,9.0 C32.5,7.6 34.0,5.6 35.7,5.5Z" fill="#90e878"/>
</g>
<path d="M26,19.4 L33.4,10.5 L43.4,13.2 L47.5,18.6" fill="none" stroke="#e8c040" stroke-width="5" stroke-linejoin="round" stroke-linecap="round" filter="url(#b05)"/>
<path d="M27,18.5 L33.4,11.5 L40,12.5" fill="none" stroke="#e86020" stroke-width="3" stroke-linejoin="round" stroke-linecap="round" filter="url(#b05)"/>
<path d="M33,22.2 L46,21.6" fill="none" stroke="#c8e050" stroke-width="3" stroke-linecap="round" filter="url(#b05)"/>
<ellipse cx="31.8" cy="14.4" rx="3" ry="2.4" fill="#d02010" fill-opacity="1" filter="url(#b05)"/>
<ellipse cx="31.8" cy="14.4" rx="1.6" ry="1.4" fill="#a00808" fill-opacity="1" filter="url(#b05)"/>
<ellipse cx="42" cy="14.8" rx="2.6" ry="2.2" fill="#e87020" fill-opacity="1" filter="url(#b05)"/>
<ellipse cx="38.4" cy="22.6" rx="2" ry="1.3" fill="#e89030" fill-opacity="1" filter="url(#b05)"/>
<ellipse cx="36.8" cy="18.6" rx="3.2" ry="1.8" fill="#2060f0" fill-opacity="1" filter="url(#b05)"/>
</g></g>
<rect x="487.2" y="59.8" width="8.8" height="104.2" fill="url(#jet)"/>
<line x1="496" y1="59.9" x2="498.5" y2="59.9" stroke="#555" stroke-width="0.6"/>
<text x="499.5" y="61.699999999999996" font-size="5" font-weight="normal" text-anchor="start" fill="#333" >2,000.00</text>
<line x1="496" y1="85.8" x2="498.5" y2="85.8" stroke="#555" stroke-width="0.6"/>
<text x="499.5" y="87.6" font-size="5" font-weight="normal" text-anchor="start" fill="#333" >1,500.00</text>
<line x1="496" y1="111.7" x2="498.5" y2="111.7" stroke="#555" stroke-width="0.6"/>
<text x="499.5" y="113.49999999999999" font-size="5" font-weight="normal" text-anchor="start" fill="#333" >1,000.00</text>
<line x1="496" y1="137.6" x2="498.5" y2="137.6" stroke="#555" stroke-width="0.6"/>
<text x="499.5" y="139.4" font-size="5" font-weight="normal" text-anchor="start" fill="#333" >500.00</text>
<line x1="496" y1="163.5" x2="498.5" y2="163.5" stroke="#555" stroke-width="0.6"/>
<text x="499.5" y="165.3" font-size="5" font-weight="normal" text-anchor="start" fill="#333" >0.00</text>
<text x="7.4" y="33.4" font-size="11" font-weight="bold" text-anchor="start" fill="#eeee3a" >5T4-Ab-VT680</text>
<text x="7.4" y="137.2" font-size="11" font-weight="bold" text-anchor="start" fill="#eeee3a" >5T4-ADC-VT680</text>
<text x="1.6" y="238" font-size="12" font-weight="bold" text-anchor="start" fill="#000" >B</text>

<line x1="26.699999999999996" y1="345.2" x2="163.60000000000002" y2="345.2" stroke="#000" stroke-width="0.9"/>
<line x1="60.8" y1="254.7" x2="60.8" y2="348.5" stroke="#000" stroke-width="0.9"/>
<line x1="26.699999999999996" y1="345.2" x2="26.699999999999996" y2="348.5" stroke="#000" stroke-width="0.9"/>
<text x="26.699999999999996" y="355.2" font-size="7.5" font-weight="bold" text-anchor="middle" fill="#000" >–5</text>
<line x1="60.8" y1="345.2" x2="60.8" y2="348.5" stroke="#000" stroke-width="0.9"/>
<text x="60.8" y="355.2" font-size="7.5" font-weight="bold" text-anchor="middle" fill="#000" >0</text>
<line x1="94.9" y1="345.2" x2="94.9" y2="348.5" stroke="#000" stroke-width="0.9"/>
<text x="94.9" y="355.2" font-size="7.5" font-weight="bold" text-anchor="middle" fill="#000" >5</text>
<line x1="129.0" y1="345.2" x2="129.0" y2="348.5" stroke="#000" stroke-width="0.9"/>
<text x="129.0" y="355.2" font-size="7.5" font-weight="bold" text-anchor="middle" fill="#000" >10</text>
<line x1="163.10000000000002" y1="345.2" x2="163.10000000000002" y2="348.5" stroke="#000" stroke-width="0.9"/>
<text x="163.10000000000002" y="355.2" font-size="7.5" font-weight="bold" text-anchor="middle" fill="#000" >15</text>
<line x1="43.75" y1="345.2" x2="43.75" y2="347" stroke="#000" stroke-width="0.8"/>
<line x1="77.85" y1="345.2" x2="77.85" y2="347" stroke="#000" stroke-width="0.8"/>
<line x1="111.95" y1="345.2" x2="111.95" y2="347" stroke="#000" stroke-width="0.8"/>
<line x1="146.05" y1="345.2" x2="146.05" y2="347" stroke="#000" stroke-width="0.8"/>
<line x1="57.8" y1="327.09999999999997" x2="60.8" y2="327.09999999999997" stroke="#000" stroke-width="0.9"/>
<text x="57.199999999999996" y="329.4" font-size="6.6" font-weight="bold" text-anchor="end" fill="#000" >200</text>
<line x1="57.8" y1="309.0" x2="60.8" y2="309.0" stroke="#000" stroke-width="0.9"/>
<text x="57.199999999999996" y="311.3" font-size="6.6" font-weight="bold" text-anchor="end" fill="#000" >400</text>
<line x1="57.8" y1="290.9" x2="60.8" y2="290.9" stroke="#000" stroke-width="0.9"/>
<text x="57.199999999999996" y="293.2" font-size="6.6" font-weight="bold" text-anchor="end" fill="#000" >600</text>
<line x1="57.8" y1="272.8" x2="60.8" y2="272.8" stroke="#000" stroke-width="0.9"/>
<text x="57.199999999999996" y="275.1" font-size="6.6" font-weight="bold" text-anchor="end" fill="#000" >800</text>
<line x1="57.8" y1="254.7" x2="60.8" y2="254.7" stroke="#000" stroke-width="0.9"/>
<text x="57.199999999999996" y="257.0" font-size="6.6" font-weight="bold" text-anchor="end" fill="#000" textLength="14.6" lengthAdjust="spacingAndGlyphs">1,000</text>
<line x1="59.0" y1="336.15" x2="60.8" y2="336.15" stroke="#000" stroke-width="0.8"/>
<line x1="59.0" y1="318.05" x2="60.8" y2="318.05" stroke="#000" stroke-width="0.8"/>
<line x1="59.0" y1="299.95" x2="60.8" y2="299.95" stroke="#000" stroke-width="0.8"/>
<line x1="59.0" y1="281.84999999999997" x2="60.8" y2="281.84999999999997" stroke="#000" stroke-width="0.8"/>
<line x1="59.0" y1="263.75" x2="60.8" y2="263.75" stroke="#000" stroke-width="0.8"/>
<text x="58.3" y="366.0" font-size="7.8" font-weight="bold" text-anchor="start" fill="#000" >Days (postinjection)</text>
<text transform="translate(37.9,300.4) rotate(-90)" font-size="8.3" font-weight="bold" text-anchor="middle">Tumor volume (mm<tspan dy="-2.8" font-size="5.6">3</tspan><tspan dy="2.8">)</tspan></text>
<polyline points="40.3,319.0 60.8,305.4 81.3,280.5 108.5,307.2 129.0,310.4" fill="none" stroke="#d42a2a" stroke-width="1.1"/>
<line x1="40.3" y1="315.3" x2="40.3" y2="322.6" stroke="#d42a2a" stroke-width="0.9"/>
<line x1="38.5" y1="315.3" x2="42.1" y2="315.3" stroke="#d42a2a" stroke-width="0.9"/>
<line x1="38.5" y1="322.6" x2="42.1" y2="322.6" stroke="#d42a2a" stroke-width="0.9"/>
<rect x="38.9" y="317.6" width="2.8" height="2.8" fill="#d42a2a"/>
<line x1="60.8" y1="299.0" x2="60.8" y2="311.7" stroke="#d42a2a" stroke-width="0.9"/>
<line x1="59.0" y1="299.0" x2="62.6" y2="299.0" stroke="#d42a2a" stroke-width="0.9"/>
<line x1="59.0" y1="311.7" x2="62.6" y2="311.7" stroke="#d42a2a" stroke-width="0.9"/>
<rect x="59.4" y="304.0" width="2.8" height="2.8" fill="#d42a2a"/>
<line x1="81.3" y1="261.9" x2="81.3" y2="299.0" stroke="#d42a2a" stroke-width="0.9"/>
<line x1="79.5" y1="261.9" x2="83.1" y2="261.9" stroke="#d42a2a" stroke-width="0.9"/>
<line x1="79.5" y1="299.0" x2="83.1" y2="299.0" stroke="#d42a2a" stroke-width="0.9"/>
<rect x="79.9" y="279.1" width="2.8" height="2.8" fill="#d42a2a"/>
<line x1="108.5" y1="300.4" x2="108.5" y2="314.0" stroke="#d42a2a" stroke-width="0.9"/>
<line x1="106.7" y1="300.4" x2="110.3" y2="300.4" stroke="#d42a2a" stroke-width="0.9"/>
<line x1="106.7" y1="314.0" x2="110.3" y2="314.0" stroke="#d42a2a" stroke-width="0.9"/>
<rect x="107.1" y="305.8" width="2.8" height="2.8" fill="#d42a2a"/>
<line x1="129.0" y1="303.6" x2="129.0" y2="317.1" stroke="#d42a2a" stroke-width="0.9"/>
<line x1="127.2" y1="303.6" x2="130.8" y2="303.6" stroke="#d42a2a" stroke-width="0.9"/>
<line x1="127.2" y1="317.1" x2="130.8" y2="317.1" stroke="#d42a2a" stroke-width="0.9"/>
<rect x="127.6" y="309.0" width="2.8" height="2.8" fill="#d42a2a"/>
<polyline points="40.3,327.1 60.8,313.5 81.3,294.1 108.5,282.8 129.0,279.1" fill="none" stroke="#2222cc" stroke-width="1.1"/>
<line x1="40.3" y1="325.7" x2="40.3" y2="328.5" stroke="#2222cc" stroke-width="0.9"/>
<line x1="38.5" y1="325.7" x2="42.1" y2="325.7" stroke="#2222cc" stroke-width="0.9"/>
<line x1="38.5" y1="328.5" x2="42.1" y2="328.5" stroke="#2222cc" stroke-width="0.9"/>
<rect x="38.9" y="325.7" width="2.8" height="2.8" fill="#2222cc"/>
<line x1="60.8" y1="309.0" x2="60.8" y2="318.1" stroke="#2222cc" stroke-width="0.9"/>
<line x1="59.0" y1="309.0" x2="62.6" y2="309.0" stroke="#2222cc" stroke-width="0.9"/>
<line x1="59.0" y1="318.1" x2="62.6" y2="318.1" stroke="#2222cc" stroke-width="0.9"/>
<rect x="59.4" y="312.1" width="2.8" height="2.8" fill="#2222cc"/>
<line x1="81.3" y1="285.5" x2="81.3" y2="302.7" stroke="#2222cc" stroke-width="0.9"/>
<line x1="79.5" y1="285.5" x2="83.1" y2="285.5" stroke="#2222cc" stroke-width="0.9"/>
<line x1="79.5" y1="302.7" x2="83.1" y2="302.7" stroke="#2222cc" stroke-width="0.9"/>
<rect x="79.9" y="292.7" width="2.8" height="2.8" fill="#2222cc"/>
<line x1="108.5" y1="268.3" x2="108.5" y2="297.2" stroke="#2222cc" stroke-width="0.9"/>
<line x1="106.7" y1="268.3" x2="110.3" y2="268.3" stroke="#2222cc" stroke-width="0.9"/>
<line x1="106.7" y1="297.2" x2="110.3" y2="297.2" stroke="#2222cc" stroke-width="0.9"/>
<rect x="107.1" y="281.4" width="2.8" height="2.8" fill="#2222cc"/>
<line x1="129.0" y1="260.6" x2="129.0" y2="297.7" stroke="#2222cc" stroke-width="0.9"/>
<line x1="127.2" y1="260.6" x2="130.8" y2="260.6" stroke="#2222cc" stroke-width="0.9"/>
<line x1="127.2" y1="297.7" x2="130.8" y2="297.7" stroke="#2222cc" stroke-width="0.9"/>
<rect x="127.6" y="277.7" width="2.8" height="2.8" fill="#2222cc"/>
<line x1="143.5" y1="284.3" x2="154" y2="284.3" stroke="#2222cc" stroke-width="1.1"/><rect x="147.4" y="283" width="2.6" height="2.6" fill="#2222cc"/>
<line x1="143.5" y1="293.8" x2="154" y2="293.8" stroke="#d42a2a" stroke-width="1.1"/><rect x="147.4" y="292.5" width="2.6" height="2.6" fill="#d42a2a"/>
<text x="157.8" y="286.6" font-size="6.2" font-weight="bold" text-anchor="start" fill="#000" >5T4-Ab-VT680</text>
<text x="157.8" y="296.2" font-size="6.2" font-weight="bold" text-anchor="start" fill="#000" >5T4-ADC-VT680</text>
<text x="250.6" y="238" font-size="12" font-weight="bold" text-anchor="start" fill="#000" >C</text>
<line x1="281.8" y1="343.2" x2="411.3" y2="343.2" stroke="#000" stroke-width="0.9"/>
<line x1="281.8" y1="256.2" x2="281.8" y2="346.5" stroke="#000" stroke-width="0.9"/>
<line x1="281.8" y1="343.2" x2="281.8" y2="346.3" stroke="#000" stroke-width="0.9"/>
<text x="281.8" y="352.4" font-size="6.6" font-weight="bold" text-anchor="middle" fill="#000" >0</text>
<line x1="307.7" y1="343.2" x2="307.7" y2="346.3" stroke="#000" stroke-width="0.9"/>
<text x="307.7" y="352.4" font-size="6.6" font-weight="bold" text-anchor="middle" fill="#000" >50</text>
<line x1="333.6" y1="343.2" x2="333.6" y2="346.3" stroke="#000" stroke-width="0.9"/>
<text x="333.6" y="352.4" font-size="6.6" font-weight="bold" text-anchor="middle" fill="#000" >100</text>
<line x1="359.5" y1="343.2" x2="359.5" y2="346.3" stroke="#000" stroke-width="0.9"/>
<text x="359.5" y="352.4" font-size="6.6" font-weight="bold" text-anchor="middle" fill="#000" >150</text>
<line x1="385.4" y1="343.2" x2="385.4" y2="346.3" stroke="#000" stroke-width="0.9"/>
<text x="385.40000000000003" y="352.4" font-size="6.6" font-weight="bold" text-anchor="middle" fill="#000" >200</text>
<line x1="411.3" y1="343.2" x2="411.3" y2="346.3" stroke="#000" stroke-width="0.9"/>
<text x="411.3" y="352.4" font-size="6.6" font-weight="bold" text-anchor="middle" fill="#000" >250</text>
<line x1="294.8" y1="343.2" x2="294.8" y2="345.2" stroke="#000" stroke-width="0.8"/>
<line x1="320.7" y1="343.2" x2="320.7" y2="345.2" stroke="#000" stroke-width="0.8"/>
<line x1="346.6" y1="343.2" x2="346.6" y2="345.2" stroke="#000" stroke-width="0.8"/>
<line x1="372.5" y1="343.2" x2="372.5" y2="345.2" stroke="#000" stroke-width="0.8"/>
<line x1="398.4" y1="343.2" x2="398.4" y2="345.2" stroke="#000" stroke-width="0.8"/>
<line x1="278.8" y1="343.2" x2="281.8" y2="343.2" stroke="#000" stroke-width="0.9"/>
<text x="278.2" y="345.5" font-size="6.6" font-weight="bold" text-anchor="end" fill="#000" >0</text>
<line x1="278.8" y1="325.8" x2="281.8" y2="325.8" stroke="#000" stroke-width="0.9"/>
<text x="278.2" y="328.1" font-size="6.6" font-weight="bold" text-anchor="end" fill="#000" >5</text>
<line x1="278.8" y1="308.4" x2="281.8" y2="308.4" stroke="#000" stroke-width="0.9"/>
<text x="278.2" y="310.7" font-size="6.6" font-weight="bold" text-anchor="end" fill="#000" >10</text>
<line x1="278.8" y1="291.0" x2="281.8" y2="291.0" stroke="#000" stroke-width="0.9"/>
<text x="278.2" y="293.3" font-size="6.6" font-weight="bold" text-anchor="end" fill="#000" >15</text>
<line x1="278.8" y1="273.6" x2="281.8" y2="273.6" stroke="#000" stroke-width="0.9"/>
<text x="278.2" y="275.90000000000003" font-size="6.6" font-weight="bold" text-anchor="end" fill="#000" >20</text>
<line x1="278.8" y1="256.2" x2="281.8" y2="256.2" stroke="#000" stroke-width="0.9"/>
<text x="278.2" y="258.5" font-size="6.6" font-weight="bold" text-anchor="end" fill="#000" >25</text>
<text x="346.4" y="363.2" font-size="8.2" font-weight="bold" text-anchor="middle" fill="#000" >Time (h)</text>
<text transform="translate(263,299) rotate(-90)" font-size="7.6" font-weight="bold" text-anchor="middle" textLength="57.7" lengthAdjust="spacingAndGlyphs">% ID/Tumor size</text>
<polyline points="281.8,325.5 282.3,320.6 284.9,313.6 294.2,304.2 306.7,314.0 331.5,319.9 406.1,331.7" fill="none" stroke="#d42a2a" stroke-width="1.1"/>
<line x1="281.8" y1="322.7" x2="281.8" y2="328.2" stroke="#d42a2a" stroke-width="0.9"/>
<line x1="280.2" y1="322.7" x2="283.4" y2="322.7" stroke="#d42a2a" stroke-width="0.9"/>
<line x1="280.2" y1="328.2" x2="283.4" y2="328.2" stroke="#d42a2a" stroke-width="0.9"/>
<rect x="280.5" y="324.2" width="2.6" height="2.6" fill="#d42a2a"/>
<line x1="282.3" y1="317.8" x2="282.3" y2="323.4" stroke="#d42a2a" stroke-width="0.9"/>
<line x1="280.7" y1="317.8" x2="283.9" y2="317.8" stroke="#d42a2a" stroke-width="0.9"/>
<line x1="280.7" y1="323.4" x2="283.9" y2="323.4" stroke="#d42a2a" stroke-width="0.9"/>
<rect x="281.0" y="319.3" width="2.6" height="2.6" fill="#d42a2a"/>
<line x1="284.9" y1="308.1" x2="284.9" y2="319.2" stroke="#d42a2a" stroke-width="0.9"/>
<line x1="283.3" y1="308.1" x2="286.5" y2="308.1" stroke="#d42a2a" stroke-width="0.9"/>
<line x1="283.3" y1="319.2" x2="286.5" y2="319.2" stroke="#d42a2a" stroke-width="0.9"/>
<rect x="283.6" y="312.3" width="2.6" height="2.6" fill="#d42a2a"/>
<line x1="294.2" y1="294.5" x2="294.2" y2="314.0" stroke="#d42a2a" stroke-width="0.9"/>
<line x1="292.6" y1="294.5" x2="295.8" y2="294.5" stroke="#d42a2a" stroke-width="0.9"/>
<line x1="292.6" y1="314.0" x2="295.8" y2="314.0" stroke="#d42a2a" stroke-width="0.9"/>
<rect x="292.9" y="302.9" width="2.6" height="2.6" fill="#d42a2a"/>
<line x1="306.7" y1="309.8" x2="306.7" y2="318.1" stroke="#d42a2a" stroke-width="0.9"/>
<line x1="305.1" y1="309.8" x2="308.3" y2="309.8" stroke="#d42a2a" stroke-width="0.9"/>
<line x1="305.1" y1="318.1" x2="308.3" y2="318.1" stroke="#d42a2a" stroke-width="0.9"/>
<rect x="305.4" y="312.7" width="2.6" height="2.6" fill="#d42a2a"/>
<line x1="331.5" y1="316.4" x2="331.5" y2="323.4" stroke="#d42a2a" stroke-width="0.9"/>
<line x1="329.9" y1="316.4" x2="333.1" y2="316.4" stroke="#d42a2a" stroke-width="0.9"/>
<line x1="329.9" y1="323.4" x2="333.1" y2="323.4" stroke="#d42a2a" stroke-width="0.9"/>
<rect x="330.2" y="318.6" width="2.6" height="2.6" fill="#d42a2a"/>
<line x1="406.1" y1="329.3" x2="406.1" y2="334.2" stroke="#d42a2a" stroke-width="0.9"/>
<line x1="404.5" y1="329.3" x2="407.7" y2="329.3" stroke="#d42a2a" stroke-width="0.9"/>
<line x1="404.5" y1="334.2" x2="407.7" y2="334.2" stroke="#d42a2a" stroke-width="0.9"/>
<rect x="404.8" y="330.4" width="2.6" height="2.6" fill="#d42a2a"/>
<polyline points="281.8,308.4 282.3,301.4 284.9,293.1 294.2,286.5 306.7,306.0 331.5,310.5 406.1,328.6" fill="none" stroke="#2222cc" stroke-width="1.1"/>
<line x1="281.8" y1="301.4" x2="281.8" y2="315.4" stroke="#2222cc" stroke-width="0.9"/>
<line x1="280.2" y1="301.4" x2="283.4" y2="301.4" stroke="#2222cc" stroke-width="0.9"/>
<line x1="280.2" y1="315.4" x2="283.4" y2="315.4" stroke="#2222cc" stroke-width="0.9"/>
<rect x="280.5" y="307.1" width="2.6" height="2.6" fill="#2222cc"/>
<line x1="282.3" y1="294.5" x2="282.3" y2="308.4" stroke="#2222cc" stroke-width="0.9"/>
<line x1="280.7" y1="294.5" x2="283.9" y2="294.5" stroke="#2222cc" stroke-width="0.9"/>
<line x1="280.7" y1="308.4" x2="283.9" y2="308.4" stroke="#2222cc" stroke-width="0.9"/>
<rect x="281.0" y="300.1" width="2.6" height="2.6" fill="#2222cc"/>
<line x1="284.9" y1="272.9" x2="284.9" y2="313.3" stroke="#2222cc" stroke-width="0.9"/>
<line x1="283.3" y1="272.9" x2="286.5" y2="272.9" stroke="#2222cc" stroke-width="0.9"/>
<line x1="283.3" y1="313.3" x2="286.5" y2="313.3" stroke="#2222cc" stroke-width="0.9"/>
<rect x="283.6" y="291.8" width="2.6" height="2.6" fill="#2222cc"/>
<line x1="294.2" y1="271.5" x2="294.2" y2="301.4" stroke="#2222cc" stroke-width="0.9"/>
<line x1="292.6" y1="271.5" x2="295.8" y2="271.5" stroke="#2222cc" stroke-width="0.9"/>
<line x1="292.6" y1="301.4" x2="295.8" y2="301.4" stroke="#2222cc" stroke-width="0.9"/>
<rect x="292.9" y="285.2" width="2.6" height="2.6" fill="#2222cc"/>
<line x1="306.7" y1="298.3" x2="306.7" y2="313.6" stroke="#2222cc" stroke-width="0.9"/>
<line x1="305.1" y1="298.3" x2="308.3" y2="298.3" stroke="#2222cc" stroke-width="0.9"/>
<line x1="305.1" y1="313.6" x2="308.3" y2="313.6" stroke="#2222cc" stroke-width="0.9"/>
<rect x="305.4" y="304.7" width="2.6" height="2.6" fill="#2222cc"/>
<line x1="331.5" y1="300.7" x2="331.5" y2="320.2" stroke="#2222cc" stroke-width="0.9"/>
<line x1="329.9" y1="300.7" x2="333.1" y2="300.7" stroke="#2222cc" stroke-width="0.9"/>
<line x1="329.9" y1="320.2" x2="333.1" y2="320.2" stroke="#2222cc" stroke-width="0.9"/>
<rect x="330.2" y="309.2" width="2.6" height="2.6" fill="#2222cc"/>
<line x1="406.1" y1="326.5" x2="406.1" y2="330.7" stroke="#2222cc" stroke-width="0.9"/>
<line x1="404.5" y1="326.5" x2="407.7" y2="326.5" stroke="#2222cc" stroke-width="0.9"/>
<line x1="404.5" y1="330.7" x2="407.7" y2="330.7" stroke="#2222cc" stroke-width="0.9"/>
<rect x="404.8" y="327.3" width="2.6" height="2.6" fill="#2222cc"/>
<line x1="346" y1="275" x2="356.4" y2="275" stroke="#2222cc" stroke-width="1.1"/><rect x="350" y="273.7" width="2.6" height="2.6" fill="#2222cc"/>
<line x1="346" y1="284.3" x2="356.4" y2="284.3" stroke="#d42a2a" stroke-width="1.1"/><rect x="350" y="283" width="2.6" height="2.6" fill="#d42a2a"/>
<text x="360.2" y="277.3" font-size="6.2" font-weight="bold" text-anchor="start" fill="#000" >5T4-Ab-VT680</text>
<text x="360.2" y="286.6" font-size="6.2" font-weight="bold" text-anchor="start" fill="#000" >5T4-ADC-VT680</text>
<text x="1.6" y="386.4" font-size="12" font-weight="bold" text-anchor="start" fill="#000" >D</text>
<text x="84.6" y="403.8" font-size="7.6" font-weight="bold" text-anchor="middle" fill="#000" word-spacing="-1">48 h</text>
<text x="122.2" y="403.8" font-size="7.6" font-weight="bold" text-anchor="middle" fill="#000" word-spacing="-1">96 h</text>
<text x="157.6" y="403.8" font-size="7.6" font-weight="bold" text-anchor="middle" fill="#000" word-spacing="-1">240 h</text>
<rect x="66.1" y="406.9" width="35.3" height="57.3" fill="#000"/>
<rect x="70.4" y="409.3" width="28.7" height="49.7" rx="2.5" fill="#4c4c4c" filter="url(#b1)"/>
<rect x="103.6" y="406.9" width="34.8" height="57.3" fill="#000"/>
<rect x="106.3" y="409.3" width="30.4" height="46.2" rx="2.5" fill="#333333" filter="url(#b1)"/>
<rect x="140.9" y="406.9" width="35.1" height="57.3" fill="#000"/>
<rect x="145" y="409.3" width="28.0" height="53.2" rx="2.5" fill="#3c3c3c" filter="url(#b1)"/>
<rect x="66.1" y="468.9" width="35.3" height="57.9" fill="#000"/>
<rect x="70.4" y="471.3" width="28.7" height="52.0" rx="2.5" fill="#424242" filter="url(#b1)"/>
<rect x="103.6" y="468.9" width="34.8" height="57.9" fill="#000"/>
<rect x="106.8" y="470.7" width="29.3" height="53.8" rx="2.5" fill="#3a3a3a" filter="url(#b1)"/>
<rect x="140.9" y="468.9" width="35.1" height="57.9" fill="#000"/>
<rect x="145" y="470.7" width="28.0" height="50.3" rx="2.5" fill="#383838" filter="url(#b1)"/>
<rect x="124.5" y="417" width="7" height="15" fill="#1a1ab0" opacity="0.7" filter="url(#b05)"/>
<rect x="113" y="417" width="11" height="15" fill="#1a1a70" opacity="0.4" filter="url(#b05)"/>
<rect x="121" y="436" width="7" height="9" fill="#1a1ab0" opacity="0.6" filter="url(#b05)"/>
<rect x="79.5" y="439.5" width="8.8" height="11" fill="#3a3a68" opacity="0.7" filter="url(#b05)"/>
<rect x="78" y="423.3" width="13.5" height="12.9" fill="none" stroke="#606060" stroke-width="0.5" opacity="0.6"/>
<rect x="78" y="439" width="13.5" height="14.0" fill="none" stroke="#606060" stroke-width="0.5" opacity="0.6"/>
<rect x="112.1" y="415.7" width="19.9" height="17.0" fill="none" stroke="#606060" stroke-width="0.5" opacity="0.6"/>
<rect x="112.7" y="435" width="15.8" height="13.4" fill="none" stroke="#606060" stroke-width="0.5" opacity="0.6"/>
<rect x="150.9" y="431.5" width="10.5" height="11.7" fill="none" stroke="#606060" stroke-width="0.5" opacity="0.6"/>
<rect x="150.9" y="444.4" width="10.5" height="11.1" fill="none" stroke="#606060" stroke-width="0.5" opacity="0.6"/>
<rect x="76.9" y="488.8" width="12.2" height="8.2" fill="none" stroke="#606060" stroke-width="0.5" opacity="0.6"/>
<rect x="76.9" y="499.9" width="12.2" height="12.9" fill="none" stroke="#606060" stroke-width="0.5" opacity="0.6"/>
<rect x="116.2" y="484.1" width="12.9" height="13.5" fill="none" stroke="#606060" stroke-width="0.5" opacity="0.6"/>
<rect x="114.5" y="498.2" width="14.6" height="13.4" fill="none" stroke="#606060" stroke-width="0.5" opacity="0.6"/>
<rect x="147.9" y="477.7" width="18.8" height="17.5" fill="none" stroke="#606060" stroke-width="0.5" opacity="0.6"/>
<rect x="149.7" y="497.6" width="15.2" height="14.6" fill="none" stroke="#606060" stroke-width="0.5" opacity="0.6"/>
<line x1="93.2" y1="420" x2="93.2" y2="440" stroke="#5a5a5a" stroke-width="0.5"/>
<line x1="130.5" y1="417" x2="130.5" y2="433" stroke="#5a5a5a" stroke-width="0.5"/>
<line x1="166" y1="429" x2="166" y2="442" stroke="#5a5a5a" stroke-width="0.5"/>
<line x1="92.5" y1="487" x2="92.5" y2="501" stroke="#5a5a5a" stroke-width="0.5"/>
<line x1="131" y1="482" x2="131" y2="497" stroke="#5a5a5a" stroke-width="0.5"/>
<circle cx="82.7" cy="429.1" r="5" fill="#1a3a50" opacity="0.8" filter="url(#b05)"/>
<circle cx="82.7" cy="429.1" r="3.6" fill="#58d8a8" filter="url(#b05)"/><circle cx="82.5" cy="429.3" r="1.8" fill="#40c0a0" filter="url(#b05)"/>
<path d="M122.5,418.6 Q126.5,421.5 126.2,426 Q124.5,430 119.5,430.4 Q117.8,428.5 119.5,425 Q120.5,421 122.5,418.6 Z" fill="#60c8e0" filter="url(#b05)"/>
<path d="M122.6,420.5 Q125.2,423 124.8,426.5 Q123,428 121.2,427.5 Q121,424 122.6,420.5 Z" fill="#e0e0a0" filter="url(#b05)"/>
<circle cx="124.2" cy="423.5" r="1" fill="#e06030" filter="url(#b05)"/>
<circle cx="155.5" cy="450.2" r="3.2" fill="#1040ff" filter="url(#b05)"/><circle cx="155.5" cy="450.2" r="2.2" fill="#40c8ff" filter="url(#b05)"/>
<ellipse cx="82.7" cy="507.5" rx="5.6" ry="4.6" fill="#d0a030" filter="url(#b05)"/><ellipse cx="82.9" cy="507.3" rx="4.4" ry="3.5" fill="#50e060" filter="url(#b05)"/>
<path d="M122,500.5 Q125.6,501.5 125.2,505 Q124,508.5 122,509.6 Q119.6,508 118.8,505 Q118.8,501.5 122,500.5 Z" fill="#1850ff" filter="url(#b05)"/><ellipse cx="122" cy="504.8" rx="1.9" ry="2.6" fill="#40b8ff" filter="url(#b05)"/>
<ellipse cx="157.2" cy="486.4" rx="5.3" ry="6.3" fill="#2a90ff" filter="url(#b05)"/><ellipse cx="157.2" cy="486.4" rx="3.8" ry="4.8" fill="#40d0ff" filter="url(#b05)"/><ellipse cx="157.4" cy="486.6" rx="2.8" ry="3.6" fill="#1838f0" filter="url(#b05)"/>
<text x="69.0" y="427.9" font-size="6.8" font-weight="bold" fill="#d8d848">T</text>
<line x1="73.5" y1="425.8" x2="76.1" y2="427.5" stroke="#d8d848" stroke-width="1.2"/><polygon points="78.2,429 75.1,428.9 77.0,426.2" fill="#d8d848"/>
<text x="67.9" y="446.0" font-size="6.8" font-weight="bold" fill="#d8d848">B</text>
<line x1="72.6" y1="444.5" x2="75.3" y2="445.8" stroke="#d8d848" stroke-width="1.2"/><polygon points="77.6,447 74.6,447.3 76.0,444.4" fill="#d8d848"/>
<text x="107.2" y="419.1" font-size="6.8" font-weight="bold" fill="#d8d848">T</text>
<line x1="111.5" y1="417.5" x2="114.1" y2="419.3" stroke="#d8d848" stroke-width="1.2"/><polygon points="116.2,420.8 113.1,420.6 115.0,418.0" fill="#d8d848"/>
<text x="105.5" y="441.9" font-size="6.8" font-weight="bold" fill="#d8d848">B</text>
<line x1="110.2" y1="440.5" x2="112.8" y2="442.1" stroke="#d8d848" stroke-width="1.2"/><polygon points="115,443.5 111.9,443.5 113.6,440.8" fill="#d8d848"/>
<text x="141.3" y="436.7" font-size="6.8" font-weight="bold" fill="#d8d848">B</text>
<line x1="145.6" y1="435.2" x2="148.3" y2="436.8" stroke="#d8d848" stroke-width="1.2"/><polygon points="150.5,438.2 147.4,438.2 149.1,435.5" fill="#d8d848"/>
<text x="142.5" y="448.9" font-size="6.8" font-weight="bold" fill="#d8d848">T</text>
<line x1="146.8" y1="447.5" x2="148.7" y2="449.2" stroke="#d8d848" stroke-width="1.2"/><polygon points="150.6,451 147.6,450.4 149.8,448.1" fill="#d8d848"/>
<text x="69.0" y="492.8" font-size="6.8" font-weight="bold" fill="#d8d848">B</text>
<line x1="73.4" y1="491.4" x2="76.4" y2="493.4" stroke="#d8d848" stroke-width="1.2"/><polygon points="78.6,494.8 75.5,494.7 77.3,492.0" fill="#d8d848"/>
<text x="68.5" y="506.9" font-size="6.8" font-weight="bold" fill="#d8d848">T</text>
<line x1="72.8" y1="505.5" x2="76.1" y2="507.7" stroke="#d8d848" stroke-width="1.2"/><polygon points="78.2,509.2 75.1,509.1 77.0,506.4" fill="#d8d848"/>
<text x="107.2" y="489.9" font-size="6.8" font-weight="bold" fill="#d8d848">B</text>
<line x1="111.6" y1="488.5" x2="114.0" y2="490.1" stroke="#d8d848" stroke-width="1.2"/><polygon points="116.2,491.6 113.1,491.5 114.9,488.8" fill="#d8d848"/>
<text x="107.80000000000001" y="503.3" font-size="6.8" font-weight="bold" fill="#d8d848">T</text>
<line x1="112.1" y1="502" x2="114.9" y2="503.9" stroke="#d8d848" stroke-width="1.2"/><polygon points="117,505.4 113.9,505.2 115.8,502.6" fill="#d8d848"/>
<text x="143.0" y="480.0" font-size="6.8" font-weight="bold" fill="#d8d848">T</text>
<line x1="147.3" y1="478.6" x2="149.9" y2="480.6" stroke="#d8d848" stroke-width="1.2"/><polygon points="152,482.2 149.0,481.9 150.9,479.3" fill="#d8d848"/>
<text x="143.0" y="506.3" font-size="6.8" font-weight="bold" fill="#d8d848">B</text>
<line x1="147.3" y1="504.9" x2="149.7" y2="506.2" stroke="#d8d848" stroke-width="1.2"/><polygon points="152,507.5 148.9,507.7 150.5,504.8" fill="#d8d848"/>
<text x="44.8" y="435.2" font-size="7.6" font-weight="bold" text-anchor="middle" fill="#000" >5T4-ADC</text>
<text x="45.1" y="444.4" font-size="7.6" font-weight="bold" text-anchor="middle" fill="#000" >-VT680</text>
<text x="46.4" y="495.6" font-size="7.6" font-weight="bold" text-anchor="middle" fill="#000" >5T4-Ab</text>
<text x="46.2" y="504.0" font-size="7.6" font-weight="bold" text-anchor="middle" fill="#000" >-VT680</text>
<rect x="179.3" y="424" width="4.6" height="79.2" fill="url(#jet)"/>
<line x1="183.9" y1="424.2" x2="185" y2="424.2" stroke="#888" stroke-width="0.4"/>
<text x="185.3" y="425.3" font-size="3.2" font-weight="normal" text-anchor="start" fill="#777" >2,000.00</text>
<line x1="183.9" y1="443.9" x2="185" y2="443.9" stroke="#888" stroke-width="0.4"/>
<text x="185.3" y="445.05" font-size="3.2" font-weight="normal" text-anchor="start" fill="#777" >1,500.00</text>
<line x1="183.9" y1="463.7" x2="185" y2="463.7" stroke="#888" stroke-width="0.4"/>
<text x="185.3" y="464.8" font-size="3.2" font-weight="normal" text-anchor="start" fill="#777" >1,000.00</text>
<line x1="183.9" y1="483.4" x2="185" y2="483.4" stroke="#888" stroke-width="0.4"/>
<text x="185.3" y="484.55" font-size="3.2" font-weight="normal" text-anchor="start" fill="#777" >500.00</text>
<line x1="183.9" y1="503.2" x2="185" y2="503.2" stroke="#888" stroke-width="0.4"/>
<text x="185.3" y="504.3" font-size="3.2" font-weight="normal" text-anchor="start" fill="#777" >0.00</text>
<text x="180" y="508.4" font-size="3.2" font-weight="normal" text-anchor="start" fill="#777" >(unit)</text>
<line x1="22" y1="530.5" x2="200" y2="530.5" stroke="#eee" stroke-width="0.6"/>
<text x="250.6" y="386.4" font-size="12" font-weight="bold" text-anchor="start" fill="#000" >E</text>
<line x1="279.6" y1="407.29999999999995" x2="279.6" y2="513.8" stroke="#000" stroke-width="0.9"/>
<line x1="279.6" y1="513.8" x2="439.5" y2="513.8" stroke="#000" stroke-width="0.9"/>
<line x1="276.6" y1="513.8" x2="279.6" y2="513.8" stroke="#000" stroke-width="0.9"/>
<text x="275.2" y="516.3" font-size="7" font-weight="bold" text-anchor="end" fill="#000" >0</text>
<line x1="276.6" y1="478.3" x2="279.6" y2="478.3" stroke="#000" stroke-width="0.9"/>
<text x="275.2" y="480.79999999999995" font-size="7" font-weight="bold" text-anchor="end" fill="#000" >5</text>
<line x1="276.6" y1="442.8" x2="279.6" y2="442.8" stroke="#000" stroke-width="0.9"/>
<text x="275.2" y="445.29999999999995" font-size="7" font-weight="bold" text-anchor="end" fill="#000" >10</text>
<line x1="276.6" y1="407.3" x2="279.6" y2="407.3" stroke="#000" stroke-width="0.9"/>
<text x="275.2" y="409.79999999999995" font-size="7" font-weight="bold" text-anchor="end" fill="#000" >15</text>
<line x1="297.8" y1="447.1" x2="297.8" y2="462.0" stroke="#f01818" stroke-width="1.2"/>
<line x1="294.3" y1="447.1" x2="301.3" y2="447.1" stroke="#f01818" stroke-width="1.2"/>
<rect x="290" y="462.0" width="15.6" height="51.8" fill="#f01818"/>
<line x1="297.8" y1="513.8" x2="297.8" y2="517.3" stroke="#000" stroke-width="0.9"/>
<text transform="translate(299.4,523.0) rotate(-45)" font-size="7.4" font-weight="bold" text-anchor="end">48</text>
<line x1="319.2" y1="465.2" x2="319.2" y2="480.1" stroke="#f01818" stroke-width="1.2"/>
<line x1="315.7" y1="465.2" x2="322.7" y2="465.2" stroke="#f01818" stroke-width="1.2"/>
<rect x="311.5" y="480.1" width="15.4" height="33.7" fill="#f01818"/>
<line x1="319.2" y1="513.8" x2="319.2" y2="517.3" stroke="#000" stroke-width="0.9"/>
<text transform="translate(320.8,523.0) rotate(-45)" font-size="7.4" font-weight="bold" text-anchor="end">96</text>
<line x1="341.2" y1="483.6" x2="341.2" y2="491.1" stroke="#f01818" stroke-width="1.2"/>
<line x1="337.8" y1="483.6" x2="344.8" y2="483.6" stroke="#f01818" stroke-width="1.2"/>
<rect x="333.4" y="491.1" width="15.7" height="22.7" fill="#f01818"/>
<line x1="341.2" y1="513.8" x2="341.2" y2="517.3" stroke="#000" stroke-width="0.9"/>
<text transform="translate(342.9,523.0) rotate(-45)" font-size="7.4" font-weight="bold" text-anchor="end">240</text>
<line x1="377.6" y1="431.8" x2="377.6" y2="444.2" stroke="#1414e6" stroke-width="1.2"/>
<line x1="374.1" y1="431.8" x2="381.1" y2="431.8" stroke="#1414e6" stroke-width="1.2"/>
<rect x="369.8" y="444.2" width="15.6" height="69.6" fill="#1414e6"/>
<line x1="377.6" y1="513.8" x2="377.6" y2="517.3" stroke="#000" stroke-width="0.9"/>
<text transform="translate(379.2,523.0) rotate(-45)" font-size="7.4" font-weight="bold" text-anchor="end">48</text>
<line x1="399.2" y1="458.1" x2="399.2" y2="470.8" stroke="#1414e6" stroke-width="1.2"/>
<line x1="395.8" y1="458.1" x2="402.8" y2="458.1" stroke="#1414e6" stroke-width="1.2"/>
<rect x="391.5" y="470.8" width="15.5" height="43.0" fill="#1414e6"/>
<line x1="399.2" y1="513.8" x2="399.2" y2="517.3" stroke="#000" stroke-width="0.9"/>
<text transform="translate(400.9,523.0) rotate(-45)" font-size="7.4" font-weight="bold" text-anchor="end">96</text>
<line x1="420.8" y1="474.0" x2="420.8" y2="474.0" stroke="#1414e6" stroke-width="1.2"/>
<line x1="417.2" y1="474.0" x2="424.2" y2="474.0" stroke="#1414e6" stroke-width="1.2"/>
<rect x="413" y="474.0" width="15.5" height="39.8" fill="#1414e6"/>
<line x1="420.8" y1="513.8" x2="420.8" y2="517.3" stroke="#000" stroke-width="0.9"/>
<text transform="translate(422.4,523.0) rotate(-45)" font-size="7.4" font-weight="bold" text-anchor="end">240</text>
<text x="421.2" y="470.2" font-size="13" font-weight="bold" text-anchor="middle" fill="#000" >*</text>
<text x="306.2" y="543.2" font-size="9" font-weight="bold" text-anchor="start" fill="#000" textLength="104.6" lengthAdjust="spacingAndGlyphs">Time (h, postinjection)</text>
<text transform="translate(261.2,462.5) rotate(-90)" font-size="8.6" font-weight="bold" text-anchor="middle" textLength="35" lengthAdjust="spacingAndGlyphs">% ID/gm</text>
<rect x="395.8" y="413.4" width="12.6" height="5.4" fill="#f01818"/>
<rect x="395.8" y="425.5" width="12.6" height="5.4" fill="#1414e6"/>
<text x="413.2" y="418.4" font-size="6.6" font-weight="bold" text-anchor="start" fill="#000" >5T4-ADC-VT680</text>
<text x="413.2" y="430.6" font-size="6.6" font-weight="bold" text-anchor="start" fill="#000" >5T4-Ab-VT680</text>

<text x="49.2" y="243.2" font-size="10" font-weight="bold">Tumor volume (<tspan font-style="italic">in vivo</tspan>)</text>
<text x="290.4" y="243.6" font-size="10" font-weight="bold">Profile in the tumor (<tspan font-style="italic">in vivo</tspan>)</text>
<text x="32" y="388.9" font-size="10" font-weight="bold">Accumulation in the tumor (<tspan font-style="italic">ex vivo</tspan>)</text>
<text x="286.2" y="388.9" font-size="10" font-weight="bold">FMT tumor quantitation (<tspan font-style="italic">ex vivo</tspan>)</text>

</svg></body></html>
